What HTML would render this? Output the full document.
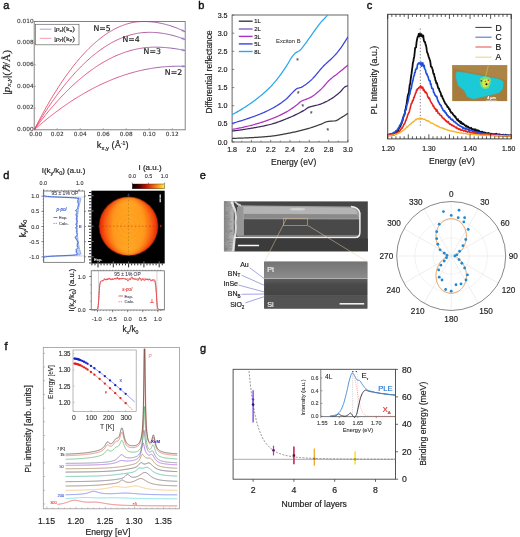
<!DOCTYPE html>
<html><head><meta charset="utf-8"><title>figure</title>
<style>html,body{margin:0;padding:0;background:#fff}svg{display:block}</style></head>
<body><svg width="520" height="537" viewBox="0 0 520 537">
<rect width="520" height="537" fill="#fff"/>
<g filter="url(#soft)">
<g id="panel-a">
<text x="3.2" y="8.8" font-size="11" text-anchor="start" fill="#111" font-family="Liberation Sans, sans-serif" stroke="#111" stroke-width="0.4">a</text>
<rect x="34.2" y="21.5" width="151" height="108.3" fill="#fff" stroke="#777" stroke-width="0.9"/>
<clipPath id="clipA"><rect x="34.2" y="20.5" width="151" height="110.3"/></clipPath>
<g clip-path="url(#clipA)">
<path d="M181.62 30.09 L182.7 30.59 L183.77 31.09 L184.85 31.61" fill="none" stroke="#cdbfe9" stroke-width="2.6" opacity="0.8"/>
<path d="M34.2 129.8 L35.28 127.68 L36.35 125.58 L37.43 123.49 L38.5 121.43 L39.58 119.4 L40.66 117.38 L41.73 115.38 L42.81 113.41 L43.88 111.45 L44.96 109.52 L46.04 107.6 L47.11 105.71 L48.19 103.84 L49.27 101.99 L50.34 100.16 L51.42 98.35 L52.49 96.57 L53.57 94.8 L54.65 93.06 L55.72 91.33 L56.8 89.63 L57.87 87.95 L58.95 86.29 L60.03 84.65 L61.1 83.03 L62.18 81.43 L63.25 79.86 L64.33 78.3 L65.41 76.77 L66.48 75.25 L67.56 73.76 L68.63 72.29 L69.71 70.84 L70.79 69.41 L71.86 68 L72.94 66.61 L74.01 65.25 L75.09 63.9 L76.17 62.58 L77.24 61.27 L78.32 59.99 L79.4 58.73 L80.47 57.49 L81.55 56.27 L82.62 55.07 L83.7 53.89 L84.78 52.74 L85.85 51.6 L86.93 50.49 L88 49.4 L89.08 48.32 L90.16 47.27 L91.23 46.24 L92.31 45.23 L93.38 44.24 L94.46 43.28 L95.54 42.33 L96.61 41.41 L97.69 40.5 L98.76 39.62 L99.84 38.76 L100.92 37.92 L101.99 37.1 L103.07 36.3 L104.14 35.52 L105.22 34.76 L106.3 34.03 L107.37 33.31 L108.45 32.62 L109.53 31.94 L110.6 31.29 L111.68 30.66 L112.75 30.05 L113.83 29.46 L114.91 28.89 L115.98 28.35 L117.06 27.82 L118.13 27.32 L119.21 26.83 L120.29 26.37 L121.36 25.93 L122.44 25.51 L123.51 25.11 L124.59 24.73 L125.67 24.37 L126.74 24.03 L127.82 23.72 L128.89 23.42 L129.97 23.15 L131.05 22.9 L132.12 22.66 L133.2 22.45 L134.27 22.26 L135.35 22.1 L136.43 21.95 L137.5 21.82 L138.58 21.72 L139.66 21.63 L140.73 21.57 L141.81 21.52 L142.88 21.5 L143.96 21.5 L145.04 21.51 L146.11 21.54 L147.19 21.58 L148.26 21.64 L149.34 21.7 L150.42 21.79 L151.49 21.88 L152.57 21.99 L153.64 22.11 L154.72 22.25 L155.8 22.4 L156.87 22.56 L157.95 22.74 L159.02 22.93 L160.1 23.14 L161.18 23.35 L162.25 23.59 L163.33 23.83 L164.4 24.09 L165.48 24.36 L166.56 24.65 L167.63 24.95 L168.71 25.26 L169.79 25.59 L170.86 25.93 L171.94 26.29 L173.01 26.65 L174.09 27.04 L175.17 27.43 L176.24 27.84 L177.32 28.26 L178.39 28.7 L179.47 29.15 L180.55 29.62 L181.62 30.09 L182.7 30.59 L183.77 31.09 L184.85 31.61" fill="none" stroke="url(#gradA)" stroke-width="0.8"/>
<path d="M181.62 38.22 L182.7 38.62 L183.77 39.03 L184.85 39.45" fill="none" stroke="#cdbfe9" stroke-width="2.6" opacity="0.8"/>
<path d="M34.2 129.8 L35.28 127.98 L36.35 126.19 L37.43 124.4 L38.5 122.64 L39.58 120.89 L40.66 119.16 L41.73 117.45 L42.81 115.75 L43.88 114.07 L44.96 112.41 L46.04 110.77 L47.11 109.14 L48.19 107.53 L49.27 105.94 L50.34 104.36 L51.42 102.8 L52.49 101.26 L53.57 99.73 L54.65 98.22 L55.72 96.73 L56.8 95.26 L57.87 93.8 L58.95 92.36 L60.03 90.94 L61.1 89.53 L62.18 88.14 L63.25 86.77 L64.33 85.42 L65.41 84.08 L66.48 82.76 L67.56 81.45 L68.63 80.17 L69.71 78.9 L70.79 77.65 L71.86 76.41 L72.94 75.19 L74.01 73.99 L75.09 72.81 L76.17 71.64 L77.24 70.49 L78.32 69.36 L79.4 68.24 L80.47 67.14 L81.55 66.06 L82.62 65 L83.7 63.95 L84.78 62.92 L85.85 61.91 L86.93 60.91 L88 59.93 L89.08 58.97 L90.16 58.02 L91.23 57.1 L92.31 56.19 L93.38 55.29 L94.46 54.41 L95.54 53.55 L96.61 52.71 L97.69 51.89 L98.76 51.08 L99.84 50.29 L100.92 49.51 L101.99 48.75 L103.07 48.01 L104.14 47.29 L105.22 46.59 L106.3 45.9 L107.37 45.22 L108.45 44.57 L109.53 43.93 L110.6 43.31 L111.68 42.71 L112.75 42.12 L113.83 41.55 L114.91 41 L115.98 40.46 L117.06 39.94 L118.13 39.44 L119.21 38.96 L120.29 38.49 L121.36 38.04 L122.44 37.61 L123.51 37.19 L124.59 36.79 L125.67 36.41 L126.74 36.05 L127.82 35.7 L128.89 35.37 L129.97 35.06 L131.05 34.76 L132.12 34.48 L133.2 34.22 L134.27 33.97 L135.35 33.74 L136.43 33.53 L137.5 33.34 L138.58 33.16 L139.66 33 L140.73 32.86 L141.81 32.73 L142.88 32.62 L143.96 32.53 L145.04 32.46 L146.11 32.4 L147.19 32.36 L148.26 32.34 L149.34 32.33 L150.42 32.34 L151.49 32.36 L152.57 32.39 L153.64 32.44 L154.72 32.5 L155.8 32.57 L156.87 32.66 L157.95 32.76 L159.02 32.87 L160.1 33 L161.18 33.13 L162.25 33.28 L163.33 33.45 L164.4 33.62 L165.48 33.81 L166.56 34.02 L167.63 34.23 L168.71 34.46 L169.79 34.7 L170.86 34.96 L171.94 35.23 L173.01 35.51 L174.09 35.8 L175.17 36.11 L176.24 36.43 L177.32 36.76 L178.39 37.1 L179.47 37.46 L180.55 37.83 L181.62 38.22 L182.7 38.62 L183.77 39.03 L184.85 39.45" fill="none" stroke="url(#gradA)" stroke-width="0.8"/>
<path d="M181.62 49.83 L182.7 50.05 L183.77 50.27 L184.85 50.51" fill="none" stroke="#cdbfe9" stroke-width="2.6" opacity="0.8"/>
<path d="M34.2 129.8 L35.28 128.33 L36.35 126.88 L37.43 125.44 L38.5 124.01 L39.58 122.6 L40.66 121.2 L41.73 119.81 L42.81 118.44 L43.88 117.08 L44.96 115.73 L46.04 114.39 L47.11 113.07 L48.19 111.76 L49.27 110.47 L50.34 109.18 L51.42 107.92 L52.49 106.66 L53.57 105.42 L54.65 104.19 L55.72 102.97 L56.8 101.77 L57.87 100.58 L58.95 99.4 L60.03 98.23 L61.1 97.08 L62.18 95.94 L63.25 94.82 L64.33 93.71 L65.41 92.61 L66.48 91.52 L67.56 90.45 L68.63 89.39 L69.71 88.34 L70.79 87.31 L71.86 86.29 L72.94 85.28 L74.01 84.29 L75.09 83.31 L76.17 82.34 L77.24 81.39 L78.32 80.45 L79.4 79.52 L80.47 78.6 L81.55 77.7 L82.62 76.81 L83.7 75.94 L84.78 75.08 L85.85 74.23 L86.93 73.39 L88 72.57 L89.08 71.76 L90.16 70.96 L91.23 70.18 L92.31 69.41 L93.38 68.65 L94.46 67.9 L95.54 67.17 L96.61 66.45 L97.69 65.75 L98.76 65.06 L99.84 64.38 L100.92 63.71 L101.99 63.06 L103.07 62.42 L104.14 61.8 L105.22 61.18 L106.3 60.58 L107.37 60 L108.45 59.42 L109.53 58.86 L110.6 58.31 L111.68 57.78 L112.75 57.26 L113.83 56.75 L114.91 56.26 L115.98 55.77 L117.06 55.3 L118.13 54.85 L119.21 54.41 L120.29 53.98 L121.36 53.56 L122.44 53.16 L123.51 52.77 L124.59 52.39 L125.67 52.03 L126.74 51.68 L127.82 51.34 L128.89 51.01 L129.97 50.7 L131.05 50.41 L132.12 50.12 L133.2 49.85 L134.27 49.59 L135.35 49.34 L136.43 49.11 L137.5 48.89 L138.58 48.69 L139.66 48.49 L140.73 48.31 L141.81 48.15 L142.88 47.99 L143.96 47.85 L145.04 47.72 L146.11 47.61 L147.19 47.51 L148.26 47.42 L149.34 47.35 L150.42 47.28 L151.49 47.23 L152.57 47.2 L153.64 47.18 L154.72 47.17 L155.8 47.17 L156.87 47.18 L157.95 47.2 L159.02 47.23 L160.1 47.27 L161.18 47.31 L162.25 47.37 L163.33 47.43 L164.4 47.5 L165.48 47.58 L166.56 47.67 L167.63 47.77 L168.71 47.88 L169.79 47.99 L170.86 48.11 L171.94 48.25 L173.01 48.39 L174.09 48.54 L175.17 48.7 L176.24 48.86 L177.32 49.04 L178.39 49.22 L179.47 49.42 L180.55 49.62 L181.62 49.83 L182.7 50.05 L183.77 50.27 L184.85 50.51" fill="none" stroke="url(#gradA)" stroke-width="0.8"/>
<path d="M181.62 66.25 L182.7 66.27 L183.77 66.29 L184.85 66.32" fill="none" stroke="#cdbfe9" stroke-width="2.6" opacity="0.8"/>
<path d="M34.2 129.8 L35.28 128.85 L36.35 127.91 L37.43 126.98 L38.5 126.05 L39.58 125.13 L40.66 124.22 L41.73 123.31 L42.81 122.41 L43.88 121.52 L44.96 120.64 L46.04 119.76 L47.11 118.89 L48.19 118.03 L49.27 117.17 L50.34 116.33 L51.42 115.48 L52.49 114.65 L53.57 113.82 L54.65 113 L55.72 112.19 L56.8 111.38 L57.87 110.59 L58.95 109.79 L60.03 109.01 L61.1 108.23 L62.18 107.46 L63.25 106.7 L64.33 105.94 L65.41 105.19 L66.48 104.45 L67.56 103.72 L68.63 102.99 L69.71 102.27 L70.79 101.56 L71.86 100.85 L72.94 100.15 L74.01 99.46 L75.09 98.78 L76.17 98.1 L77.24 97.43 L78.32 96.77 L79.4 96.11 L80.47 95.46 L81.55 94.82 L82.62 94.18 L83.7 93.56 L84.78 92.94 L85.85 92.32 L86.93 91.72 L88 91.12 L89.08 90.53 L90.16 89.94 L91.23 89.36 L92.31 88.79 L93.38 88.23 L94.46 87.67 L95.54 87.12 L96.61 86.58 L97.69 86.05 L98.76 85.52 L99.84 85 L100.92 84.48 L101.99 83.98 L103.07 83.48 L104.14 82.99 L105.22 82.5 L106.3 82.02 L107.37 81.55 L108.45 81.09 L109.53 80.63 L110.6 80.18 L111.68 79.74 L112.75 79.3 L113.83 78.88 L114.91 78.46 L115.98 78.04 L117.06 77.64 L118.13 77.24 L119.21 76.84 L120.29 76.46 L121.36 76.08 L122.44 75.71 L123.51 75.34 L124.59 74.99 L125.67 74.64 L126.74 74.3 L127.82 73.96 L128.89 73.63 L129.97 73.31 L131.05 73 L132.12 72.69 L133.2 72.39 L134.27 72.1 L135.35 71.81 L136.43 71.53 L137.5 71.26 L138.58 71 L139.66 70.74 L140.73 70.49 L141.81 70.25 L142.88 70.01 L143.96 69.78 L145.04 69.56 L146.11 69.35 L147.19 69.14 L148.26 68.94 L149.34 68.75 L150.42 68.56 L151.49 68.38 L152.57 68.21 L153.64 68.05 L154.72 67.89 L155.8 67.74 L156.87 67.59 L157.95 67.46 L159.02 67.33 L160.1 67.21 L161.18 67.09 L162.25 66.99 L163.33 66.89 L164.4 66.79 L165.48 66.71 L166.56 66.63 L167.63 66.56 L168.71 66.49 L169.79 66.43 L170.86 66.38 L171.94 66.34 L173.01 66.3 L174.09 66.27 L175.17 66.25 L176.24 66.24 L177.32 66.23 L178.39 66.23 L179.47 66.23 L180.55 66.24 L181.62 66.25 L182.7 66.27 L183.77 66.29 L184.85 66.32" fill="none" stroke="url(#gradA)" stroke-width="0.8"/>
</g>
<line x1="34.2" y1="129.8" x2="34.2" y2="128.2" stroke="#777" stroke-width="0.6" />
<text x="35.7" y="136.1" font-size="5.8" text-anchor="middle" fill="#333" font-family="DejaVu Sans, sans-serif"  stroke="#333" stroke-width="0.1">0.00</text>
<line x1="57.2" y1="129.8" x2="57.2" y2="128.2" stroke="#777" stroke-width="0.6" />
<text x="57.2" y="136.1" font-size="5.8" text-anchor="middle" fill="#333" font-family="DejaVu Sans, sans-serif"  stroke="#333" stroke-width="0.1">0.02</text>
<line x1="80.2" y1="129.8" x2="80.2" y2="128.2" stroke="#777" stroke-width="0.6" />
<text x="80.2" y="136.1" font-size="5.8" text-anchor="middle" fill="#333" font-family="DejaVu Sans, sans-serif"  stroke="#333" stroke-width="0.1">0.04</text>
<line x1="103.2" y1="129.8" x2="103.2" y2="128.2" stroke="#777" stroke-width="0.6" />
<text x="103.2" y="136.1" font-size="5.8" text-anchor="middle" fill="#333" font-family="DejaVu Sans, sans-serif"  stroke="#333" stroke-width="0.1">0.06</text>
<line x1="126.2" y1="129.8" x2="126.2" y2="128.2" stroke="#777" stroke-width="0.6" />
<text x="126.2" y="136.1" font-size="5.8" text-anchor="middle" fill="#333" font-family="DejaVu Sans, sans-serif"  stroke="#333" stroke-width="0.1">0.08</text>
<line x1="149.2" y1="129.8" x2="149.2" y2="128.2" stroke="#777" stroke-width="0.6" />
<text x="149.2" y="136.1" font-size="5.8" text-anchor="middle" fill="#333" font-family="DejaVu Sans, sans-serif"  stroke="#333" stroke-width="0.1">0.10</text>
<line x1="172.2" y1="129.8" x2="172.2" y2="128.2" stroke="#777" stroke-width="0.6" />
<text x="172.2" y="136.1" font-size="5.8" text-anchor="middle" fill="#333" font-family="DejaVu Sans, sans-serif"  stroke="#333" stroke-width="0.1">0.12</text>
<line x1="34.2" y1="129.8" x2="35.8" y2="129.8" stroke="#777" stroke-width="0.6" />
<text x="33.6" y="131" font-size="5.8" text-anchor="end" fill="#333" font-family="DejaVu Sans, sans-serif"  stroke="#333" stroke-width="0.1">0.000</text>
<line x1="34.2" y1="108.14" x2="35.8" y2="108.14" stroke="#777" stroke-width="0.6" />
<text x="33.6" y="109.34" font-size="5.8" text-anchor="end" fill="#333" font-family="DejaVu Sans, sans-serif"  stroke="#333" stroke-width="0.1">0.002</text>
<line x1="34.2" y1="86.48" x2="35.8" y2="86.48" stroke="#777" stroke-width="0.6" />
<text x="33.6" y="87.68" font-size="5.8" text-anchor="end" fill="#333" font-family="DejaVu Sans, sans-serif"  stroke="#333" stroke-width="0.1">0.004</text>
<line x1="34.2" y1="64.82" x2="35.8" y2="64.82" stroke="#777" stroke-width="0.6" />
<text x="33.6" y="66.02" font-size="5.8" text-anchor="end" fill="#333" font-family="DejaVu Sans, sans-serif"  stroke="#333" stroke-width="0.1">0.006</text>
<line x1="34.2" y1="43.16" x2="35.8" y2="43.16" stroke="#777" stroke-width="0.6" />
<text x="33.6" y="44.36" font-size="5.8" text-anchor="end" fill="#333" font-family="DejaVu Sans, sans-serif"  stroke="#333" stroke-width="0.1">0.008</text>
<line x1="34.2" y1="21.5" x2="35.8" y2="21.5" stroke="#777" stroke-width="0.6" />
<text x="33.6" y="22.7" font-size="5.8" text-anchor="end" fill="#333" font-family="DejaVu Sans, sans-serif"  stroke="#333" stroke-width="0.1">0.010</text>
<rect x="35.6" y="24.3" width="43.4" height="20.5" fill="#fff" stroke="#666" stroke-width="0.7"/>
<line x1="39.8" y1="29.2" x2="51.4" y2="29.2" stroke="#7a78d8" stroke-width="0.7" />
<line x1="39.8" y1="38.3" x2="51.4" y2="38.3" stroke="#f07088" stroke-width="0.7" />
<text x="54.2" y="31.3" font-size="6.2" text-anchor="start" fill="#333" font-family="Liberation Serif, serif" textLength="20.6" lengthAdjust="spacingAndGlyphs" stroke="#333" stroke-width="0.2">|<tspan font-style="italic">p<tspan font-size="4" dy="0.9">x</tspan></tspan><tspan dy="-0.9">|(k</tspan><tspan font-size="4" dy="0.9">x</tspan><tspan dy="-0.9">)</tspan></text>
<text x="54.2" y="40.5" font-size="6.2" text-anchor="start" fill="#333" font-family="Liberation Serif, serif" textLength="20.6" lengthAdjust="spacingAndGlyphs" stroke="#333" stroke-width="0.2">|<tspan font-style="italic">p<tspan font-size="4" dy="0.9">y</tspan></tspan><tspan dy="-0.9">|(k</tspan><tspan font-size="4" dy="0.9">y</tspan><tspan dy="-0.9">)</tspan></text>
<text x="93.5" y="31.3" font-size="7.8" text-anchor="start" fill="#222" font-family="DejaVu Sans, sans-serif"  stroke="#222" stroke-width="0.18">N=5</text>
<text x="122.4" y="42.4" font-size="7.8" text-anchor="start" fill="#222" font-family="DejaVu Sans, sans-serif"  stroke="#222" stroke-width="0.18">N=4</text>
<text x="143.6" y="53.6" font-size="7.8" text-anchor="start" fill="#222" font-family="DejaVu Sans, sans-serif"  stroke="#222" stroke-width="0.18">N=3</text>
<text x="164.8" y="75.4" font-size="7.8" text-anchor="start" fill="#222" font-family="DejaVu Sans, sans-serif"  stroke="#222" stroke-width="0.18">N=2</text>
<text x="96.8" y="147.9" font-size="9.4" text-anchor="start" fill="#222" font-family="Liberation Sans, sans-serif" textLength="31.7" lengthAdjust="spacingAndGlyphs" stroke="#222" stroke-width="0.18">k<tspan font-size="6" dy="1.8">x,y</tspan><tspan dy="-1.8"> (Å</tspan><tspan font-size="5.2" dy="-3">-1</tspan><tspan dy="3">)</tspan></text>
<text x="0" y="0" font-size="10.2" text-anchor="middle" fill="#222" font-family="Liberation Serif, serif" transform="translate(9.6 72.3) rotate(-90)" textLength="45" lengthAdjust="spacingAndGlyphs" stroke="#222" stroke-width="0.15">|<tspan font-style="italic">p<tspan font-size="6.8" dy="1.6">x,y</tspan></tspan><tspan dy="-1.6">|(</tspan><tspan font-style="italic">ℏ</tspan>/Å)</text>
</g>
<g id="panel-b">
<text x="198.2" y="8.9" font-size="11" text-anchor="start" fill="#111" font-family="Liberation Sans, sans-serif" stroke="#111" stroke-width="0.4">b</text>
<rect x="232.1" y="15" width="115.8" height="127" fill="#fff" stroke="#555" stroke-width="0.9"/>
<clipPath id="clipB"><rect x="232.1" y="15" width="115.8" height="127"/></clipPath>
<g clip-path="url(#clipB)">
<path d="M232.1 138.37 L233.07 138.35 L234.05 138.33 L235.02 138.31 L235.99 138.28 L236.97 138.25 L237.94 138.22 L238.91 138.19 L239.88 138.15 L240.86 138.12 L241.83 138.08 L242.8 138.04 L243.78 138 L244.75 137.96 L245.72 137.92 L246.7 137.87 L247.67 137.83 L248.64 137.78 L249.62 137.73 L250.59 137.69 L251.56 137.64 L252.54 137.59 L253.51 137.54 L254.48 137.48 L255.45 137.43 L256.43 137.37 L257.4 137.31 L258.37 137.24 L259.35 137.18 L260.32 137.11 L261.29 137.04 L262.27 136.97 L263.24 136.89 L264.21 136.81 L265.19 136.73 L266.16 136.64 L267.13 136.56 L268.11 136.46 L269.08 136.37 L270.05 136.27 L271.02 136.17 L272 136.05 L272.97 135.93 L273.94 135.8 L274.92 135.66 L275.89 135.52 L276.86 135.37 L277.84 135.21 L278.81 135.05 L279.78 134.88 L280.76 134.71 L281.73 134.53 L282.7 134.35 L283.67 134.17 L284.65 133.98 L285.62 133.79 L286.59 133.6 L287.57 133.41 L288.54 133.22 L289.51 133.03 L290.49 132.83 L291.46 132.64 L292.43 132.43 L293.41 132.23 L294.38 132.02 L295.35 131.8 L296.33 131.58 L297.3 131.35 L298.27 131.13 L299.24 130.89 L300.22 130.65 L301.19 130.41 L302.16 130.16 L303.14 129.91 L304.11 129.66 L305.08 129.39 L306.06 129.13 L307.03 128.86 L308 128.59 L308.98 128.31 L309.95 128.02 L310.92 127.73 L311.89 127.42 L312.87 127.1 L313.84 126.77 L314.81 126.44 L315.79 126.09 L316.76 125.74 L317.73 125.39 L318.71 125.03 L319.68 124.67 L320.65 124.31 L321.63 123.92 L322.6 123.47 L323.57 123 L324.55 122.53 L325.52 122.11 L326.49 121.76 L327.46 121.53 L328.44 121.4 L329.41 121.31 L330.38 121.23 L331.36 121.15 L332.33 121.07 L333.3 121 L334.28 120.91 L335.25 120.79 L336.22 120.56 L337.2 120.14 L338.17 119.59 L339.14 118.97 L340.12 118.33 L341.09 117.73 L342.06 117.15 L343.03 116.56 L344.01 115.95 L344.98 115.32 L345.95 114.68 L346.93 114.02 L347.9 113.34" fill="none" stroke="#3a3a3a" stroke-width="1.25"/>
<path d="M232.1 131.12 L233.07 130.99 L234.05 130.87 L235.02 130.74 L235.99 130.6 L236.97 130.47 L237.94 130.33 L238.91 130.19 L239.88 130.05 L240.86 129.91 L241.83 129.76 L242.8 129.61 L243.78 129.46 L244.75 129.31 L245.72 129.15 L246.7 129 L247.67 128.84 L248.64 128.68 L249.62 128.52 L250.59 128.35 L251.56 128.19 L252.54 128.02 L253.51 127.85 L254.48 127.69 L255.45 127.52 L256.43 127.35 L257.4 127.17 L258.37 127 L259.35 126.82 L260.32 126.64 L261.29 126.45 L262.27 126.26 L263.24 126.06 L264.21 125.86 L265.19 125.65 L266.16 125.44 L267.13 125.22 L268.11 124.99 L269.08 124.75 L270.05 124.5 L271.02 124.25 L272 123.98 L272.97 123.69 L273.94 123.4 L274.92 123.09 L275.89 122.78 L276.86 122.45 L277.84 122.11 L278.81 121.77 L279.78 121.41 L280.76 121.05 L281.73 120.68 L282.7 120.31 L283.67 119.93 L284.65 119.54 L285.62 119.15 L286.59 118.75 L287.57 118.35 L288.54 117.94 L289.51 117.53 L290.49 117.12 L291.46 116.7 L292.43 116.27 L293.41 115.83 L294.38 115.37 L295.35 114.91 L296.33 114.43 L297.3 113.95 L298.27 113.45 L299.24 112.95 L300.22 112.43 L301.19 111.91 L302.16 111.37 L303.14 110.83 L304.11 110.28 L305.08 109.7 L306.06 109 L307.03 108.29 L308 107.63 L308.98 107.11 L309.95 106.79 L310.92 106.56 L311.89 106.36 L312.87 106.15 L313.84 105.92 L314.81 105.7 L315.79 105.47 L316.76 105.24 L317.73 104.98 L318.71 104.71 L319.68 104.39 L320.65 104.05 L321.63 103.67 L322.6 103.27 L323.57 102.84 L324.55 102.39 L325.52 101.93 L326.49 101.45 L327.46 100.96 L328.44 100.45 L329.41 99.9 L330.38 99.33 L331.36 98.73 L332.33 98.11 L333.3 97.46 L334.28 96.78 L335.25 96.07 L336.22 95.32 L337.2 94.53 L338.17 93.72 L339.14 92.87 L340.12 91.99 L341.09 90.99 L342.06 89.81 L343.03 88.63 L344.01 87.6 L344.98 86.87 L345.95 86.38 L346.93 85.99 L347.9 85.77" fill="none" stroke="#3d2a5c" stroke-width="1.25"/>
<path d="M232.1 129.41 L233.07 129.25 L234.05 129.09 L235.02 128.92 L235.99 128.74 L236.97 128.56 L237.94 128.37 L238.91 128.18 L239.88 127.98 L240.86 127.78 L241.83 127.57 L242.8 127.36 L243.78 127.15 L244.75 126.92 L245.72 126.7 L246.7 126.47 L247.67 126.24 L248.64 126 L249.62 125.76 L250.59 125.52 L251.56 125.27 L252.54 125.02 L253.51 124.76 L254.48 124.49 L255.45 124.22 L256.43 123.94 L257.4 123.65 L258.37 123.36 L259.35 123.06 L260.32 122.76 L261.29 122.45 L262.27 122.13 L263.24 121.81 L264.21 121.48 L265.19 121.14 L266.16 120.8 L267.13 120.46 L268.11 120.11 L269.08 119.75 L270.05 119.39 L271.02 119.02 L272 118.64 L272.97 118.26 L273.94 117.87 L274.92 117.47 L275.89 117.06 L276.86 116.64 L277.84 116.21 L278.81 115.77 L279.78 115.32 L280.76 114.86 L281.73 114.38 L282.7 113.9 L283.67 113.4 L284.65 112.89 L285.62 112.37 L286.59 111.83 L287.57 111.26 L288.54 110.66 L289.51 110.05 L290.49 109.42 L291.46 108.77 L292.43 108.11 L293.41 107.43 L294.38 106.73 L295.35 106.03 L296.33 105.31 L297.3 104.56 L298.27 103.7 L299.24 102.79 L300.22 101.93 L301.19 101.22 L302.16 100.73 L303.14 100.35 L304.11 100.03 L305.08 99.69 L306.06 99.31 L307.03 98.92 L308 98.53 L308.98 98.12 L309.95 97.67 L310.92 97.18 L311.89 96.63 L312.87 96.02 L313.84 95.35 L314.81 94.63 L315.79 93.86 L316.76 93.06 L317.73 92.23 L318.71 91.37 L319.68 90.49 L320.65 89.6 L321.63 88.68 L322.6 87.67 L323.57 86.59 L324.55 85.47 L325.52 84.33 L326.49 83.2 L327.46 82.1 L328.44 81.06 L329.41 80.1 L330.38 79.23 L331.36 78.4 L332.33 77.62 L333.3 76.86 L334.28 76.12 L335.25 75.39 L336.22 74.65 L337.2 73.9 L338.17 73.13 L339.14 72.34 L340.12 71.55 L341.09 70.76 L342.06 69.96 L343.03 69.15 L344.01 68.35 L344.98 67.54 L345.95 66.72 L346.93 65.91 L347.9 65.09" fill="none" stroke="#b02fc0" stroke-width="1.25"/>
<path d="M232.1 123.32 L233.07 123.06 L234.05 122.81 L235.02 122.54 L235.99 122.27 L236.97 122 L237.94 121.71 L238.91 121.43 L239.88 121.14 L240.86 120.84 L241.83 120.54 L242.8 120.23 L243.78 119.92 L244.75 119.6 L245.72 119.28 L246.7 118.96 L247.67 118.63 L248.64 118.3 L249.62 117.96 L250.59 117.62 L251.56 117.27 L252.54 116.92 L253.51 116.57 L254.48 116.22 L255.45 115.85 L256.43 115.49 L257.4 115.12 L258.37 114.74 L259.35 114.36 L260.32 113.96 L261.29 113.56 L262.27 113.16 L263.24 112.74 L264.21 112.32 L265.19 111.88 L266.16 111.44 L267.13 110.98 L268.11 110.52 L269.08 110.04 L270.05 109.55 L271.02 109.05 L272 108.53 L272.97 108 L273.94 107.46 L274.92 106.9 L275.89 106.33 L276.86 105.74 L277.84 105.13 L278.81 104.5 L279.78 103.86 L280.76 103.19 L281.73 102.51 L282.7 101.81 L283.67 101.08 L284.65 100.33 L285.62 99.55 L286.59 98.68 L287.57 97.74 L288.54 96.74 L289.51 95.71 L290.49 94.66 L291.46 93.62 L292.43 92.6 L293.41 91.64 L294.38 90.7 L295.35 89.72 L296.33 88.91 L297.3 88.46 L298.27 88.19 L299.24 87.97 L300.22 87.72 L301.19 87.34 L302.16 86.84 L303.14 86.25 L304.11 85.6 L305.08 84.92 L306.06 84.24 L307.03 83.52 L308 82.76 L308.98 81.96 L309.95 81.12 L310.92 80.25 L311.89 79.33 L312.87 78.34 L313.84 77.3 L314.81 76.21 L315.79 75.08 L316.76 73.92 L317.73 72.75 L318.71 71.58 L319.68 70.41 L320.65 69.26 L321.63 68.14 L322.6 67.06 L323.57 66.02 L324.55 65.04 L325.52 64.1 L326.49 63.2 L327.46 62.31 L328.44 61.44 L329.41 60.57 L330.38 59.68 L331.36 58.78 L332.33 57.84 L333.3 56.87 L334.28 55.85 L335.25 54.81 L336.22 53.73 L337.2 52.6 L338.17 51.4 L339.14 50.15 L340.12 48.85 L341.09 47.51 L342.06 46.12 L343.03 44.69 L344.01 43.21 L344.98 41.68 L345.95 40.1 L346.93 38.47 L347.9 36.79" fill="none" stroke="#3a44d8" stroke-width="1.25"/>
<path d="M232.1 114.61 L232.95 114.18 L233.8 113.74 L234.65 113.29 L235.51 112.84 L236.36 112.37 L237.21 111.89 L238.06 111.41 L238.91 110.92 L239.76 110.41 L240.61 109.9 L241.47 109.39 L242.32 108.86 L243.17 108.33 L244.02 107.79 L244.87 107.24 L245.72 106.68 L246.57 106.12 L247.43 105.55 L248.28 104.98 L249.13 104.4 L249.98 103.81 L250.83 103.22 L251.68 102.62 L252.54 102.01 L253.39 101.39 L254.24 100.77 L255.09 100.14 L255.94 99.49 L256.79 98.84 L257.64 98.18 L258.5 97.51 L259.35 96.82 L260.2 96.13 L261.05 95.43 L261.9 94.71 L262.75 93.99 L263.6 93.25 L264.46 92.5 L265.31 91.74 L266.16 90.97 L267.01 90.18 L267.86 89.38 L268.71 88.57 L269.56 87.75 L270.42 86.9 L271.27 86.02 L272.12 85.1 L272.97 84.15 L273.82 83.17 L274.67 82.17 L275.52 81.15 L276.38 80.1 L277.23 79.04 L278.08 77.94 L278.93 76.82 L279.78 75.68 L280.63 74.51 L281.49 73.33 L282.34 72.12 L283.19 70.89 L284.04 69.65 L284.89 68.4 L285.74 67.13 L286.59 65.84 L287.45 64.44 L288.3 62.98 L289.15 61.49 L290 60.01 L290.85 58.58 L291.7 57.26 L292.55 56.08 L293.41 55.05 L294.26 54.12 L295.11 53.3 L295.96 52.63 L296.81 52.12 L297.66 51.7 L298.51 51.28 L299.37 50.78 L300.22 50.09 L301.07 49.2 L301.92 48.17 L302.77 47.05 L303.62 45.89 L304.47 44.77 L305.33 43.66 L306.18 42.52 L307.03 41.36 L307.88 40.17 L308.73 38.97 L309.58 37.76 L310.44 36.54 L311.29 35.32 L312.14 34.11 L312.99 32.92 L313.84 31.73 L314.69 30.57 L315.54 29.39 L316.4 28.2 L317.25 27.02 L318.1 25.85 L318.95 24.71 L319.8 23.61 L320.65 22.55 L321.5 21.55 L322.36 20.6 L323.21 19.7 L324.06 18.82 L324.91 17.95 L325.76 17.07 L326.61 16.16 L327.46 15.22 L328.32 14.22 L329.17 13.2 L330.02 12.16 L330.87 11.09 L331.72 10 L332.57 8.89 L333.43 7.76" fill="none" stroke="#2aa8e8" stroke-width="1.25"/>
</g>
<line x1="232.1" y1="142" x2="234.3" y2="142" stroke="#555" stroke-width="0.7" />
<text x="227.5" y="144.6" font-size="7.1" text-anchor="end" fill="#222" font-family="Liberation Sans, sans-serif"  stroke="#222" stroke-width="0.18">0.0</text>
<line x1="232.1" y1="123.86" x2="234.3" y2="123.86" stroke="#555" stroke-width="0.7" />
<text x="227.5" y="126.46" font-size="7.1" text-anchor="end" fill="#222" font-family="Liberation Sans, sans-serif"  stroke="#222" stroke-width="0.18">0.5</text>
<line x1="232.1" y1="105.72" x2="234.3" y2="105.72" stroke="#555" stroke-width="0.7" />
<text x="227.5" y="108.32" font-size="7.1" text-anchor="end" fill="#222" font-family="Liberation Sans, sans-serif"  stroke="#222" stroke-width="0.18">1.0</text>
<line x1="232.1" y1="87.58" x2="234.3" y2="87.58" stroke="#555" stroke-width="0.7" />
<text x="227.5" y="90.18" font-size="7.1" text-anchor="end" fill="#222" font-family="Liberation Sans, sans-serif"  stroke="#222" stroke-width="0.18">1.5</text>
<line x1="232.1" y1="69.44" x2="234.3" y2="69.44" stroke="#555" stroke-width="0.7" />
<text x="227.5" y="72.04" font-size="7.1" text-anchor="end" fill="#222" font-family="Liberation Sans, sans-serif"  stroke="#222" stroke-width="0.18">2.0</text>
<line x1="232.1" y1="51.3" x2="234.3" y2="51.3" stroke="#555" stroke-width="0.7" />
<text x="227.5" y="53.9" font-size="7.1" text-anchor="end" fill="#222" font-family="Liberation Sans, sans-serif"  stroke="#222" stroke-width="0.18">2.5</text>
<line x1="232.1" y1="33.16" x2="234.3" y2="33.16" stroke="#555" stroke-width="0.7" />
<text x="227.5" y="35.76" font-size="7.1" text-anchor="end" fill="#222" font-family="Liberation Sans, sans-serif"  stroke="#222" stroke-width="0.18">3.0</text>
<line x1="232.1" y1="15.02" x2="234.3" y2="15.02" stroke="#555" stroke-width="0.7" />
<text x="227.5" y="17.62" font-size="7.1" text-anchor="end" fill="#222" font-family="Liberation Sans, sans-serif"  stroke="#222" stroke-width="0.18">3.5</text>
<line x1="232.1" y1="142" x2="232.1" y2="139.8" stroke="#555" stroke-width="0.7" />
<text x="232.1" y="152" font-size="7.1" text-anchor="middle" fill="#222" font-family="Liberation Sans, sans-serif"  stroke="#222" stroke-width="0.18">1.8</text>
<line x1="241.75" y1="142" x2="241.75" y2="140.7" stroke="#555" stroke-width="0.7" />
<line x1="251.4" y1="142" x2="251.4" y2="139.8" stroke="#555" stroke-width="0.7" />
<text x="251.4" y="152" font-size="7.1" text-anchor="middle" fill="#222" font-family="Liberation Sans, sans-serif"  stroke="#222" stroke-width="0.18">2.0</text>
<line x1="261.05" y1="142" x2="261.05" y2="140.7" stroke="#555" stroke-width="0.7" />
<line x1="270.7" y1="142" x2="270.7" y2="139.8" stroke="#555" stroke-width="0.7" />
<text x="270.7" y="152" font-size="7.1" text-anchor="middle" fill="#222" font-family="Liberation Sans, sans-serif"  stroke="#222" stroke-width="0.18">2.2</text>
<line x1="280.35" y1="142" x2="280.35" y2="140.7" stroke="#555" stroke-width="0.7" />
<line x1="290" y1="142" x2="290" y2="139.8" stroke="#555" stroke-width="0.7" />
<text x="290" y="152" font-size="7.1" text-anchor="middle" fill="#222" font-family="Liberation Sans, sans-serif"  stroke="#222" stroke-width="0.18">2.4</text>
<line x1="299.65" y1="142" x2="299.65" y2="140.7" stroke="#555" stroke-width="0.7" />
<line x1="309.3" y1="142" x2="309.3" y2="139.8" stroke="#555" stroke-width="0.7" />
<text x="309.3" y="152" font-size="7.1" text-anchor="middle" fill="#222" font-family="Liberation Sans, sans-serif"  stroke="#222" stroke-width="0.18">2.6</text>
<line x1="318.95" y1="142" x2="318.95" y2="140.7" stroke="#555" stroke-width="0.7" />
<line x1="328.6" y1="142" x2="328.6" y2="139.8" stroke="#555" stroke-width="0.7" />
<text x="328.6" y="152" font-size="7.1" text-anchor="middle" fill="#222" font-family="Liberation Sans, sans-serif"  stroke="#222" stroke-width="0.18">2.8</text>
<line x1="338.25" y1="142" x2="338.25" y2="140.7" stroke="#555" stroke-width="0.7" />
<line x1="347.9" y1="142" x2="347.9" y2="139.8" stroke="#555" stroke-width="0.7" />
<text x="347.9" y="152" font-size="7.1" text-anchor="middle" fill="#222" font-family="Liberation Sans, sans-serif"  stroke="#222" stroke-width="0.18">3.0</text>
<line x1="238.8" y1="21.2" x2="252.6" y2="21.2" stroke="#3a3a3a" stroke-width="1.4" />
<text x="254.2" y="23.3" font-size="5.8" text-anchor="start" fill="#222" font-family="Liberation Sans, sans-serif" stroke="#222" stroke-width="0.15">1L</text>
<line x1="238.8" y1="29" x2="252.6" y2="29" stroke="#8a5fc0" stroke-width="1.4" />
<text x="254.2" y="31.1" font-size="5.8" text-anchor="start" fill="#222" font-family="Liberation Sans, sans-serif" stroke="#222" stroke-width="0.15">2L</text>
<line x1="238.8" y1="36.4" x2="252.6" y2="36.4" stroke="#b02fc0" stroke-width="1.4" />
<text x="254.2" y="38.5" font-size="5.8" text-anchor="start" fill="#222" font-family="Liberation Sans, sans-serif" stroke="#222" stroke-width="0.15">3L</text>
<line x1="238.8" y1="43.9" x2="252.6" y2="43.9" stroke="#3a44d8" stroke-width="1.4" />
<text x="254.2" y="46" font-size="5.8" text-anchor="start" fill="#222" font-family="Liberation Sans, sans-serif" stroke="#222" stroke-width="0.15">5L</text>
<line x1="238.8" y1="51.5" x2="252.6" y2="51.5" stroke="#2aa8e8" stroke-width="1.4" />
<text x="254.2" y="53.6" font-size="5.8" text-anchor="start" fill="#222" font-family="Liberation Sans, sans-serif" stroke="#222" stroke-width="0.15">8L</text>
<text x="288.3" y="43.3" font-size="5.8" text-anchor="middle" fill="#444" font-family="Liberation Sans, sans-serif"  stroke="#444" stroke-width="0.1">Exciton B</text>
<text x="297.5" y="63.2" font-size="6.5" text-anchor="middle" fill="#444" font-family="Liberation Sans, sans-serif"  stroke="#444" stroke-width="0.1">*</text>
<text x="298.3" y="96" font-size="6.5" text-anchor="middle" fill="#444" font-family="Liberation Sans, sans-serif"  stroke="#444" stroke-width="0.1">*</text>
<text x="302.7" y="109.4" font-size="6.5" text-anchor="middle" fill="#444" font-family="Liberation Sans, sans-serif"  stroke="#444" stroke-width="0.1">*</text>
<text x="311.3" y="116.3" font-size="6.5" text-anchor="middle" fill="#444" font-family="Liberation Sans, sans-serif"  stroke="#444" stroke-width="0.1">*</text>
<text x="327.7" y="132.5" font-size="6.5" text-anchor="middle" fill="#444" font-family="Liberation Sans, sans-serif"  stroke="#444" stroke-width="0.1">*</text>
<text x="0" y="0" font-size="8.4" text-anchor="middle" fill="#222" font-family="Liberation Sans, sans-serif" transform="translate(211.6 72) rotate(-90)"  stroke="#222" stroke-width="0.18">Differential reflectance</text>
<text x="293.7" y="164.6" font-size="8.5" text-anchor="middle" fill="#222" font-family="Liberation Sans, sans-serif"  stroke="#222" stroke-width="0.18">Energy (eV)</text>
</g>
<g id="panel-c">
<text x="366.8" y="8.6" font-size="11" text-anchor="start" fill="#111" font-family="Liberation Sans, sans-serif" stroke="#111" stroke-width="0.4">c</text>
<rect x="387.7" y="14.3" width="123.5" height="124.6" fill="#fff" stroke="#444" stroke-width="1"/>
<clipPath id="clipC"><rect x="387.7" y="14.3" width="123.5" height="124.6"/></clipPath>
<g clip-path="url(#clipC)">
<line x1="420.3" y1="28.5" x2="420.3" y2="126" stroke="#667" stroke-width="0.9" stroke-dasharray="1.2 2"/>
<path d="M387.7 135.71 L388.15 134.92 L388.6 135.04 L389.05 135.1 L389.5 134.62 L389.95 134.81 L390.4 134.72 L390.85 134.02 L391.3 134.87 L391.75 134.6 L392.2 134.03 L392.65 134.04 L393.1 134.1 L393.55 133.64 L394 133.43 L394.45 132.75 L394.9 133.2 L395.35 132.74 L395.8 132.46 L396.25 131.41 L396.7 132.18 L397.15 131.16 L397.6 130.44 L398.05 130.81 L398.5 129.38 L398.95 128.13 L399.4 127.8 L399.85 126.18 L400.3 126.69 L400.75 125.08 L401.2 123.87 L401.65 123.55 L402.1 121.04 L402.55 120.74 L403 118.02 L403.45 117.17 L403.9 115.23 L404.35 114.92 L404.8 113.26 L405.25 110.11 L405.7 108.73 L406.15 105.94 L406.6 104.13 L407.05 100.87 L407.5 97.71 L407.95 95.01 L408.4 93.92 L408.85 92.61 L409.3 88.27 L409.75 84.73 L410.2 83.85 L410.65 79.44 L411.1 76.3 L411.55 73.4 L412 69.99 L412.45 66.78 L412.9 62.61 L413.35 61.65 L413.8 58.11 L414.25 56.71 L414.7 52.24 L415.15 47.82 L415.6 47.44 L416.05 47.29 L416.5 42.6 L416.95 39.99 L417.4 37.82 L417.85 36.45 L418.3 36.09 L418.75 33.88 L419.2 36.59 L419.65 33.72 L420.1 33.97 L420.55 35.73 L421 36.02 L421.45 34.16 L421.9 35.46 L422.35 36.73 L422.8 36.44 L423.25 35.46 L423.7 39.75 L424.15 41.33 L424.6 42.1 L425.05 41.9 L425.5 44.32 L425.95 45.41 L426.4 47.38 L426.85 50.88 L427.3 52.79 L427.75 53.46 L428.2 54.99 L428.65 56.8 L429.1 57.71 L429.55 59.3 L430 60.33 L430.45 62.62 L430.9 66.61 L431.35 66.78 L431.8 67.14 L432.25 68.57 L432.7 69.74 L433.15 72.43 L433.6 73.93 L434.05 73.69 L434.5 76.89 L434.95 77.35 L435.4 80.49 L435.85 80.72 L436.3 83.37 L436.75 82.82 L437.2 84.23 L437.65 85.96 L438.1 87.78 L438.55 88.57 L439 88.32 L439.45 90.56 L439.9 91.55 L440.35 92.3 L440.8 93.21 L441.25 96.01 L441.7 95.46 L442.15 96.13 L442.6 98.15 L443.05 98.74 L443.5 99.53 L443.95 101.01 L444.4 101.69 L444.85 102.46 L445.3 103.69 L445.75 104.07 L446.2 104.3 L446.65 105.24 L447.1 105.91 L447.55 107.11 L448 107.05 L448.45 107.32 L448.9 109.16 L449.35 109 L449.8 109.31 L450.25 111.3 L450.7 111.31 L451.15 112.61 L451.6 112.63 L452.05 112.89 L452.5 113.4 L452.95 114.36 L453.4 115.03 L453.85 115.27 L454.3 116.07 L454.75 115.92 L455.2 117.22 L455.65 116.77 L456.1 118.06 L456.55 118.96 L457 119.59 L457.45 120.33 L457.9 119.15 L458.35 120.68 L458.8 121.3 L459.25 121.58 L459.7 121.05 L460.15 122.05 L460.6 123.09 L461.05 121.88 L461.5 123.14 L461.95 123.77 L462.4 123.27 L462.85 124.17 L463.3 123.74 L463.75 124.16 L464.2 124.46 L464.65 125.19 L465.1 125.35 L465.55 126.08 L466 125.53 L466.45 126.14 L466.9 126.85 L467.35 126.93 L467.8 126.38 L468.25 127.45 L468.7 127.2 L469.15 127.79 L469.6 127.97 L470.05 128.56 L470.5 128.31 L470.95 127.72 L471.4 128.11 L471.85 129.15 L472.3 128.94 L472.75 129.68 L473.2 129.52 L473.65 129.29 L474.1 130.18 L474.55 129.6 L475 129.28 L475.45 131.04 L475.9 129.65 L476.35 130.78 L476.8 131.04 L477.25 130.88 L477.7 130.32 L478.15 131.48 L478.6 130.68 L479.05 130.85 L479.5 131.34 L479.95 131.9 L480.4 131.83 L480.85 132.14 L481.3 131.78 L481.75 132 L482.2 131.75 L482.65 132.15 L483.1 132.59 L483.55 132.36 L484 132.74 L484.45 132.45 L484.9 132.54 L485.35 132.86 L485.8 132.86 L486.25 133.23 L486.7 133.16 L487.15 133.81 L487.6 133.18 L488.05 133.26 L488.5 133.04 L488.95 133.49 L489.4 133.8 L489.85 133.36 L490.3 133.68 L490.75 134.01 L491.2 133.78 L491.65 133.7 L492.1 134.29 L492.55 134.04 L493 134.2 L493.45 134.53 L493.9 134.58 L494.35 134.11 L494.8 134.1 L495.25 134.43 L495.7 134.34 L496.15 133.77 L496.6 134.92 L497.05 134.53 L497.5 134.83 L497.95 134.21 L498.4 135.1 L498.85 134.5 L499.3 134.7 L499.75 134.3 L500.2 134.76 L500.65 134.78 L501.1 134.83 L501.55 135.08 L502 134.98 L502.45 135.33 L502.9 134.87 L503.35 134.72 L503.8 135.09 L504.25 135.34 L504.7 135.58 L505.15 135.46 L505.6 134.61 L506.05 135.37 L506.5 135.76 L506.95 135.31 L507.4 135.14 L507.85 135.45 L508.3 135.19 L508.75 135.61 L509.2 135.41 L509.65 135.91 L510.1 135.63 L510.55 135.23 L511 135.7" fill="none" stroke="#0a0a0a" stroke-width="1.8" stroke-linejoin="round"/>
<path d="M387.7 135.23 L388.15 134.74 L388.6 134.69 L389.05 134.08 L389.5 134.84 L389.95 134.31 L390.4 133.75 L390.85 133.7 L391.3 133.96 L391.75 134.05 L392.2 133.61 L392.65 133.55 L393.1 132.86 L393.55 132.52 L394 132.88 L394.45 132.45 L394.9 131.95 L395.35 131.97 L395.8 130.88 L396.25 130.59 L396.7 130.57 L397.15 130.31 L397.6 129.15 L398.05 129.11 L398.5 127.68 L398.95 127.3 L399.4 126.36 L399.85 125.04 L400.3 124.86 L400.75 124.2 L401.2 122.81 L401.65 121.81 L402.1 121.33 L402.55 119.06 L403 117.73 L403.45 116.82 L403.9 115.22 L404.35 115.05 L404.8 113.1 L405.25 110.99 L405.7 109.55 L406.15 109.83 L406.6 106.25 L407.05 104.44 L407.5 103.31 L407.95 101.73 L408.4 99.64 L408.85 97.04 L409.3 94.97 L409.75 94.27 L410.2 91.9 L410.65 88.8 L411.1 88.98 L411.55 86.79 L412 84.1 L412.45 82.21 L412.9 80.79 L413.35 78.21 L413.8 75.89 L414.25 75.67 L414.7 72.47 L415.15 72.61 L415.6 69.46 L416.05 69.37 L416.5 68.1 L416.95 68.85 L417.4 65.05 L417.85 63.82 L418.3 63.85 L418.75 62.77 L419.2 62.86 L419.65 63.59 L420.1 63.8 L420.55 64.71 L421 62.42 L421.45 66.13 L421.9 65.88 L422.35 64.21 L422.8 62.78 L423.25 65.74 L423.7 66.73 L424.15 65.34 L424.6 68.64 L425.05 69.41 L425.5 69.95 L425.95 72.39 L426.4 73.88 L426.85 73.69 L427.3 75.52 L427.75 75.94 L428.2 77.03 L428.65 78.98 L429.1 80.55 L429.55 80.83 L430 80.67 L430.45 84.12 L430.9 83.54 L431.35 86.05 L431.8 88.45 L432.25 88.19 L432.7 88.41 L433.15 89.3 L433.6 92.28 L434.05 92.47 L434.5 93.88 L434.95 95.14 L435.4 95.46 L435.85 96.25 L436.3 96.78 L436.75 96.32 L437.2 98.26 L437.65 100.08 L438.1 100.89 L438.55 102.09 L439 102.6 L439.45 103.59 L439.9 104.75 L440.35 104.55 L440.8 105.66 L441.25 105.66 L441.7 107.84 L442.15 108.03 L442.6 108.97 L443.05 110.2 L443.5 110.61 L443.95 110.65 L444.4 111.72 L444.85 111.2 L445.3 112.75 L445.75 113.19 L446.2 112.9 L446.65 114.9 L447.1 114.46 L447.55 115.66 L448 115.66 L448.45 116.82 L448.9 117.46 L449.35 116.96 L449.8 117.13 L450.25 118.21 L450.7 119.09 L451.15 119 L451.6 119.32 L452.05 120.21 L452.5 119.25 L452.95 120.53 L453.4 120.62 L453.85 121.69 L454.3 121.64 L454.75 121.85 L455.2 122.51 L455.65 122.41 L456.1 123.32 L456.55 123.38 L457 123.82 L457.45 124 L457.9 124.92 L458.35 124.83 L458.8 125.35 L459.25 125.61 L459.7 125.41 L460.15 126.18 L460.6 126.36 L461.05 126.6 L461.5 126.59 L461.95 126.82 L462.4 127.48 L462.85 128.19 L463.3 127.37 L463.75 128.06 L464.2 127.96 L464.65 128.56 L465.1 128.64 L465.55 129.05 L466 127.96 L466.45 128.87 L466.9 128.93 L467.35 129.4 L467.8 129.37 L468.25 129.57 L468.7 130.16 L469.15 130.71 L469.6 129.36 L470.05 130.31 L470.5 130.65 L470.95 130.7 L471.4 130.73 L471.85 130.56 L472.3 130.82 L472.75 131.47 L473.2 131.7 L473.65 131.52 L474.1 131.36 L474.55 131.76 L475 131.78 L475.45 132.13 L475.9 132.11 L476.35 131.99 L476.8 132.34 L477.25 132.03 L477.7 132.72 L478.15 132.93 L478.6 132.33 L479.05 132.89 L479.5 132.57 L479.95 133.25 L480.4 133.29 L480.85 133.04 L481.3 133.48 L481.75 133.14 L482.2 133.16 L482.65 133.26 L483.1 133.45 L483.55 133.47 L484 133.68 L484.45 133.53 L484.9 133.98 L485.35 134.12 L485.8 133.75 L486.25 133.55 L486.7 134.21 L487.15 134.39 L487.6 134.08 L488.05 133.82 L488.5 134.31 L488.95 134.71 L489.4 133.82 L489.85 134.52 L490.3 134.35 L490.75 134.25 L491.2 134.67 L491.65 134.22 L492.1 134.7 L492.55 135.02 L493 134.75 L493.45 134.5 L493.9 134.3 L494.35 134.47 L494.8 134.36 L495.25 135.33 L495.7 134.86 L496.15 134.68 L496.6 134.65 L497.05 134.74 L497.5 134.97 L497.95 134.75 L498.4 135.57 L498.85 134.96 L499.3 134.97 L499.75 135.29 L500.2 135.63 L500.65 135.62 L501.1 135.16 L501.55 135.39 L502 135.38 L502.45 135.51 L502.9 135.46 L503.35 135.16 L503.8 135.1 L504.25 135.5 L504.7 135.17 L505.15 135.86 L505.6 135.53 L506.05 135.27 L506.5 135.47 L506.95 135.44 L507.4 135.56 L507.85 135.86 L508.3 135.25 L508.75 135.16 L509.2 135.75 L509.65 135.63 L510.1 135.74 L510.55 135.83 L511 135.68" fill="none" stroke="#1f50e0" stroke-width="1.65" stroke-linejoin="round"/>
<path d="M387.7 135.79 L388.15 135.35 L388.6 135.54 L389.05 135.28 L389.5 135.16 L389.95 135.51 L390.4 135.44 L390.85 134.77 L391.3 134.88 L391.75 135.14 L392.2 135.23 L392.65 134.7 L393.1 134.7 L393.55 134.26 L394 135.09 L394.45 134.42 L394.9 134.35 L395.35 134.09 L395.8 133.95 L396.25 133.62 L396.7 133.11 L397.15 133.11 L397.6 132.62 L398.05 132.62 L398.5 131.67 L398.95 131.32 L399.4 131.24 L399.85 130.96 L400.3 130.1 L400.75 129.28 L401.2 128.88 L401.65 128.12 L402.1 128.27 L402.55 127.22 L403 126.6 L403.45 125.45 L403.9 124.27 L404.35 124.05 L404.8 123.32 L405.25 121.9 L405.7 120.61 L406.15 120.03 L406.6 118.25 L407.05 117.64 L407.5 115.71 L407.95 114.33 L408.4 113.88 L408.85 112.47 L409.3 112.05 L409.75 109.46 L410.2 108.28 L410.65 106.18 L411.1 104.32 L411.55 102.97 L412 103.11 L412.45 100.61 L412.9 100.91 L413.35 99.84 L413.8 97.3 L414.25 97.56 L414.7 95.27 L415.15 94.86 L415.6 92.69 L416.05 92.67 L416.5 90.15 L416.95 90.64 L417.4 88.95 L417.85 88.58 L418.3 88.69 L418.75 87.84 L419.2 87.28 L419.65 87.78 L420.1 87.73 L420.55 85.77 L421 87.62 L421.45 87.91 L421.9 86.92 L422.35 88.29 L422.8 87.22 L423.25 90.15 L423.7 89.26 L424.15 90.01 L424.6 91.76 L425.05 91.32 L425.5 92.67 L425.95 92.07 L426.4 93.24 L426.85 93.38 L427.3 95.12 L427.75 96.89 L428.2 97.07 L428.65 98.37 L429.1 97.74 L429.55 98.66 L430 99.77 L430.45 101.3 L430.9 101.92 L431.35 102.43 L431.8 103.62 L432.25 103.85 L432.7 104.67 L433.15 106.26 L433.6 105.75 L434.05 106.94 L434.5 108.51 L434.95 108.25 L435.4 109.28 L435.85 109.14 L436.3 111.28 L436.75 109.47 L437.2 110.73 L437.65 111.38 L438.1 113.45 L438.55 113.32 L439 113.55 L439.45 113.56 L439.9 114.96 L440.35 115.35 L440.8 115.45 L441.25 115.56 L441.7 116.25 L442.15 117.37 L442.6 117.89 L443.05 118.23 L443.5 118.57 L443.95 118.26 L444.4 119.52 L444.85 119.45 L445.3 120.33 L445.75 120.91 L446.2 120.8 L446.65 121.03 L447.1 122.26 L447.55 122.34 L448 122.28 L448.45 121.66 L448.9 123.2 L449.35 123.8 L449.8 124.31 L450.25 123.91 L450.7 124.23 L451.15 124.6 L451.6 125.38 L452.05 124.9 L452.5 125.57 L452.95 125.54 L453.4 126.24 L453.85 125.83 L454.3 126.78 L454.75 126.71 L455.2 127.04 L455.65 127.53 L456.1 127.97 L456.55 127.21 L457 128.34 L457.45 128.4 L457.9 128.32 L458.35 129.08 L458.8 128.87 L459.25 129.41 L459.7 128.99 L460.15 129.08 L460.6 129.92 L461.05 130.38 L461.5 130.06 L461.95 130.3 L462.4 130.04 L462.85 129.93 L463.3 130.42 L463.75 131.09 L464.2 130.22 L464.65 130.77 L465.1 130.48 L465.55 131.22 L466 131.57 L466.45 131.08 L466.9 131.44 L467.35 132.06 L467.8 131.77 L468.25 131.56 L468.7 131.65 L469.15 131.56 L469.6 132.45 L470.05 132.13 L470.5 132.73 L470.95 132.77 L471.4 132.45 L471.85 132.58 L472.3 133.02 L472.75 132.94 L473.2 133.06 L473.65 132.62 L474.1 133.39 L474.55 133 L475 132.7 L475.45 133.22 L475.9 133.57 L476.35 134.08 L476.8 133.5 L477.25 133.32 L477.7 134.28 L478.15 133.84 L478.6 133.79 L479.05 133.65 L479.5 133.72 L479.95 134.42 L480.4 134.03 L480.85 134.02 L481.3 134.08 L481.75 134.66 L482.2 134.16 L482.65 134.52 L483.1 134.48 L483.55 134.52 L484 134.29 L484.45 134.71 L484.9 134.99 L485.35 134.63 L485.8 134.45 L486.25 134.4 L486.7 134.81 L487.15 134.73 L487.6 134.81 L488.05 134.88 L488.5 134.55 L488.95 135.14 L489.4 135.04 L489.85 135 L490.3 135.1 L490.75 135.3 L491.2 135.12 L491.65 134.93 L492.1 135.45 L492.55 135.09 L493 135.05 L493.45 134.88 L493.9 135.28 L494.35 135.05 L494.8 135.21 L495.25 135.46 L495.7 135.39 L496.15 135.64 L496.6 135.5 L497.05 135.35 L497.5 135.39 L497.95 135.37 L498.4 135.66 L498.85 135.53 L499.3 135.45 L499.75 135.77 L500.2 135.61 L500.65 135.5 L501.1 135.27 L501.55 135.74 L502 135.71 L502.45 135.68 L502.9 135.59 L503.35 135.51 L503.8 135.67 L504.25 135.79 L504.7 135.72 L505.15 135.73 L505.6 135.67 L506.05 135.87 L506.5 135.86 L506.95 135.64 L507.4 136 L507.85 136.02 L508.3 136.04 L508.75 135.83 L509.2 135.83 L509.65 135.62 L510.1 136.07 L510.55 135.41 L511 135.82" fill="none" stroke="#e8201c" stroke-width="1.6" stroke-linejoin="round"/>
<path d="M387.7 135.71 L388.15 135.78 L388.6 135.66 L389.05 135.51 L389.5 135.41 L389.95 135.43 L390.4 135.45 L390.85 135.38 L391.3 135.29 L391.75 135.16 L392.2 135.13 L392.65 135.17 L393.1 134.84 L393.55 134.87 L394 134.94 L394.45 134.7 L394.9 134.46 L395.35 134.45 L395.8 134.14 L396.25 134.08 L396.7 134.11 L397.15 133.99 L397.6 133.34 L398.05 133.46 L398.5 133.43 L398.95 132.87 L399.4 132.76 L399.85 132.71 L400.3 132.16 L400.75 132.05 L401.2 131.7 L401.65 131.11 L402.1 131.19 L402.55 130.79 L403 130.67 L403.45 130.56 L403.9 129.97 L404.35 129.42 L404.8 129.22 L405.25 128.8 L405.7 128.6 L406.15 127.69 L406.6 127.35 L407.05 126.75 L407.5 126.96 L407.95 126.4 L408.4 125.84 L408.85 125.4 L409.3 125.02 L409.75 124.51 L410.2 124.26 L410.65 123.8 L411.1 123.92 L411.55 123.22 L412 122.49 L412.45 122.17 L412.9 122.34 L413.35 121.75 L413.8 121.35 L414.25 121.15 L414.7 121.12 L415.15 119.89 L415.6 119.76 L416.05 119.16 L416.5 119.68 L416.95 119.16 L417.4 118.86 L417.85 118.66 L418.3 119.03 L418.75 118.62 L419.2 118.4 L419.65 118.98 L420.1 118.13 L420.55 118.05 L421 119.46 L421.45 118.44 L421.9 118.45 L422.35 118.47 L422.8 118.79 L423.25 119.24 L423.7 119.37 L424.15 119.45 L424.6 119.34 L425.05 119.11 L425.5 119.92 L425.95 120.54 L426.4 120.6 L426.85 120.41 L427.3 120.96 L427.75 120.8 L428.2 121.15 L428.65 121.02 L429.1 121.55 L429.55 121.94 L430 122.09 L430.45 122.62 L430.9 123.19 L431.35 123.26 L431.8 123.03 L432.25 123.15 L432.7 123.42 L433.15 123.57 L433.6 124.09 L434.05 124.43 L434.5 124.59 L434.95 124.83 L435.4 125.04 L435.85 125.19 L436.3 125.25 L436.75 126.09 L437.2 126.13 L437.65 125.86 L438.1 126.07 L438.55 126.36 L439 126.7 L439.45 127.19 L439.9 127.32 L440.35 127.52 L440.8 127.71 L441.25 127.89 L441.7 127.99 L442.15 128.1 L442.6 128.15 L443.05 127.98 L443.5 128.49 L443.95 129.05 L444.4 128.73 L444.85 128.87 L445.3 129.35 L445.75 129.32 L446.2 129.36 L446.65 129.9 L447.1 129.86 L447.55 130.02 L448 129.91 L448.45 130.24 L448.9 130.35 L449.35 130.55 L449.8 130.74 L450.25 130.86 L450.7 130.81 L451.15 131.02 L451.6 130.83 L452.05 131.24 L452.5 131.36 L452.95 131.29 L453.4 131.34 L453.85 131.56 L454.3 131.47 L454.75 131.82 L455.2 131.91 L455.65 131.82 L456.1 132.07 L456.55 132.31 L457 132.4 L457.45 132.48 L457.9 132.39 L458.35 132.45 L458.8 132.53 L459.25 132.75 L459.7 133.08 L460.15 133.02 L460.6 133.12 L461.05 133.16 L461.5 132.82 L461.95 133.09 L462.4 133.12 L462.85 133.42 L463.3 133.55 L463.75 133.29 L464.2 133.45 L464.65 133.58 L465.1 133.51 L465.55 133.55 L466 133.6 L466.45 133.86 L466.9 133.69 L467.35 134 L467.8 133.92 L468.25 134.06 L468.7 134.21 L469.15 133.98 L469.6 134.01 L470.05 134.21 L470.5 134.08 L470.95 134.17 L471.4 134.29 L471.85 134.36 L472.3 134.24 L472.75 134.38 L473.2 134.54 L473.65 134.67 L474.1 134.32 L474.55 134.74 L475 134.73 L475.45 134.54 L475.9 134.53 L476.35 134.78 L476.8 134.72 L477.25 134.82 L477.7 134.93 L478.15 134.83 L478.6 134.92 L479.05 134.98 L479.5 135.06 L479.95 135.18 L480.4 135.2 L480.85 135.07 L481.3 135.05 L481.75 135.36 L482.2 135.2 L482.65 135.2 L483.1 135.06 L483.55 135.29 L484 135.15 L484.45 135.2 L484.9 135.13 L485.35 135.24 L485.8 135.33 L486.25 135.19 L486.7 135.27 L487.15 135.38 L487.6 135.27 L488.05 135.29 L488.5 135.36 L488.95 135.32 L489.4 135.54 L489.85 135.4 L490.3 135.59 L490.75 135.63 L491.2 135.43 L491.65 135.57 L492.1 135.54 L492.55 135.49 L493 135.58 L493.45 135.61 L493.9 135.72 L494.35 135.76 L494.8 135.56 L495.25 135.65 L495.7 135.75 L496.15 135.83 L496.6 135.49 L497.05 135.87 L497.5 135.74 L497.95 135.91 L498.4 135.73 L498.85 135.71 L499.3 135.8 L499.75 135.92 L500.2 135.82 L500.65 135.6 L501.1 135.91 L501.55 135.7 L502 135.77 L502.45 135.76 L502.9 135.7 L503.35 135.77 L503.8 135.8 L504.25 135.85 L504.7 135.91 L505.15 135.89 L505.6 135.79 L506.05 135.92 L506.5 136.04 L506.95 136.05 L507.4 135.98 L507.85 136.03 L508.3 136.06 L508.75 136.12 L509.2 136.15 L509.65 135.97 L510.1 135.98 L510.55 136.15 L511 136.17" fill="none" stroke="#f5b22a" stroke-width="1.35" stroke-linejoin="round"/>
</g>
<line x1="387.7" y1="138.9" x2="387.7" y2="134.3" stroke="#222" stroke-width="0.75" />
<line x1="387.7" y1="14.3" x2="387.7" y2="18.9" stroke="#222" stroke-width="0.75" />
<line x1="391.82" y1="138.9" x2="391.82" y2="136.3" stroke="#222" stroke-width="0.75" />
<line x1="391.82" y1="14.3" x2="391.82" y2="16.9" stroke="#222" stroke-width="0.75" />
<line x1="395.93" y1="138.9" x2="395.93" y2="136.3" stroke="#222" stroke-width="0.75" />
<line x1="395.93" y1="14.3" x2="395.93" y2="16.9" stroke="#222" stroke-width="0.75" />
<line x1="400.05" y1="138.9" x2="400.05" y2="136.3" stroke="#222" stroke-width="0.75" />
<line x1="400.05" y1="14.3" x2="400.05" y2="16.9" stroke="#222" stroke-width="0.75" />
<line x1="404.17" y1="138.9" x2="404.17" y2="136.3" stroke="#222" stroke-width="0.75" />
<line x1="404.17" y1="14.3" x2="404.17" y2="16.9" stroke="#222" stroke-width="0.75" />
<line x1="408.29" y1="138.9" x2="408.29" y2="134.3" stroke="#222" stroke-width="0.75" />
<line x1="408.29" y1="14.3" x2="408.29" y2="18.9" stroke="#222" stroke-width="0.75" />
<line x1="412.4" y1="138.9" x2="412.4" y2="136.3" stroke="#222" stroke-width="0.75" />
<line x1="412.4" y1="14.3" x2="412.4" y2="16.9" stroke="#222" stroke-width="0.75" />
<line x1="416.52" y1="138.9" x2="416.52" y2="136.3" stroke="#222" stroke-width="0.75" />
<line x1="416.52" y1="14.3" x2="416.52" y2="16.9" stroke="#222" stroke-width="0.75" />
<line x1="420.64" y1="138.9" x2="420.64" y2="136.3" stroke="#222" stroke-width="0.75" />
<line x1="420.64" y1="14.3" x2="420.64" y2="16.9" stroke="#222" stroke-width="0.75" />
<line x1="424.75" y1="138.9" x2="424.75" y2="136.3" stroke="#222" stroke-width="0.75" />
<line x1="424.75" y1="14.3" x2="424.75" y2="16.9" stroke="#222" stroke-width="0.75" />
<line x1="428.87" y1="138.9" x2="428.87" y2="134.3" stroke="#222" stroke-width="0.75" />
<line x1="428.87" y1="14.3" x2="428.87" y2="18.9" stroke="#222" stroke-width="0.75" />
<line x1="432.99" y1="138.9" x2="432.99" y2="136.3" stroke="#222" stroke-width="0.75" />
<line x1="432.99" y1="14.3" x2="432.99" y2="16.9" stroke="#222" stroke-width="0.75" />
<line x1="437.1" y1="138.9" x2="437.1" y2="136.3" stroke="#222" stroke-width="0.75" />
<line x1="437.1" y1="14.3" x2="437.1" y2="16.9" stroke="#222" stroke-width="0.75" />
<line x1="441.22" y1="138.9" x2="441.22" y2="136.3" stroke="#222" stroke-width="0.75" />
<line x1="441.22" y1="14.3" x2="441.22" y2="16.9" stroke="#222" stroke-width="0.75" />
<line x1="445.34" y1="138.9" x2="445.34" y2="136.3" stroke="#222" stroke-width="0.75" />
<line x1="445.34" y1="14.3" x2="445.34" y2="16.9" stroke="#222" stroke-width="0.75" />
<line x1="449.45" y1="138.9" x2="449.45" y2="134.3" stroke="#222" stroke-width="0.75" />
<line x1="449.45" y1="14.3" x2="449.45" y2="18.9" stroke="#222" stroke-width="0.75" />
<line x1="453.57" y1="138.9" x2="453.57" y2="136.3" stroke="#222" stroke-width="0.75" />
<line x1="453.57" y1="14.3" x2="453.57" y2="16.9" stroke="#222" stroke-width="0.75" />
<line x1="457.69" y1="138.9" x2="457.69" y2="136.3" stroke="#222" stroke-width="0.75" />
<line x1="457.69" y1="14.3" x2="457.69" y2="16.9" stroke="#222" stroke-width="0.75" />
<line x1="461.81" y1="138.9" x2="461.81" y2="136.3" stroke="#222" stroke-width="0.75" />
<line x1="461.81" y1="14.3" x2="461.81" y2="16.9" stroke="#222" stroke-width="0.75" />
<line x1="465.92" y1="138.9" x2="465.92" y2="136.3" stroke="#222" stroke-width="0.75" />
<line x1="465.92" y1="14.3" x2="465.92" y2="16.9" stroke="#222" stroke-width="0.75" />
<line x1="470.04" y1="138.9" x2="470.04" y2="134.3" stroke="#222" stroke-width="0.75" />
<line x1="470.04" y1="14.3" x2="470.04" y2="18.9" stroke="#222" stroke-width="0.75" />
<line x1="474.16" y1="138.9" x2="474.16" y2="136.3" stroke="#222" stroke-width="0.75" />
<line x1="474.16" y1="14.3" x2="474.16" y2="16.9" stroke="#222" stroke-width="0.75" />
<line x1="478.27" y1="138.9" x2="478.27" y2="136.3" stroke="#222" stroke-width="0.75" />
<line x1="478.27" y1="14.3" x2="478.27" y2="16.9" stroke="#222" stroke-width="0.75" />
<line x1="482.39" y1="138.9" x2="482.39" y2="136.3" stroke="#222" stroke-width="0.75" />
<line x1="482.39" y1="14.3" x2="482.39" y2="16.9" stroke="#222" stroke-width="0.75" />
<line x1="486.51" y1="138.9" x2="486.51" y2="136.3" stroke="#222" stroke-width="0.75" />
<line x1="486.51" y1="14.3" x2="486.51" y2="16.9" stroke="#222" stroke-width="0.75" />
<line x1="490.62" y1="138.9" x2="490.62" y2="134.3" stroke="#222" stroke-width="0.75" />
<line x1="490.62" y1="14.3" x2="490.62" y2="18.9" stroke="#222" stroke-width="0.75" />
<line x1="494.74" y1="138.9" x2="494.74" y2="136.3" stroke="#222" stroke-width="0.75" />
<line x1="494.74" y1="14.3" x2="494.74" y2="16.9" stroke="#222" stroke-width="0.75" />
<line x1="498.86" y1="138.9" x2="498.86" y2="136.3" stroke="#222" stroke-width="0.75" />
<line x1="498.86" y1="14.3" x2="498.86" y2="16.9" stroke="#222" stroke-width="0.75" />
<line x1="502.98" y1="138.9" x2="502.98" y2="136.3" stroke="#222" stroke-width="0.75" />
<line x1="502.98" y1="14.3" x2="502.98" y2="16.9" stroke="#222" stroke-width="0.75" />
<line x1="507.09" y1="138.9" x2="507.09" y2="136.3" stroke="#222" stroke-width="0.75" />
<line x1="507.09" y1="14.3" x2="507.09" y2="16.9" stroke="#222" stroke-width="0.75" />
<line x1="511.21" y1="138.9" x2="511.21" y2="134.3" stroke="#222" stroke-width="0.75" />
<line x1="511.21" y1="14.3" x2="511.21" y2="18.9" stroke="#222" stroke-width="0.75" />
<text x="388.2" y="150.5" font-size="7.8" text-anchor="middle" fill="#222" font-family="Liberation Sans, sans-serif" textLength="13.4" lengthAdjust="spacingAndGlyphs" stroke="#222" stroke-width="0.18">1.20</text>
<text x="428.87" y="150.5" font-size="7.8" text-anchor="middle" fill="#222" font-family="Liberation Sans, sans-serif" textLength="13.4" lengthAdjust="spacingAndGlyphs" stroke="#222" stroke-width="0.18">1.30</text>
<text x="470.04" y="150.5" font-size="7.8" text-anchor="middle" fill="#222" font-family="Liberation Sans, sans-serif" textLength="13.4" lengthAdjust="spacingAndGlyphs" stroke="#222" stroke-width="0.18">1.40</text>
<text x="508.71" y="150.5" font-size="7.8" text-anchor="middle" fill="#222" font-family="Liberation Sans, sans-serif" textLength="13.4" lengthAdjust="spacingAndGlyphs" stroke="#222" stroke-width="0.18">1.50</text>
<line x1="475.4" y1="27.4" x2="491.6" y2="27.4" stroke="#222" stroke-width="0.9" />
<text x="495.6" y="30.5" font-size="8.6" text-anchor="start" fill="#111" font-family="Liberation Sans, sans-serif"  stroke="#111" stroke-width="0.18">D</text>
<line x1="475.4" y1="37.2" x2="491.6" y2="37.2" stroke="#2a58d8" stroke-width="0.9" />
<text x="495.6" y="40.3" font-size="8.6" text-anchor="start" fill="#111" font-family="Liberation Sans, sans-serif"  stroke="#111" stroke-width="0.18">C</text>
<line x1="475.4" y1="47" x2="491.6" y2="47" stroke="#e03a30" stroke-width="0.9" />
<text x="495.6" y="50.1" font-size="8.6" text-anchor="start" fill="#111" font-family="Liberation Sans, sans-serif"  stroke="#111" stroke-width="0.18">B</text>
<line x1="475.4" y1="57.2" x2="491.6" y2="57.2" stroke="#f0c66a" stroke-width="0.9" />
<text x="495.6" y="60.3" font-size="8.6" text-anchor="start" fill="#111" font-family="Liberation Sans, sans-serif"  stroke="#111" stroke-width="0.18">A</text>
<text x="0" y="0" font-size="8.8" text-anchor="middle" fill="#222" font-family="Liberation Sans, sans-serif" transform="translate(377.2 80.1) rotate(-90)"  stroke="#222" stroke-width="0.18">PL Intensity (a.u.)</text>
<text x="452" y="163.8" font-size="8.6" text-anchor="middle" fill="#222" font-family="Liberation Sans, sans-serif"  stroke="#222" stroke-width="0.18">Energy (eV)</text>
<g>
<rect x="452.2" y="65.2" width="55" height="35.9" fill="#a67c3e"/>
<polygon points="456.44,71.44 455.5,76.15 457.79,85.57 463.84,90.28 467.21,97.01 473.26,99.3 498.84,93.24 502.87,88.94 503.68,81.53 498.84,78.84 485.38,76.15 465.19,72.38" fill="#1fc9d6" stroke="#5a9a7a" stroke-width="0.5"/>
<polygon points="452.13,65.11 507.18,65.11 507.18,80.19 485.38,75.07 465.19,71.04 452.13,68.08" fill="#b08a4a" opacity="0.6"/>
<line x1="488.34" y1="65.65" x2="485.38" y2="77.5" stroke="#d8c040" stroke-width="0.7" />
<polygon points="480.26,78.17 484.03,76.42 489.41,77.23 491.03,80.19 490.22,84.9 488.34,88.53 484.03,89.07 481.07,86.65 479.72,82.21" fill="#8fe060" opacity="0.85"/>
<polygon points="482.69,80.19 486.72,78.84 489.15,81.53 487.8,86.24 484.3,87.59 482.15,84.23" fill="#e6ea48" opacity="0.85"/>
<circle cx="481.34" cy="80.86" r="0.9" fill="#2838c0"/>
<circle cx="486.45" cy="84.23" r="1.0" fill="#101010"/>
<circle cx="488.34" cy="80.19" r="0.8" fill="#e04020"/>
<circle cx="483.76" cy="85.84" r="0.9" fill="#f4e828"/>
<circle cx="485.38" cy="81.53" r="0.7" fill="#30a060"/>
<text x="491.43" y="99.3" font-size="3.6" text-anchor="middle" fill="#fff" font-family="Liberation Sans, sans-serif" font-weight="bold" stroke="#fff" stroke-width="0.1">4 μm</text>
<line x1="486.05" y1="100.38" x2="496.82" y2="100.38" stroke="#ddd" stroke-width="0.6" />
</g>
</g>
<g id="panel-d">
<text x="3.2" y="178.8" font-size="11" text-anchor="start" fill="#111" font-family="Liberation Sans, sans-serif" stroke="#111" stroke-width="0.4">d</text>
<rect x="43.6" y="191" width="40.8" height="71.3" fill="#fff" stroke="#555" stroke-width="0.7"/>
<line x1="43.6" y1="197.06" x2="84.4" y2="197.06" stroke="#aaa" stroke-width="0.5" />
<line x1="43.6" y1="255.94" x2="84.4" y2="255.94" stroke="#aaa" stroke-width="0.5" />
<path d="M43.6 262.01 L43.6 261.74 L43.6 261.46 L43.6 261.19 L43.6 260.91 L43.6 260.64 L43.6 260.36 L43.6 260.09 L43.6 259.82 L43.6 259.54 L43.6 259.27 L43.6 258.99 L43.6 258.72 L43.6 258.44 L43.6 258.17 L43.6 257.9 L43.6 257.62 L43.6 257.35 L43.6 257.07 L45.63 256.8 L47.64 256.53 L51.18 256.25 L56.29 255.98 L62.41 255.7 L68.35 255.43 L72.77 255.15 L75.48 254.88 L76.91 254.61 L77.2 254.33 L77.59 254.06 L77.7 253.78 L77.02 253.51 L76.85 253.23 L76.78 252.96 L77.08 252.69 L76.85 252.41 L75.97 252.14 L76.39 251.86 L76.43 251.59 L76.18 251.32 L76.59 251.04 L76.64 250.77 L76.65 250.49 L76.37 250.22 L75.84 249.94 L76.14 249.67 L76.2 249.4 L76.46 249.12 L77.11 248.85 L77.49 248.57 L77.96 248.3 L77.88 248.03 L78.05 247.75 L78.12 247.48 L78.02 247.2 L77.3 246.93 L77.33 246.65 L77.36 246.38 L77.03 246.11 L77.08 245.83 L77.16 245.56 L76.98 245.28 L77.43 245.01 L77.3 244.73 L77.84 244.46 L78.03 244.19 L77.46 243.91 L77.7 243.64 L77.22 243.36 L77.78 243.09 L77.85 242.82 L77.95 242.54 L78.34 242.27 L78.28 241.99 L77.47 241.72 L78.03 241.44 L77.48 241.17 L77.55 240.9 L77.27 240.62 L76.94 240.35 L76.8 240.07 L76.91 239.8 L76.83 239.52 L76.94 239.25 L75.91 238.98 L75.99 238.7 L75.78 238.43 L75.5 238.15 L75.46 237.88 L75.5 237.61 L75.08 237.33 L75.05 237.06 L75.41 236.78 L75.88 236.51 L76.03 236.23 L76.67 235.96 L76.99 235.69 L76.9 235.41 L76.78 235.14 L77.04 234.86 L77.35 234.59 L77.22 234.31 L77.29 234.04 L77.18 233.77 L76.81 233.49 L76.67 233.22 L76.85 232.94 L76.82 232.67 L76.58 232.4 L76.45 232.12 L76.25 231.85 L76.48 231.57 L76.85 231.3 L76.81 231.02 L76.53 230.75 L76.97 230.48 L76.85 230.2 L77.04 229.93 L76.69 229.65 L76.44 229.38 L76.38 229.1 L76.24 228.83 L76.1 228.56 L76.36 228.28 L75.89 228.01 L75.88 227.73 L75.74 227.46 L76.36 227.19 L76.97 226.91 L76.79 226.64 L76.85 226.36 L76.76 226.09 L76.59 225.81 L76.94 225.54 L77 225.27 L76.64 224.99 L75.98 224.72 L75.81 224.44 L75.96 224.17 L76.13 223.9 L76.07 223.62 L76.36 223.35 L76.26 223.07 L76.35 222.8 L76.95 222.52 L77.28 222.25 L77.06 221.98 L77.29 221.7 L76.72 221.43 L76.9 221.15 L76.74 220.88 L76.74 220.6 L76.61 220.33 L76.41 220.06 L76.27 219.78 L76.72 219.51 L76.29 219.23 L76.6 218.96 L76.53 218.69 L76.23 218.41 L76.77 218.14 L76.94 217.86 L76.6 217.59 L76.98 217.31 L76.5 217.04 L76.78 216.77 L76.98 216.49 L76.9 216.22 L77.12 215.94 L76.37 215.67 L76.37 215.39 L76.35 215.12 L75.73 214.85 L75.97 214.57 L76.14 214.3 L76.09 214.02 L76.67 213.75 L76.95 213.48 L76.97 213.2 L76.98 212.93 L76.9 212.65 L76.98 212.38 L76.79 212.1 L76.62 211.83 L76.64 211.56 L76.12 211.28 L75.83 211.01 L75.6 210.73 L75.62 210.46 L76.17 210.18 L76.52 209.91 L76.6 209.64 L77.02 209.36 L77.17 209.09 L77.3 208.81 L77.33 208.54 L77.64 208.27 L77.72 207.99 L77.68 207.72 L77.71 207.44 L78.1 207.17 L77.97 206.89 L77.98 206.62 L78 206.35 L78.23 206.07 L78.24 205.8 L78.09 205.52 L78.57 205.25 L78.37 204.97 L78.68 204.7 L78.29 204.43 L78.11 204.15 L78.41 203.88 L78.35 203.6 L78.56 203.33 L78.67 203.06 L78.13 202.78 L78.22 202.51 L77.62 202.23 L78.12 201.96 L78.04 201.68 L78.22 201.41 L77.61 201.14 L77.54 200.86 L77.76 200.59 L77.83 200.31 L78.14 200.04 L78.46 199.77 L78 199.49 L78.1 199.22 L78.23 198.94 L78.63 198.67 L78.05 198.39 L76.5 198.12 L74.11 197.85 L69.36 197.57 L63.29 197.3 L57.55 197.02 L51.18 196.75 L47.64 196.47 L45.63 196.2 L43.6 195.93 L43.6 195.65 L43.6 195.38 L43.6 195.1 L43.6 194.83 L43.6 194.56 L43.6 194.28 L43.6 194.01 L43.6 193.73 L43.6 193.46 L43.6 193.18 L43.6 192.91 L43.6 192.64 L43.6 192.36 L43.6 192.09 L43.6 191.81 L43.6 191.54 L43.6 191.26 L43.6 190.99 L43.6 190.99 L43.6 191.26 L43.6 191.54 L43.6 191.81 L43.6 192.09 L43.6 192.36 L43.6 192.64 L43.6 192.91 L43.6 193.18 L43.6 193.46 L43.6 193.73 L43.6 194.01 L43.6 194.28 L43.6 194.56 L43.6 194.83 L43.6 195.1 L43.6 195.38 L43.6 195.65 L43.6 195.93 L45.67 196.2 L47.72 196.47 L51.33 196.75 L56.76 197.02 L66.11 197.3 L72.01 197.57 L76.21 197.85 L78.68 198.12 L79.94 198.39 L80.52 198.67 L80.75 198.94 L80.81 199.22 L80.79 199.49 L80.73 199.77 L80.65 200.04 L80.56 200.31 L80.48 200.59 L80.39 200.86 L80.3 201.14 L80.21 201.41 L80.13 201.68 L80.05 201.96 L79.96 202.23 L79.88 202.51 L79.8 202.78 L79.73 203.06 L79.65 203.33 L79.58 203.6 L79.5 203.88 L79.43 204.15 L79.36 204.43 L79.29 204.7 L79.23 204.97 L79.16 205.25 L79.09 205.52 L79.03 205.8 L78.97 206.07 L78.91 206.35 L78.85 206.62 L78.79 206.89 L78.74 207.17 L78.68 207.44 L78.63 207.72 L78.57 207.99 L78.52 208.27 L78.47 208.54 L78.42 208.81 L78.38 209.09 L78.33 209.36 L78.28 209.64 L78.24 209.91 L78.2 210.18 L78.16 210.46 L78.11 210.73 L78.07 211.01 L78.04 211.28 L78 211.56 L77.96 211.83 L77.93 212.1 L77.89 212.38 L77.86 212.65 L77.83 212.93 L77.8 213.2 L77.76 213.48 L77.74 213.75 L77.71 214.02 L77.68 214.3 L77.65 214.57 L77.63 214.85 L77.6 215.12 L77.58 215.39 L77.56 215.67 L77.53 215.94 L77.51 216.22 L77.49 216.49 L77.47 216.77 L77.45 217.04 L77.43 217.31 L77.42 217.59 L77.4 217.86 L77.38 218.14 L77.37 218.41 L77.35 218.69 L77.34 218.96 L77.33 219.23 L77.32 219.51 L77.3 219.78 L77.29 220.06 L77.28 220.33 L77.27 220.6 L77.26 220.88 L77.25 221.15 L77.25 221.43 L77.24 221.7 L77.23 221.98 L77.22 222.25 L77.22 222.52 L77.21 222.8 L77.21 223.07 L77.2 223.35 L77.2 223.62 L77.2 223.9 L77.19 224.17 L77.19 224.44 L77.19 224.72 L77.19 224.99 L77.18 225.27 L77.18 225.54 L77.18 225.81 L77.18 226.09 L77.18 226.36 L77.18 226.64 L77.18 226.91 L77.18 227.19 L77.18 227.46 L77.18 227.73 L77.19 228.01 L77.19 228.28 L77.19 228.56 L77.19 228.83 L77.2 229.1 L77.2 229.38 L77.2 229.65 L77.21 229.93 L77.21 230.2 L77.22 230.48 L77.22 230.75 L77.23 231.02 L77.24 231.3 L77.25 231.57 L77.25 231.85 L77.26 232.12 L77.27 232.4 L77.28 232.67 L77.29 232.94 L77.3 233.22 L77.32 233.49 L77.33 233.77 L77.34 234.04 L77.35 234.31 L77.37 234.59 L77.38 234.86 L77.4 235.14 L77.42 235.41 L77.43 235.69 L77.45 235.96 L77.47 236.23 L77.49 236.51 L77.51 236.78 L77.53 237.06 L77.56 237.33 L77.58 237.61 L77.6 237.88 L77.63 238.15 L77.65 238.43 L77.68 238.7 L77.71 238.98 L77.74 239.25 L77.76 239.52 L77.8 239.8 L77.83 240.07 L77.86 240.35 L77.89 240.62 L77.93 240.9 L77.96 241.17 L78 241.44 L78.04 241.72 L78.07 241.99 L78.11 242.27 L78.16 242.54 L78.2 242.82 L78.24 243.09 L78.28 243.36 L78.33 243.64 L78.38 243.91 L78.42 244.19 L78.47 244.46 L78.52 244.73 L78.57 245.01 L78.63 245.28 L78.68 245.56 L78.74 245.83 L78.79 246.11 L78.85 246.38 L78.91 246.65 L78.97 246.93 L79.03 247.2 L79.09 247.48 L79.16 247.75 L79.23 248.03 L79.29 248.3 L79.36 248.57 L79.43 248.85 L79.5 249.12 L79.58 249.4 L79.65 249.67 L79.73 249.94 L79.8 250.22 L79.88 250.49 L79.96 250.77 L80.05 251.04 L80.13 251.32 L80.21 251.59 L80.3 251.86 L80.39 252.14 L80.48 252.41 L80.56 252.69 L80.65 252.96 L80.73 253.23 L80.79 253.51 L80.81 253.78 L80.75 254.06 L80.52 254.33 L79.94 254.61 L78.68 254.88 L76.21 255.15 L72.01 255.43 L66.11 255.7 L56.76 255.98 L51.33 256.25 L47.72 256.53 L45.67 256.8 L43.6 257.07 L43.6 257.35 L43.6 257.62 L43.6 257.9 L43.6 258.17 L43.6 258.44 L43.6 258.72 L43.6 258.99 L43.6 259.27 L43.6 259.54 L43.6 259.82 L43.6 260.09 L43.6 260.36 L43.6 260.64 L43.6 260.91 L43.6 261.19 L43.6 261.46 L43.6 261.74 L43.6 262.01Z" fill="#9fc0f0" opacity="0.7" stroke="#9fc0f0" stroke-width="1.2"/>
<path d="M43.6 262.01 L43.6 261.74 L43.6 261.46 L43.6 261.19 L43.6 260.91 L43.6 260.64 L43.6 260.36 L43.6 260.09 L43.6 259.82 L43.6 259.54 L43.6 259.27 L43.6 258.99 L43.6 258.72 L43.6 258.44 L43.6 258.17 L43.6 257.9 L43.6 257.62 L43.6 257.35 L43.6 257.07 L45.67 256.8 L47.72 256.53 L51.33 256.25 L56.76 255.98 L66.11 255.7 L72.01 255.43 L76.21 255.15 L78.68 254.88 L79.94 254.61 L80.52 254.33 L80.75 254.06 L80.81 253.78 L80.79 253.51 L80.73 253.23 L80.65 252.96 L80.56 252.69 L80.48 252.41 L80.39 252.14 L80.3 251.86 L80.21 251.59 L80.13 251.32 L80.05 251.04 L79.96 250.77 L79.88 250.49 L79.8 250.22 L79.73 249.94 L79.65 249.67 L79.58 249.4 L79.5 249.12 L79.43 248.85 L79.36 248.57 L79.29 248.3 L79.23 248.03 L79.16 247.75 L79.09 247.48 L79.03 247.2 L78.97 246.93 L78.91 246.65 L78.85 246.38 L78.79 246.11 L78.74 245.83 L78.68 245.56 L78.63 245.28 L78.57 245.01 L78.52 244.73 L78.47 244.46 L78.42 244.19 L78.38 243.91 L78.33 243.64 L78.28 243.36 L78.24 243.09 L78.2 242.82 L78.16 242.54 L78.11 242.27 L78.07 241.99 L78.04 241.72 L78 241.44 L77.96 241.17 L77.93 240.9 L77.89 240.62 L77.86 240.35 L77.83 240.07 L77.8 239.8 L77.76 239.52 L77.74 239.25 L77.71 238.98 L77.68 238.7 L77.65 238.43 L77.63 238.15 L77.6 237.88 L77.58 237.61 L77.56 237.33 L77.53 237.06 L77.51 236.78 L77.49 236.51 L77.47 236.23 L77.45 235.96 L77.43 235.69 L77.42 235.41 L77.4 235.14 L77.38 234.86 L77.37 234.59 L77.35 234.31 L77.34 234.04 L77.33 233.77 L77.32 233.49 L77.3 233.22 L77.29 232.94 L77.28 232.67 L77.27 232.4 L77.26 232.12 L77.25 231.85 L77.25 231.57 L77.24 231.3 L77.23 231.02 L77.22 230.75 L77.22 230.48 L77.21 230.2 L77.21 229.93 L77.2 229.65 L77.2 229.38 L77.2 229.1 L77.19 228.83 L77.19 228.56 L77.19 228.28 L77.19 228.01 L77.18 227.73 L77.18 227.46 L77.18 227.19 L77.18 226.91 L77.18 226.64 L77.18 226.36 L77.18 226.09 L77.18 225.81 L77.18 225.54 L77.18 225.27 L77.19 224.99 L77.19 224.72 L77.19 224.44 L77.19 224.17 L77.2 223.9 L77.2 223.62 L77.2 223.35 L77.21 223.07 L77.21 222.8 L77.22 222.52 L77.22 222.25 L77.23 221.98 L77.24 221.7 L77.25 221.43 L77.25 221.15 L77.26 220.88 L77.27 220.6 L77.28 220.33 L77.29 220.06 L77.3 219.78 L77.32 219.51 L77.33 219.23 L77.34 218.96 L77.35 218.69 L77.37 218.41 L77.38 218.14 L77.4 217.86 L77.42 217.59 L77.43 217.31 L77.45 217.04 L77.47 216.77 L77.49 216.49 L77.51 216.22 L77.53 215.94 L77.56 215.67 L77.58 215.39 L77.6 215.12 L77.63 214.85 L77.65 214.57 L77.68 214.3 L77.71 214.02 L77.74 213.75 L77.76 213.48 L77.8 213.2 L77.83 212.93 L77.86 212.65 L77.89 212.38 L77.93 212.1 L77.96 211.83 L78 211.56 L78.04 211.28 L78.07 211.01 L78.11 210.73 L78.16 210.46 L78.2 210.18 L78.24 209.91 L78.28 209.64 L78.33 209.36 L78.38 209.09 L78.42 208.81 L78.47 208.54 L78.52 208.27 L78.57 207.99 L78.63 207.72 L78.68 207.44 L78.74 207.17 L78.79 206.89 L78.85 206.62 L78.91 206.35 L78.97 206.07 L79.03 205.8 L79.09 205.52 L79.16 205.25 L79.23 204.97 L79.29 204.7 L79.36 204.43 L79.43 204.15 L79.5 203.88 L79.58 203.6 L79.65 203.33 L79.73 203.06 L79.8 202.78 L79.88 202.51 L79.96 202.23 L80.05 201.96 L80.13 201.68 L80.21 201.41 L80.3 201.14 L80.39 200.86 L80.48 200.59 L80.56 200.31 L80.65 200.04 L80.73 199.77 L80.79 199.49 L80.81 199.22 L80.75 198.94 L80.52 198.67 L79.94 198.39 L78.68 198.12 L76.21 197.85 L72.01 197.57 L66.11 197.3 L56.76 197.02 L51.33 196.75 L47.72 196.47 L45.67 196.2 L43.6 195.93 L43.6 195.65 L43.6 195.38 L43.6 195.1 L43.6 194.83 L43.6 194.56 L43.6 194.28 L43.6 194.01 L43.6 193.73 L43.6 193.46 L43.6 193.18 L43.6 192.91 L43.6 192.64 L43.6 192.36 L43.6 192.09 L43.6 191.81 L43.6 191.54 L43.6 191.26 L43.6 190.99" fill="none" stroke="#5a80d8" stroke-width="0.6" stroke-dasharray="1.5 1"/>
<path d="M43.6 262.01 L43.6 261.74 L43.6 261.46 L43.6 261.19 L43.6 260.91 L43.6 260.64 L43.6 260.36 L43.6 260.09 L43.6 259.82 L43.6 259.54 L43.6 259.27 L43.6 258.99 L43.6 258.72 L43.6 258.44 L43.6 258.17 L43.6 257.9 L43.6 257.62 L43.6 257.35 L43.6 257.07 L45.63 256.8 L47.64 256.53 L51.18 256.25 L56.29 255.98 L62.41 255.7 L68.35 255.43 L72.77 255.15 L75.48 254.88 L76.91 254.61 L77.2 254.33 L77.59 254.06 L77.7 253.78 L77.02 253.51 L76.85 253.23 L76.78 252.96 L77.08 252.69 L76.85 252.41 L75.97 252.14 L76.39 251.86 L76.43 251.59 L76.18 251.32 L76.59 251.04 L76.64 250.77 L76.65 250.49 L76.37 250.22 L75.84 249.94 L76.14 249.67 L76.2 249.4 L76.46 249.12 L77.11 248.85 L77.49 248.57 L77.96 248.3 L77.88 248.03 L78.05 247.75 L78.12 247.48 L78.02 247.2 L77.3 246.93 L77.33 246.65 L77.36 246.38 L77.03 246.11 L77.08 245.83 L77.16 245.56 L76.98 245.28 L77.43 245.01 L77.3 244.73 L77.84 244.46 L78.03 244.19 L77.46 243.91 L77.7 243.64 L77.22 243.36 L77.78 243.09 L77.85 242.82 L77.95 242.54 L78.34 242.27 L78.28 241.99 L77.47 241.72 L78.03 241.44 L77.48 241.17 L77.55 240.9 L77.27 240.62 L76.94 240.35 L76.8 240.07 L76.91 239.8 L76.83 239.52 L76.94 239.25 L75.91 238.98 L75.99 238.7 L75.78 238.43 L75.5 238.15 L75.46 237.88 L75.5 237.61 L75.08 237.33 L75.05 237.06 L75.41 236.78 L75.88 236.51 L76.03 236.23 L76.67 235.96 L76.99 235.69 L76.9 235.41 L76.78 235.14 L77.04 234.86 L77.35 234.59 L77.22 234.31 L77.29 234.04 L77.18 233.77 L76.81 233.49 L76.67 233.22 L76.85 232.94 L76.82 232.67 L76.58 232.4 L76.45 232.12 L76.25 231.85 L76.48 231.57 L76.85 231.3 L76.81 231.02 L76.53 230.75 L76.97 230.48 L76.85 230.2 L77.04 229.93 L76.69 229.65 L76.44 229.38 L76.38 229.1 L76.24 228.83 L76.1 228.56 L76.36 228.28 L75.89 228.01 L75.88 227.73 L75.74 227.46 L76.36 227.19 L76.97 226.91 L76.79 226.64 L76.85 226.36 L76.76 226.09 L76.59 225.81 L76.94 225.54 L77 225.27 L76.64 224.99 L75.98 224.72 L75.81 224.44 L75.96 224.17 L76.13 223.9 L76.07 223.62 L76.36 223.35 L76.26 223.07 L76.35 222.8 L76.95 222.52 L77.28 222.25 L77.06 221.98 L77.29 221.7 L76.72 221.43 L76.9 221.15 L76.74 220.88 L76.74 220.6 L76.61 220.33 L76.41 220.06 L76.27 219.78 L76.72 219.51 L76.29 219.23 L76.6 218.96 L76.53 218.69 L76.23 218.41 L76.77 218.14 L76.94 217.86 L76.6 217.59 L76.98 217.31 L76.5 217.04 L76.78 216.77 L76.98 216.49 L76.9 216.22 L77.12 215.94 L76.37 215.67 L76.37 215.39 L76.35 215.12 L75.73 214.85 L75.97 214.57 L76.14 214.3 L76.09 214.02 L76.67 213.75 L76.95 213.48 L76.97 213.2 L76.98 212.93 L76.9 212.65 L76.98 212.38 L76.79 212.1 L76.62 211.83 L76.64 211.56 L76.12 211.28 L75.83 211.01 L75.6 210.73 L75.62 210.46 L76.17 210.18 L76.52 209.91 L76.6 209.64 L77.02 209.36 L77.17 209.09 L77.3 208.81 L77.33 208.54 L77.64 208.27 L77.72 207.99 L77.68 207.72 L77.71 207.44 L78.1 207.17 L77.97 206.89 L77.98 206.62 L78 206.35 L78.23 206.07 L78.24 205.8 L78.09 205.52 L78.57 205.25 L78.37 204.97 L78.68 204.7 L78.29 204.43 L78.11 204.15 L78.41 203.88 L78.35 203.6 L78.56 203.33 L78.67 203.06 L78.13 202.78 L78.22 202.51 L77.62 202.23 L78.12 201.96 L78.04 201.68 L78.22 201.41 L77.61 201.14 L77.54 200.86 L77.76 200.59 L77.83 200.31 L78.14 200.04 L78.46 199.77 L78 199.49 L78.1 199.22 L78.23 198.94 L78.63 198.67 L78.05 198.39 L76.5 198.12 L74.11 197.85 L69.36 197.57 L63.29 197.3 L57.55 197.02 L51.18 196.75 L47.64 196.47 L45.63 196.2 L43.6 195.93 L43.6 195.65 L43.6 195.38 L43.6 195.1 L43.6 194.83 L43.6 194.56 L43.6 194.28 L43.6 194.01 L43.6 193.73 L43.6 193.46 L43.6 193.18 L43.6 192.91 L43.6 192.64 L43.6 192.36 L43.6 192.09 L43.6 191.81 L43.6 191.54 L43.6 191.26 L43.6 190.99" fill="none" stroke="#2a4ccc" stroke-width="0.65"/>
<line x1="43.6" y1="256.85" x2="41.4" y2="256.85" stroke="#444" stroke-width="0.6" />
<line x1="84.4" y1="256.85" x2="86" y2="256.85" stroke="#444" stroke-width="0.6" />
<text x="39" y="258.85" font-size="5.6" text-anchor="end" fill="#333" font-family="Liberation Sans, sans-serif"  stroke="#333" stroke-width="0.1">-1.0</text>
<line x1="43.6" y1="241.68" x2="41.4" y2="241.68" stroke="#444" stroke-width="0.6" />
<line x1="84.4" y1="241.68" x2="86" y2="241.68" stroke="#444" stroke-width="0.6" />
<text x="39" y="243.68" font-size="5.6" text-anchor="end" fill="#333" font-family="Liberation Sans, sans-serif"  stroke="#333" stroke-width="0.1">-0.5</text>
<line x1="43.6" y1="226.5" x2="41.4" y2="226.5" stroke="#444" stroke-width="0.6" />
<line x1="84.4" y1="226.5" x2="86" y2="226.5" stroke="#444" stroke-width="0.6" />
<text x="39" y="228.5" font-size="5.6" text-anchor="end" fill="#333" font-family="Liberation Sans, sans-serif"  stroke="#333" stroke-width="0.1">0.0</text>
<line x1="43.6" y1="211.32" x2="41.4" y2="211.32" stroke="#444" stroke-width="0.6" />
<line x1="84.4" y1="211.32" x2="86" y2="211.32" stroke="#444" stroke-width="0.6" />
<text x="39" y="213.32" font-size="5.6" text-anchor="end" fill="#333" font-family="Liberation Sans, sans-serif"  stroke="#333" stroke-width="0.1">0.5</text>
<line x1="43.6" y1="196.15" x2="41.4" y2="196.15" stroke="#444" stroke-width="0.6" />
<line x1="84.4" y1="196.15" x2="86" y2="196.15" stroke="#444" stroke-width="0.6" />
<text x="39" y="198.15" font-size="5.6" text-anchor="end" fill="#333" font-family="Liberation Sans, sans-serif"  stroke="#333" stroke-width="0.1">1.0</text>
<line x1="43.6" y1="259.88" x2="42.5" y2="259.88" stroke="#444" stroke-width="0.4" />
<line x1="43.6" y1="256.85" x2="42.5" y2="256.85" stroke="#444" stroke-width="0.4" />
<line x1="43.6" y1="253.81" x2="42.5" y2="253.81" stroke="#444" stroke-width="0.4" />
<line x1="43.6" y1="250.78" x2="42.5" y2="250.78" stroke="#444" stroke-width="0.4" />
<line x1="43.6" y1="247.75" x2="42.5" y2="247.75" stroke="#444" stroke-width="0.4" />
<line x1="43.6" y1="244.71" x2="42.5" y2="244.71" stroke="#444" stroke-width="0.4" />
<line x1="43.6" y1="241.67" x2="42.5" y2="241.67" stroke="#444" stroke-width="0.4" />
<line x1="43.6" y1="238.64" x2="42.5" y2="238.64" stroke="#444" stroke-width="0.4" />
<line x1="43.6" y1="235.6" x2="42.5" y2="235.6" stroke="#444" stroke-width="0.4" />
<line x1="43.6" y1="232.57" x2="42.5" y2="232.57" stroke="#444" stroke-width="0.4" />
<line x1="43.6" y1="229.53" x2="42.5" y2="229.53" stroke="#444" stroke-width="0.4" />
<line x1="43.6" y1="226.5" x2="42.5" y2="226.5" stroke="#444" stroke-width="0.4" />
<line x1="43.6" y1="223.46" x2="42.5" y2="223.46" stroke="#444" stroke-width="0.4" />
<line x1="43.6" y1="220.43" x2="42.5" y2="220.43" stroke="#444" stroke-width="0.4" />
<line x1="43.6" y1="217.39" x2="42.5" y2="217.39" stroke="#444" stroke-width="0.4" />
<line x1="43.6" y1="214.36" x2="42.5" y2="214.36" stroke="#444" stroke-width="0.4" />
<line x1="43.6" y1="211.32" x2="42.5" y2="211.32" stroke="#444" stroke-width="0.4" />
<line x1="43.6" y1="208.29" x2="42.5" y2="208.29" stroke="#444" stroke-width="0.4" />
<line x1="43.6" y1="205.25" x2="42.5" y2="205.25" stroke="#444" stroke-width="0.4" />
<line x1="43.6" y1="202.22" x2="42.5" y2="202.22" stroke="#444" stroke-width="0.4" />
<line x1="43.6" y1="199.18" x2="42.5" y2="199.18" stroke="#444" stroke-width="0.4" />
<line x1="43.6" y1="196.15" x2="42.5" y2="196.15" stroke="#444" stroke-width="0.4" />
<line x1="43.6" y1="193.11" x2="42.5" y2="193.11" stroke="#444" stroke-width="0.4" />
<line x1="43.6" y1="191" x2="43.6" y2="189" stroke="#444" stroke-width="0.6" />
<text x="43.2" y="184.6" font-size="5.4" text-anchor="middle" fill="#333" font-family="Liberation Sans, sans-serif"  stroke="#333" stroke-width="0.1">0.0</text>
<line x1="79" y1="191" x2="79" y2="189" stroke="#444" stroke-width="0.6" />
<text x="79.8" y="184.6" font-size="5.4" text-anchor="middle" fill="#333" font-family="Liberation Sans, sans-serif"  stroke="#333" stroke-width="0.1">1.0</text>
<line x1="43.6" y1="191" x2="43.6" y2="189.9" stroke="#444" stroke-width="0.4" />
<line x1="47.14" y1="191" x2="47.14" y2="189.9" stroke="#444" stroke-width="0.4" />
<line x1="50.68" y1="191" x2="50.68" y2="189.9" stroke="#444" stroke-width="0.4" />
<line x1="54.22" y1="191" x2="54.22" y2="189.9" stroke="#444" stroke-width="0.4" />
<line x1="57.76" y1="191" x2="57.76" y2="189.9" stroke="#444" stroke-width="0.4" />
<line x1="61.3" y1="191" x2="61.3" y2="189.9" stroke="#444" stroke-width="0.4" />
<line x1="64.84" y1="191" x2="64.84" y2="189.9" stroke="#444" stroke-width="0.4" />
<line x1="68.38" y1="191" x2="68.38" y2="189.9" stroke="#444" stroke-width="0.4" />
<line x1="71.92" y1="191" x2="71.92" y2="189.9" stroke="#444" stroke-width="0.4" />
<line x1="75.46" y1="191" x2="75.46" y2="189.9" stroke="#444" stroke-width="0.4" />
<line x1="79" y1="191" x2="79" y2="189.9" stroke="#444" stroke-width="0.4" />
<line x1="82.54" y1="191" x2="82.54" y2="189.9" stroke="#444" stroke-width="0.4" />
<text x="65" y="195.1" font-size="5.0" text-anchor="middle" fill="#445" font-family="Liberation Sans, sans-serif"  stroke="#445" stroke-width="0.1">95 ± 1% OP</text>
<text x="61.5" y="210.6" font-size="4.6" text-anchor="middle" fill="#3050c8" font-family="Liberation Sans, sans-serif" font-style="italic" stroke="#3050c8" stroke-width="0.1">p-pol</text>
<line x1="53.5" y1="217.5" x2="57.5" y2="217.5" stroke="#2346c8" stroke-width="0.7" />
<text x="59" y="219" font-size="4.2" text-anchor="start" fill="#445" font-family="Liberation Sans, sans-serif"  stroke="#445" stroke-width="0.1">Exp.</text>
<line x1="53.5" y1="223.4" x2="57.5" y2="223.4" stroke="#2346c8" stroke-width="0.6" stroke-dasharray="1.2 1"/>
<text x="59" y="224.9" font-size="4.2" text-anchor="start" fill="#445" font-family="Liberation Sans, sans-serif"  stroke="#445" stroke-width="0.1">Calc.</text>
<text x="80.2" y="227.8" font-size="4.4" text-anchor="middle" fill="#3050c8" font-family="Liberation Sans, sans-serif" font-weight="bold" stroke="#3050c8" stroke-width="0.1">II</text>
<text x="63.5" y="173" font-size="7.8" text-anchor="middle" fill="#222" font-family="Liberation Sans, sans-serif"  stroke="#222" stroke-width="0.18">I(k<tspan font-size="5.5" dy="1.5">y</tspan><tspan dy="-1.5">/k</tspan><tspan font-size="5.5" dy="1.5">0</tspan><tspan dy="-1.5">) (a.u.)</tspan></text>
<text x="0" y="0" font-size="9.3" text-anchor="middle" fill="#222" font-family="Liberation Sans, sans-serif" transform="translate(25.8 228.5) rotate(-90)"  stroke="#222" stroke-width="0.18">k<tspan font-size="5.5" dy="1.5">y</tspan><tspan dy="-1.5">/k</tspan><tspan font-size="5.5" dy="1.5">0</tspan></text>
<rect x="91.4" y="190.7" width="73.3" height="72.8" fill="#050505"/>
<circle cx="128.6" cy="226.2" r="29.8" fill="#7a1804"/>
<circle cx="128.6" cy="226.2" r="29" fill="url(#bfp)"/>
<g clip-path="url(#clipCirc)"><rect x="99.6" y="197.2" width="58" height="58" fill="url(#bfph)"/><ellipse cx="128.6" cy="226.2" rx="17.98" ry="32" fill="url(#bfpv)" filter="url(#blur5)"/></g>
<circle cx="128.6" cy="226.2" r="5" fill="none" stroke="#ffc050" stroke-width="0.9" opacity="0.35"/>
<circle cx="128.6" cy="226.2" r="9.5" fill="none" stroke="#ffc050" stroke-width="0.9" opacity="0.3"/>
<circle cx="128.6" cy="226.2" r="14" fill="none" stroke="#ffc050" stroke-width="0.9" opacity="0.15"/>
<line x1="128.6" y1="196.2" x2="128.6" y2="256.2" stroke="#8a6a10" stroke-width="0.7" stroke-dasharray="1.6 2" opacity="0.6"/>
<line x1="98.6" y1="226.2" x2="158.6" y2="226.2" stroke="#b82808" stroke-width="0.7" stroke-dasharray="1.6 2" opacity="0.65"/>
<text x="94" y="260.6" font-size="4.2" text-anchor="start" fill="#f4f4f4" font-family="Liberation Sans, sans-serif"  stroke="#f4f4f4" stroke-width="0.1">Exp.</text>
<line x1="160.2" y1="194.4" x2="160.2" y2="202.2" stroke="#f0f0f0" stroke-width="1.2" />
<line x1="159.2" y1="198.3" x2="161.2" y2="198.3" stroke="#050505" stroke-width="0.5" />
<path d="M127.2 195.8 L128.6 193.2 L130 195.8Z" fill="#2848b0" opacity="0.8"/>
<path d="M160 224.6 L162.4 226 L160 227.4Z" fill="#b02020" opacity="0.8"/>
<line x1="91.4" y1="256.8" x2="93.6" y2="256.8" stroke="#ddd" stroke-width="0.5" />
<line x1="98" y1="263.5" x2="98" y2="261.5" stroke="#ddd" stroke-width="0.5" />
<line x1="91.4" y1="241.5" x2="93.6" y2="241.5" stroke="#ddd" stroke-width="0.5" />
<line x1="113.3" y1="263.5" x2="113.3" y2="261.5" stroke="#ddd" stroke-width="0.5" />
<line x1="91.4" y1="226.2" x2="93.6" y2="226.2" stroke="#ddd" stroke-width="0.5" />
<line x1="128.6" y1="263.5" x2="128.6" y2="261.5" stroke="#ddd" stroke-width="0.5" />
<line x1="91.4" y1="210.9" x2="93.6" y2="210.9" stroke="#ddd" stroke-width="0.5" />
<line x1="143.9" y1="263.5" x2="143.9" y2="261.5" stroke="#ddd" stroke-width="0.5" />
<line x1="91.4" y1="195.6" x2="93.6" y2="195.6" stroke="#ddd" stroke-width="0.5" />
<line x1="159.2" y1="263.5" x2="159.2" y2="261.5" stroke="#ddd" stroke-width="0.5" />
<line x1="91.88" y1="263.5" x2="91.88" y2="265.3" stroke="#111" stroke-width="0.9" />
<line x1="91.4" y1="262.92" x2="89" y2="262.92" stroke="#111" stroke-width="0.9" />
<line x1="94.94" y1="263.5" x2="94.94" y2="265.3" stroke="#111" stroke-width="0.9" />
<line x1="91.4" y1="259.86" x2="89" y2="259.86" stroke="#111" stroke-width="0.9" />
<line x1="98" y1="263.5" x2="98" y2="267.3" stroke="#111" stroke-width="0.9" />
<line x1="91.4" y1="256.8" x2="88" y2="256.8" stroke="#111" stroke-width="0.9" />
<line x1="101.06" y1="263.5" x2="101.06" y2="265.3" stroke="#111" stroke-width="0.9" />
<line x1="91.4" y1="253.74" x2="89" y2="253.74" stroke="#111" stroke-width="0.9" />
<line x1="104.12" y1="263.5" x2="104.12" y2="265.3" stroke="#111" stroke-width="0.9" />
<line x1="91.4" y1="250.68" x2="89" y2="250.68" stroke="#111" stroke-width="0.9" />
<line x1="107.18" y1="263.5" x2="107.18" y2="265.3" stroke="#111" stroke-width="0.9" />
<line x1="91.4" y1="247.62" x2="89" y2="247.62" stroke="#111" stroke-width="0.9" />
<line x1="110.24" y1="263.5" x2="110.24" y2="265.3" stroke="#111" stroke-width="0.9" />
<line x1="91.4" y1="244.56" x2="89" y2="244.56" stroke="#111" stroke-width="0.9" />
<line x1="113.3" y1="263.5" x2="113.3" y2="267.3" stroke="#111" stroke-width="0.9" />
<line x1="91.4" y1="241.5" x2="88" y2="241.5" stroke="#111" stroke-width="0.9" />
<line x1="116.36" y1="263.5" x2="116.36" y2="265.3" stroke="#111" stroke-width="0.9" />
<line x1="91.4" y1="238.44" x2="89" y2="238.44" stroke="#111" stroke-width="0.9" />
<line x1="119.42" y1="263.5" x2="119.42" y2="265.3" stroke="#111" stroke-width="0.9" />
<line x1="91.4" y1="235.38" x2="89" y2="235.38" stroke="#111" stroke-width="0.9" />
<line x1="122.48" y1="263.5" x2="122.48" y2="265.3" stroke="#111" stroke-width="0.9" />
<line x1="91.4" y1="232.32" x2="89" y2="232.32" stroke="#111" stroke-width="0.9" />
<line x1="125.54" y1="263.5" x2="125.54" y2="265.3" stroke="#111" stroke-width="0.9" />
<line x1="91.4" y1="229.26" x2="89" y2="229.26" stroke="#111" stroke-width="0.9" />
<line x1="128.6" y1="263.5" x2="128.6" y2="267.3" stroke="#111" stroke-width="0.9" />
<line x1="91.4" y1="226.2" x2="88" y2="226.2" stroke="#111" stroke-width="0.9" />
<line x1="131.66" y1="263.5" x2="131.66" y2="265.3" stroke="#111" stroke-width="0.9" />
<line x1="91.4" y1="223.14" x2="89" y2="223.14" stroke="#111" stroke-width="0.9" />
<line x1="134.72" y1="263.5" x2="134.72" y2="265.3" stroke="#111" stroke-width="0.9" />
<line x1="91.4" y1="220.08" x2="89" y2="220.08" stroke="#111" stroke-width="0.9" />
<line x1="137.78" y1="263.5" x2="137.78" y2="265.3" stroke="#111" stroke-width="0.9" />
<line x1="91.4" y1="217.02" x2="89" y2="217.02" stroke="#111" stroke-width="0.9" />
<line x1="140.84" y1="263.5" x2="140.84" y2="265.3" stroke="#111" stroke-width="0.9" />
<line x1="91.4" y1="213.96" x2="89" y2="213.96" stroke="#111" stroke-width="0.9" />
<line x1="143.9" y1="263.5" x2="143.9" y2="267.3" stroke="#111" stroke-width="0.9" />
<line x1="91.4" y1="210.9" x2="88" y2="210.9" stroke="#111" stroke-width="0.9" />
<line x1="146.96" y1="263.5" x2="146.96" y2="265.3" stroke="#111" stroke-width="0.9" />
<line x1="91.4" y1="207.84" x2="89" y2="207.84" stroke="#111" stroke-width="0.9" />
<line x1="150.02" y1="263.5" x2="150.02" y2="265.3" stroke="#111" stroke-width="0.9" />
<line x1="91.4" y1="204.78" x2="89" y2="204.78" stroke="#111" stroke-width="0.9" />
<line x1="153.08" y1="263.5" x2="153.08" y2="265.3" stroke="#111" stroke-width="0.9" />
<line x1="91.4" y1="201.72" x2="89" y2="201.72" stroke="#111" stroke-width="0.9" />
<line x1="156.14" y1="263.5" x2="156.14" y2="265.3" stroke="#111" stroke-width="0.9" />
<line x1="91.4" y1="198.66" x2="89" y2="198.66" stroke="#111" stroke-width="0.9" />
<line x1="159.2" y1="263.5" x2="159.2" y2="267.3" stroke="#111" stroke-width="0.9" />
<line x1="91.4" y1="195.6" x2="88" y2="195.6" stroke="#111" stroke-width="0.9" />
<line x1="162.26" y1="263.5" x2="162.26" y2="265.3" stroke="#111" stroke-width="0.9" />
<line x1="91.4" y1="192.54" x2="89" y2="192.54" stroke="#111" stroke-width="0.9" />
<rect x="132.3" y="184" width="32.3" height="4.8" fill="url(#cbar)" stroke="#222" stroke-width="0.4"/>
<line x1="132.3" y1="184" x2="132.3" y2="182.6" stroke="#333" stroke-width="0.5" />
<text x="132.3" y="178.3" font-size="5.4" text-anchor="middle" fill="#333" font-family="Liberation Sans, sans-serif"  stroke="#333" stroke-width="0.1">0.0</text>
<line x1="148.4" y1="184" x2="148.4" y2="182.6" stroke="#333" stroke-width="0.5" />
<text x="148.4" y="178.3" font-size="5.4" text-anchor="middle" fill="#333" font-family="Liberation Sans, sans-serif"  stroke="#333" stroke-width="0.1">0.5</text>
<line x1="164.6" y1="184" x2="164.6" y2="182.6" stroke="#333" stroke-width="0.5" />
<text x="164.6" y="178.3" font-size="5.4" text-anchor="middle" fill="#333" font-family="Liberation Sans, sans-serif"  stroke="#333" stroke-width="0.1">1.0</text>
<text x="150" y="170" font-size="8.0" text-anchor="middle" fill="#222" font-family="Liberation Sans, sans-serif"  stroke="#222" stroke-width="0.18">I (a.u.)</text>
<rect x="91.2" y="270.8" width="73.1" height="39.2" fill="#fff" stroke="#555" stroke-width="0.7"/>
<line x1="98.5" y1="270.8" x2="98.5" y2="310" stroke="#aaa" stroke-width="0.5" />
<line x1="156.9" y1="270.8" x2="156.9" y2="310" stroke="#aaa" stroke-width="0.5" />
<path d="M91.58 309.5 L91.82 309.5 L92.06 309.5 L92.3 309.5 L92.55 309.5 L92.79 309.5 L93.03 309.5 L93.27 309.5 L93.51 309.5 L93.75 309.5 L94 309.5 L94.24 309.5 L94.48 309.5 L94.72 309.5 L94.96 309.5 L95.2 309.5 L95.45 309.49 L95.69 309.49 L95.93 309.48 L96.17 309.46 L96.41 309.44 L96.65 309.39 L96.9 309.3 L97.14 309.14 L97.38 308.87 L97.62 308.39 L97.86 307.59 L98.1 306.27 L98.34 304.22 L98.59 301.31 L98.83 298.38 L99.07 294.15 L99.31 290.32 L99.55 287.04 L99.79 284.41 L100.04 283.26 L100.28 281.92 L100.52 281.3 L100.76 281.3 L101 281.13 L101.24 281.02 L101.49 280.99 L101.73 280.75 L101.97 280.97 L102.21 280.79 L102.45 280.85 L102.69 281.08 L102.94 280.87 L103.18 280.92 L103.42 280.25 L103.66 280.11 L103.9 279.97 L104.14 279.41 L104.39 278.68 L104.63 279.04 L104.87 279.23 L105.11 279.39 L105.35 279.94 L105.59 279.64 L105.83 279.86 L106.08 280.18 L106.32 279.29 L106.56 279.45 L106.8 279.67 L107.04 278.75 L107.28 279.39 L107.53 279.26 L107.77 279.06 L108.01 279.51 L108.25 279.08 L108.49 278.8 L108.73 278.83 L108.98 278.21 L109.22 277.9 L109.46 278.21 L109.7 278.52 L109.94 279.2 L110.18 279.09 L110.43 279.97 L110.67 279.99 L110.91 279.61 L111.15 279.7 L111.39 279.68 L111.63 279.26 L111.87 279.2 L112.12 278.91 L112.36 279.19 L112.6 279.84 L112.84 279.6 L113.08 279.03 L113.32 279.15 L113.57 279.36 L113.81 279.03 L114.05 278.74 L114.29 278.94 L114.53 278.54 L114.77 278.77 L115.02 278.25 L115.26 278.24 L115.5 278.77 L115.74 279.19 L115.98 278.6 L116.22 278.89 L116.47 279.03 L116.71 278.76 L116.95 278.15 L117.19 277.7 L117.43 276.96 L117.67 277.75 L117.91 278.34 L118.16 278.08 L118.4 278.65 L118.64 279.11 L118.88 278.95 L119.12 279.52 L119.36 278.76 L119.61 278.14 L119.85 278.81 L120.09 278.67 L120.33 278.78 L120.57 278.41 L120.81 278.7 L121.06 278.89 L121.3 279.05 L121.54 278.66 L121.78 278.25 L122.02 278.19 L122.26 278.84 L122.51 278.48 L122.75 278.26 L122.99 278.43 L123.23 278.46 L123.47 278.5 L123.71 278.36 L123.96 278.24 L124.2 278.42 L124.44 278.68 L124.68 278.84 L124.92 278.5 L125.16 278.84 L125.4 279.04 L125.65 279.4 L125.89 279.49 L126.13 279.37 L126.37 278.99 L126.61 279.63 L126.85 279.94 L127.1 280.16 L127.34 280.4 L127.58 280.61 L127.82 281 L128.06 281.14 L128.3 280.36 L128.55 279.91 L128.79 279.72 L129.03 279.63 L129.27 279.64 L129.51 279.35 L129.75 279.12 L130 279.3 L130.24 279.64 L130.48 279.55 L130.72 278.71 L130.96 277.98 L131.2 277.5 L131.44 277.37 L131.69 277.14 L131.93 277.05 L132.17 276.98 L132.41 277.59 L132.65 278.17 L132.89 278.81 L133.14 278.63 L133.38 278.81 L133.62 278.65 L133.86 279.24 L134.1 279.09 L134.34 279.36 L134.59 278.76 L134.83 279 L135.07 279.02 L135.31 279.11 L135.55 279.24 L135.79 279.67 L136.04 279.27 L136.28 279.27 L136.52 279.55 L136.76 279.8 L137 279.79 L137.24 279.82 L137.49 279.92 L137.73 280.03 L137.97 280.47 L138.21 280.27 L138.45 279.64 L138.69 279.68 L138.93 279.1 L139.18 278.18 L139.42 277.59 L139.66 278.03 L139.9 278.03 L140.14 278.14 L140.38 278.5 L140.63 278.87 L140.87 279.69 L141.11 280.57 L141.35 280.45 L141.59 280.31 L141.83 280.29 L142.08 279.47 L142.32 279.22 L142.56 279.42 L142.8 279.07 L143.04 278.86 L143.28 278.82 L143.53 279.23 L143.77 280.19 L144.01 280.09 L144.25 280.14 L144.49 280.33 L144.73 280.17 L144.97 280.19 L145.22 279.73 L145.46 279.91 L145.7 279.95 L145.94 279.2 L146.18 279.12 L146.42 279.05 L146.67 279.49 L146.91 279.77 L147.15 278.98 L147.39 279.38 L147.63 279.8 L147.87 279.79 L148.12 280.19 L148.36 279.61 L148.6 279.79 L148.84 279.6 L149.08 279.03 L149.32 278.86 L149.57 278.9 L149.81 279.03 L150.05 279.59 L150.29 279.91 L150.53 280.23 L150.77 280.86 L151.01 280.9 L151.26 280.84 L151.5 280.77 L151.74 280.65 L151.98 280.07 L152.22 279.77 L152.46 279.8 L152.71 279.94 L152.95 280.16 L153.19 280.17 L153.43 279.76 L153.67 280.05 L153.91 280.25 L154.16 279.66 L154.4 279.89 L154.64 280.08 L154.88 280.36 L155.12 281.08 L155.36 282.23 L155.61 283.85 L155.85 286.2 L156.09 288.78 L156.33 292.36 L156.57 296.62 L156.81 301.31 L157.06 304.22 L157.3 306.27 L157.54 307.59 L157.78 308.39 L158.02 308.87 L158.26 309.14 L158.5 309.3 L158.75 309.39 L158.99 309.44 L159.23 309.46 L159.47 309.48 L159.71 309.49 L159.95 309.49 L160.2 309.5 L160.44 309.5 L160.68 309.5 L160.92 309.5 L161.16 309.5 L161.4 309.5 L161.65 309.5 L161.89 309.5 L162.13 309.5 L162.37 309.5 L162.61 309.5 L162.85 309.5 L163.1 309.5 L163.34 309.5 L163.58 309.5 L163.82 309.5 L163.82 309.5 L163.58 309.5 L163.34 309.5 L163.1 309.5 L162.85 309.5 L162.61 309.5 L162.37 309.5 L162.13 309.5 L161.89 309.5 L161.65 309.5 L161.4 309.5 L161.16 309.5 L160.92 309.5 L160.68 309.5 L160.44 309.5 L160.2 309.5 L159.95 309.49 L159.71 309.49 L159.47 309.48 L159.23 309.46 L158.99 309.44 L158.75 309.39 L158.5 309.3 L158.26 309.14 L158.02 308.87 L157.78 308.39 L157.54 307.59 L157.3 306.27 L157.06 304.22 L156.81 301.31 L156.57 297.63 L156.33 293.6 L156.09 291.17 L155.85 288.02 L155.61 285.73 L155.36 284.18 L155.12 283.16 L154.88 282.48 L154.64 282.03 L154.4 281.7 L154.16 281.46 L153.91 281.26 L153.67 281.09 L153.43 280.93 L153.19 280.8 L152.95 280.67 L152.71 280.55 L152.46 280.44 L152.22 280.33 L151.98 280.23 L151.74 280.13 L151.5 280.04 L151.26 279.95 L151.01 279.86 L150.77 279.78 L150.53 279.71 L150.29 279.64 L150.05 279.57 L149.81 279.5 L149.57 279.44 L149.32 279.38 L149.08 279.33 L148.84 279.27 L148.6 279.23 L148.36 279.18 L148.12 279.13 L147.87 279.09 L147.63 279.05 L147.39 279.02 L147.15 278.98 L146.91 278.95 L146.67 278.92 L146.42 278.9 L146.18 278.87 L145.94 278.85 L145.7 278.82 L145.46 278.8 L145.22 278.78 L144.97 278.77 L144.73 278.75 L144.49 278.74 L144.25 278.72 L144.01 278.71 L143.77 278.7 L143.53 278.69 L143.28 278.68 L143.04 278.67 L142.8 278.67 L142.56 278.66 L142.32 278.66 L142.08 278.65 L141.83 278.65 L141.59 278.65 L141.35 278.64 L141.11 278.64 L140.87 278.64 L140.63 278.64 L140.38 278.64 L140.14 278.64 L139.9 278.65 L139.66 278.65 L139.42 278.65 L139.18 278.65 L138.93 278.65 L138.69 278.66 L138.45 278.66 L138.21 278.67 L137.97 278.67 L137.73 278.67 L137.49 278.68 L137.24 278.68 L137 278.69 L136.76 278.69 L136.52 278.7 L136.28 278.7 L136.04 278.7 L135.79 278.71 L135.55 278.71 L135.31 278.72 L135.07 278.72 L134.83 278.73 L134.59 278.73 L134.34 278.74 L134.1 278.74 L133.86 278.75 L133.62 278.75 L133.38 278.76 L133.14 278.76 L132.89 278.76 L132.65 278.77 L132.41 278.77 L132.17 278.78 L131.93 278.78 L131.69 278.78 L131.44 278.79 L131.2 278.79 L130.96 278.79 L130.72 278.79 L130.48 278.8 L130.24 278.8 L130 278.8 L129.75 278.8 L129.51 278.8 L129.27 278.81 L129.03 278.81 L128.79 278.81 L128.55 278.81 L128.3 278.81 L128.06 278.81 L127.82 278.81 L127.58 278.81 L127.34 278.81 L127.1 278.81 L126.85 278.81 L126.61 278.81 L126.37 278.81 L126.13 278.81 L125.89 278.8 L125.65 278.8 L125.4 278.8 L125.16 278.8 L124.92 278.8 L124.68 278.79 L124.44 278.79 L124.2 278.79 L123.96 278.79 L123.71 278.78 L123.47 278.78 L123.23 278.78 L122.99 278.77 L122.75 278.77 L122.51 278.76 L122.26 278.76 L122.02 278.76 L121.78 278.75 L121.54 278.75 L121.3 278.74 L121.06 278.74 L120.81 278.73 L120.57 278.73 L120.33 278.72 L120.09 278.72 L119.85 278.71 L119.61 278.71 L119.36 278.7 L119.12 278.7 L118.88 278.7 L118.64 278.69 L118.4 278.69 L118.16 278.68 L117.91 278.68 L117.67 278.67 L117.43 278.67 L117.19 278.67 L116.95 278.66 L116.71 278.66 L116.47 278.65 L116.22 278.65 L115.98 278.65 L115.74 278.65 L115.5 278.65 L115.26 278.64 L115.02 278.64 L114.77 278.64 L114.53 278.64 L114.29 278.64 L114.05 278.64 L113.81 278.65 L113.57 278.65 L113.32 278.65 L113.08 278.66 L112.84 278.66 L112.6 278.67 L112.36 278.67 L112.12 278.68 L111.87 278.69 L111.63 278.7 L111.39 278.71 L111.15 278.72 L110.91 278.74 L110.67 278.75 L110.43 278.77 L110.18 278.78 L109.94 278.8 L109.7 278.82 L109.46 278.85 L109.22 278.87 L108.98 278.9 L108.73 278.92 L108.49 278.95 L108.25 278.98 L108.01 279.02 L107.77 279.05 L107.53 279.09 L107.28 279.13 L107.04 279.18 L106.8 279.23 L106.56 279.27 L106.32 279.33 L106.08 279.38 L105.83 279.44 L105.59 279.5 L105.35 279.57 L105.11 279.64 L104.87 279.71 L104.63 279.78 L104.39 279.86 L104.14 279.95 L103.9 280.04 L103.66 280.13 L103.42 280.23 L103.18 280.33 L102.94 280.44 L102.69 280.55 L102.45 280.67 L102.21 280.8 L101.97 280.93 L101.73 281.09 L101.49 281.26 L101.24 281.46 L101 281.7 L100.76 282.03 L100.52 282.48 L100.28 283.16 L100.04 284.18 L99.79 285.73 L99.55 288.02 L99.31 291.17 L99.07 293.6 L98.83 297.63 L98.59 301.31 L98.34 304.22 L98.1 306.27 L97.86 307.59 L97.62 308.39 L97.38 308.87 L97.14 309.14 L96.9 309.3 L96.65 309.39 L96.41 309.44 L96.17 309.46 L95.93 309.48 L95.69 309.49 L95.45 309.49 L95.2 309.5 L94.96 309.5 L94.72 309.5 L94.48 309.5 L94.24 309.5 L94 309.5 L93.75 309.5 L93.51 309.5 L93.27 309.5 L93.03 309.5 L92.79 309.5 L92.55 309.5 L92.3 309.5 L92.06 309.5 L91.82 309.5 L91.58 309.5Z" fill="#f6b0b0" opacity="0.6" stroke="#f6b0b0" stroke-width="1"/>
<path d="M91.58 309.5 L91.82 309.5 L92.06 309.5 L92.3 309.5 L92.55 309.5 L92.79 309.5 L93.03 309.5 L93.27 309.5 L93.51 309.5 L93.75 309.5 L94 309.5 L94.24 309.5 L94.48 309.5 L94.72 309.5 L94.96 309.5 L95.2 309.5 L95.45 309.49 L95.69 309.49 L95.93 309.48 L96.17 309.46 L96.41 309.44 L96.65 309.39 L96.9 309.3 L97.14 309.14 L97.38 308.87 L97.62 308.39 L97.86 307.59 L98.1 306.27 L98.34 304.22 L98.59 301.31 L98.83 297.63 L99.07 293.6 L99.31 291.17 L99.55 288.02 L99.79 285.73 L100.04 284.18 L100.28 283.16 L100.52 282.48 L100.76 282.03 L101 281.7 L101.24 281.46 L101.49 281.26 L101.73 281.09 L101.97 280.93 L102.21 280.8 L102.45 280.67 L102.69 280.55 L102.94 280.44 L103.18 280.33 L103.42 280.23 L103.66 280.13 L103.9 280.04 L104.14 279.95 L104.39 279.86 L104.63 279.78 L104.87 279.71 L105.11 279.64 L105.35 279.57 L105.59 279.5 L105.83 279.44 L106.08 279.38 L106.32 279.33 L106.56 279.27 L106.8 279.23 L107.04 279.18 L107.28 279.13 L107.53 279.09 L107.77 279.05 L108.01 279.02 L108.25 278.98 L108.49 278.95 L108.73 278.92 L108.98 278.9 L109.22 278.87 L109.46 278.85 L109.7 278.82 L109.94 278.8 L110.18 278.78 L110.43 278.77 L110.67 278.75 L110.91 278.74 L111.15 278.72 L111.39 278.71 L111.63 278.7 L111.87 278.69 L112.12 278.68 L112.36 278.67 L112.6 278.67 L112.84 278.66 L113.08 278.66 L113.32 278.65 L113.57 278.65 L113.81 278.65 L114.05 278.64 L114.29 278.64 L114.53 278.64 L114.77 278.64 L115.02 278.64 L115.26 278.64 L115.5 278.65 L115.74 278.65 L115.98 278.65 L116.22 278.65 L116.47 278.65 L116.71 278.66 L116.95 278.66 L117.19 278.67 L117.43 278.67 L117.67 278.67 L117.91 278.68 L118.16 278.68 L118.4 278.69 L118.64 278.69 L118.88 278.7 L119.12 278.7 L119.36 278.7 L119.61 278.71 L119.85 278.71 L120.09 278.72 L120.33 278.72 L120.57 278.73 L120.81 278.73 L121.06 278.74 L121.3 278.74 L121.54 278.75 L121.78 278.75 L122.02 278.76 L122.26 278.76 L122.51 278.76 L122.75 278.77 L122.99 278.77 L123.23 278.78 L123.47 278.78 L123.71 278.78 L123.96 278.79 L124.2 278.79 L124.44 278.79 L124.68 278.79 L124.92 278.8 L125.16 278.8 L125.4 278.8 L125.65 278.8 L125.89 278.8 L126.13 278.81 L126.37 278.81 L126.61 278.81 L126.85 278.81 L127.1 278.81 L127.34 278.81 L127.58 278.81 L127.82 278.81 L128.06 278.81 L128.3 278.81 L128.55 278.81 L128.79 278.81 L129.03 278.81 L129.27 278.81 L129.51 278.8 L129.75 278.8 L130 278.8 L130.24 278.8 L130.48 278.8 L130.72 278.79 L130.96 278.79 L131.2 278.79 L131.44 278.79 L131.69 278.78 L131.93 278.78 L132.17 278.78 L132.41 278.77 L132.65 278.77 L132.89 278.76 L133.14 278.76 L133.38 278.76 L133.62 278.75 L133.86 278.75 L134.1 278.74 L134.34 278.74 L134.59 278.73 L134.83 278.73 L135.07 278.72 L135.31 278.72 L135.55 278.71 L135.79 278.71 L136.04 278.7 L136.28 278.7 L136.52 278.7 L136.76 278.69 L137 278.69 L137.24 278.68 L137.49 278.68 L137.73 278.67 L137.97 278.67 L138.21 278.67 L138.45 278.66 L138.69 278.66 L138.93 278.65 L139.18 278.65 L139.42 278.65 L139.66 278.65 L139.9 278.65 L140.14 278.64 L140.38 278.64 L140.63 278.64 L140.87 278.64 L141.11 278.64 L141.35 278.64 L141.59 278.65 L141.83 278.65 L142.08 278.65 L142.32 278.66 L142.56 278.66 L142.8 278.67 L143.04 278.67 L143.28 278.68 L143.53 278.69 L143.77 278.7 L144.01 278.71 L144.25 278.72 L144.49 278.74 L144.73 278.75 L144.97 278.77 L145.22 278.78 L145.46 278.8 L145.7 278.82 L145.94 278.85 L146.18 278.87 L146.42 278.9 L146.67 278.92 L146.91 278.95 L147.15 278.98 L147.39 279.02 L147.63 279.05 L147.87 279.09 L148.12 279.13 L148.36 279.18 L148.6 279.23 L148.84 279.27 L149.08 279.33 L149.32 279.38 L149.57 279.44 L149.81 279.5 L150.05 279.57 L150.29 279.64 L150.53 279.71 L150.77 279.78 L151.01 279.86 L151.26 279.95 L151.5 280.04 L151.74 280.13 L151.98 280.23 L152.22 280.33 L152.46 280.44 L152.71 280.55 L152.95 280.67 L153.19 280.8 L153.43 280.93 L153.67 281.09 L153.91 281.26 L154.16 281.46 L154.4 281.7 L154.64 282.03 L154.88 282.48 L155.12 283.16 L155.36 284.18 L155.61 285.73 L155.85 288.02 L156.09 291.17 L156.33 293.6 L156.57 297.63 L156.81 301.31 L157.06 304.22 L157.3 306.27 L157.54 307.59 L157.78 308.39 L158.02 308.87 L158.26 309.14 L158.5 309.3 L158.75 309.39 L158.99 309.44 L159.23 309.46 L159.47 309.48 L159.71 309.49 L159.95 309.49 L160.2 309.5 L160.44 309.5 L160.68 309.5 L160.92 309.5 L161.16 309.5 L161.4 309.5 L161.65 309.5 L161.89 309.5 L162.13 309.5 L162.37 309.5 L162.61 309.5 L162.85 309.5 L163.1 309.5 L163.34 309.5 L163.58 309.5 L163.82 309.5" fill="none" stroke="#e05050" stroke-width="0.6" stroke-dasharray="1.5 1"/>
<path d="M91.58 309.5 L91.82 309.5 L92.06 309.5 L92.3 309.5 L92.55 309.5 L92.79 309.5 L93.03 309.5 L93.27 309.5 L93.51 309.5 L93.75 309.5 L94 309.5 L94.24 309.5 L94.48 309.5 L94.72 309.5 L94.96 309.5 L95.2 309.5 L95.45 309.49 L95.69 309.49 L95.93 309.48 L96.17 309.46 L96.41 309.44 L96.65 309.39 L96.9 309.3 L97.14 309.14 L97.38 308.87 L97.62 308.39 L97.86 307.59 L98.1 306.27 L98.34 304.22 L98.59 301.31 L98.83 298.38 L99.07 294.15 L99.31 290.32 L99.55 287.04 L99.79 284.41 L100.04 283.26 L100.28 281.92 L100.52 281.3 L100.76 281.3 L101 281.13 L101.24 281.02 L101.49 280.99 L101.73 280.75 L101.97 280.97 L102.21 280.79 L102.45 280.85 L102.69 281.08 L102.94 280.87 L103.18 280.92 L103.42 280.25 L103.66 280.11 L103.9 279.97 L104.14 279.41 L104.39 278.68 L104.63 279.04 L104.87 279.23 L105.11 279.39 L105.35 279.94 L105.59 279.64 L105.83 279.86 L106.08 280.18 L106.32 279.29 L106.56 279.45 L106.8 279.67 L107.04 278.75 L107.28 279.39 L107.53 279.26 L107.77 279.06 L108.01 279.51 L108.25 279.08 L108.49 278.8 L108.73 278.83 L108.98 278.21 L109.22 277.9 L109.46 278.21 L109.7 278.52 L109.94 279.2 L110.18 279.09 L110.43 279.97 L110.67 279.99 L110.91 279.61 L111.15 279.7 L111.39 279.68 L111.63 279.26 L111.87 279.2 L112.12 278.91 L112.36 279.19 L112.6 279.84 L112.84 279.6 L113.08 279.03 L113.32 279.15 L113.57 279.36 L113.81 279.03 L114.05 278.74 L114.29 278.94 L114.53 278.54 L114.77 278.77 L115.02 278.25 L115.26 278.24 L115.5 278.77 L115.74 279.19 L115.98 278.6 L116.22 278.89 L116.47 279.03 L116.71 278.76 L116.95 278.15 L117.19 277.7 L117.43 276.96 L117.67 277.75 L117.91 278.34 L118.16 278.08 L118.4 278.65 L118.64 279.11 L118.88 278.95 L119.12 279.52 L119.36 278.76 L119.61 278.14 L119.85 278.81 L120.09 278.67 L120.33 278.78 L120.57 278.41 L120.81 278.7 L121.06 278.89 L121.3 279.05 L121.54 278.66 L121.78 278.25 L122.02 278.19 L122.26 278.84 L122.51 278.48 L122.75 278.26 L122.99 278.43 L123.23 278.46 L123.47 278.5 L123.71 278.36 L123.96 278.24 L124.2 278.42 L124.44 278.68 L124.68 278.84 L124.92 278.5 L125.16 278.84 L125.4 279.04 L125.65 279.4 L125.89 279.49 L126.13 279.37 L126.37 278.99 L126.61 279.63 L126.85 279.94 L127.1 280.16 L127.34 280.4 L127.58 280.61 L127.82 281 L128.06 281.14 L128.3 280.36 L128.55 279.91 L128.79 279.72 L129.03 279.63 L129.27 279.64 L129.51 279.35 L129.75 279.12 L130 279.3 L130.24 279.64 L130.48 279.55 L130.72 278.71 L130.96 277.98 L131.2 277.5 L131.44 277.37 L131.69 277.14 L131.93 277.05 L132.17 276.98 L132.41 277.59 L132.65 278.17 L132.89 278.81 L133.14 278.63 L133.38 278.81 L133.62 278.65 L133.86 279.24 L134.1 279.09 L134.34 279.36 L134.59 278.76 L134.83 279 L135.07 279.02 L135.31 279.11 L135.55 279.24 L135.79 279.67 L136.04 279.27 L136.28 279.27 L136.52 279.55 L136.76 279.8 L137 279.79 L137.24 279.82 L137.49 279.92 L137.73 280.03 L137.97 280.47 L138.21 280.27 L138.45 279.64 L138.69 279.68 L138.93 279.1 L139.18 278.18 L139.42 277.59 L139.66 278.03 L139.9 278.03 L140.14 278.14 L140.38 278.5 L140.63 278.87 L140.87 279.69 L141.11 280.57 L141.35 280.45 L141.59 280.31 L141.83 280.29 L142.08 279.47 L142.32 279.22 L142.56 279.42 L142.8 279.07 L143.04 278.86 L143.28 278.82 L143.53 279.23 L143.77 280.19 L144.01 280.09 L144.25 280.14 L144.49 280.33 L144.73 280.17 L144.97 280.19 L145.22 279.73 L145.46 279.91 L145.7 279.95 L145.94 279.2 L146.18 279.12 L146.42 279.05 L146.67 279.49 L146.91 279.77 L147.15 278.98 L147.39 279.38 L147.63 279.8 L147.87 279.79 L148.12 280.19 L148.36 279.61 L148.6 279.79 L148.84 279.6 L149.08 279.03 L149.32 278.86 L149.57 278.9 L149.81 279.03 L150.05 279.59 L150.29 279.91 L150.53 280.23 L150.77 280.86 L151.01 280.9 L151.26 280.84 L151.5 280.77 L151.74 280.65 L151.98 280.07 L152.22 279.77 L152.46 279.8 L152.71 279.94 L152.95 280.16 L153.19 280.17 L153.43 279.76 L153.67 280.05 L153.91 280.25 L154.16 279.66 L154.4 279.89 L154.64 280.08 L154.88 280.36 L155.12 281.08 L155.36 282.23 L155.61 283.85 L155.85 286.2 L156.09 288.78 L156.33 292.36 L156.57 296.62 L156.81 301.31 L157.06 304.22 L157.3 306.27 L157.54 307.59 L157.78 308.39 L158.02 308.87 L158.26 309.14 L158.5 309.3 L158.75 309.39 L158.99 309.44 L159.23 309.46 L159.47 309.48 L159.71 309.49 L159.95 309.49 L160.2 309.5 L160.44 309.5 L160.68 309.5 L160.92 309.5 L161.16 309.5 L161.4 309.5 L161.65 309.5 L161.89 309.5 L162.13 309.5 L162.37 309.5 L162.61 309.5 L162.85 309.5 L163.1 309.5 L163.34 309.5 L163.58 309.5 L163.82 309.5" fill="none" stroke="#e02828" stroke-width="0.65"/>
<line x1="97.6" y1="310" x2="97.6" y2="312.2" stroke="#444" stroke-width="0.6" />
<text x="96.8" y="320.9" font-size="5.8" text-anchor="middle" fill="#333" font-family="Liberation Sans, sans-serif"  stroke="#333" stroke-width="0.1">-1.0</text>
<line x1="112.65" y1="310" x2="112.65" y2="312.2" stroke="#444" stroke-width="0.6" />
<text x="111.85" y="320.9" font-size="5.8" text-anchor="middle" fill="#333" font-family="Liberation Sans, sans-serif"  stroke="#333" stroke-width="0.1">-0.5</text>
<line x1="127.7" y1="310" x2="127.7" y2="312.2" stroke="#444" stroke-width="0.6" />
<text x="127.7" y="320.9" font-size="5.8" text-anchor="middle" fill="#333" font-family="Liberation Sans, sans-serif"  stroke="#333" stroke-width="0.1">0.0</text>
<line x1="142.75" y1="310" x2="142.75" y2="312.2" stroke="#444" stroke-width="0.6" />
<text x="142.75" y="320.9" font-size="5.8" text-anchor="middle" fill="#333" font-family="Liberation Sans, sans-serif"  stroke="#333" stroke-width="0.1">0.5</text>
<line x1="157.8" y1="310" x2="157.8" y2="312.2" stroke="#444" stroke-width="0.6" />
<text x="157.8" y="320.9" font-size="5.8" text-anchor="middle" fill="#333" font-family="Liberation Sans, sans-serif"  stroke="#333" stroke-width="0.1">1.0</text>
<line x1="94.59" y1="310" x2="94.59" y2="311.1" stroke="#444" stroke-width="0.4" />
<line x1="94.59" y1="270.8" x2="94.59" y2="269.7" stroke="#444" stroke-width="0.4" />
<line x1="97.6" y1="310" x2="97.6" y2="311.1" stroke="#444" stroke-width="0.4" />
<line x1="97.6" y1="270.8" x2="97.6" y2="269.7" stroke="#444" stroke-width="0.4" />
<line x1="100.61" y1="310" x2="100.61" y2="311.1" stroke="#444" stroke-width="0.4" />
<line x1="100.61" y1="270.8" x2="100.61" y2="269.7" stroke="#444" stroke-width="0.4" />
<line x1="103.62" y1="310" x2="103.62" y2="311.1" stroke="#444" stroke-width="0.4" />
<line x1="103.62" y1="270.8" x2="103.62" y2="269.7" stroke="#444" stroke-width="0.4" />
<line x1="106.63" y1="310" x2="106.63" y2="311.1" stroke="#444" stroke-width="0.4" />
<line x1="106.63" y1="270.8" x2="106.63" y2="269.7" stroke="#444" stroke-width="0.4" />
<line x1="109.64" y1="310" x2="109.64" y2="311.1" stroke="#444" stroke-width="0.4" />
<line x1="109.64" y1="270.8" x2="109.64" y2="269.7" stroke="#444" stroke-width="0.4" />
<line x1="112.65" y1="310" x2="112.65" y2="311.1" stroke="#444" stroke-width="0.4" />
<line x1="112.65" y1="270.8" x2="112.65" y2="269.7" stroke="#444" stroke-width="0.4" />
<line x1="115.66" y1="310" x2="115.66" y2="311.1" stroke="#444" stroke-width="0.4" />
<line x1="115.66" y1="270.8" x2="115.66" y2="269.7" stroke="#444" stroke-width="0.4" />
<line x1="118.67" y1="310" x2="118.67" y2="311.1" stroke="#444" stroke-width="0.4" />
<line x1="118.67" y1="270.8" x2="118.67" y2="269.7" stroke="#444" stroke-width="0.4" />
<line x1="121.68" y1="310" x2="121.68" y2="311.1" stroke="#444" stroke-width="0.4" />
<line x1="121.68" y1="270.8" x2="121.68" y2="269.7" stroke="#444" stroke-width="0.4" />
<line x1="124.69" y1="310" x2="124.69" y2="311.1" stroke="#444" stroke-width="0.4" />
<line x1="124.69" y1="270.8" x2="124.69" y2="269.7" stroke="#444" stroke-width="0.4" />
<line x1="127.7" y1="310" x2="127.7" y2="311.1" stroke="#444" stroke-width="0.4" />
<line x1="127.7" y1="270.8" x2="127.7" y2="269.7" stroke="#444" stroke-width="0.4" />
<line x1="130.71" y1="310" x2="130.71" y2="311.1" stroke="#444" stroke-width="0.4" />
<line x1="130.71" y1="270.8" x2="130.71" y2="269.7" stroke="#444" stroke-width="0.4" />
<line x1="133.72" y1="310" x2="133.72" y2="311.1" stroke="#444" stroke-width="0.4" />
<line x1="133.72" y1="270.8" x2="133.72" y2="269.7" stroke="#444" stroke-width="0.4" />
<line x1="136.73" y1="310" x2="136.73" y2="311.1" stroke="#444" stroke-width="0.4" />
<line x1="136.73" y1="270.8" x2="136.73" y2="269.7" stroke="#444" stroke-width="0.4" />
<line x1="139.74" y1="310" x2="139.74" y2="311.1" stroke="#444" stroke-width="0.4" />
<line x1="139.74" y1="270.8" x2="139.74" y2="269.7" stroke="#444" stroke-width="0.4" />
<line x1="142.75" y1="310" x2="142.75" y2="311.1" stroke="#444" stroke-width="0.4" />
<line x1="142.75" y1="270.8" x2="142.75" y2="269.7" stroke="#444" stroke-width="0.4" />
<line x1="145.76" y1="310" x2="145.76" y2="311.1" stroke="#444" stroke-width="0.4" />
<line x1="145.76" y1="270.8" x2="145.76" y2="269.7" stroke="#444" stroke-width="0.4" />
<line x1="148.77" y1="310" x2="148.77" y2="311.1" stroke="#444" stroke-width="0.4" />
<line x1="148.77" y1="270.8" x2="148.77" y2="269.7" stroke="#444" stroke-width="0.4" />
<line x1="151.78" y1="310" x2="151.78" y2="311.1" stroke="#444" stroke-width="0.4" />
<line x1="151.78" y1="270.8" x2="151.78" y2="269.7" stroke="#444" stroke-width="0.4" />
<line x1="154.79" y1="310" x2="154.79" y2="311.1" stroke="#444" stroke-width="0.4" />
<line x1="154.79" y1="270.8" x2="154.79" y2="269.7" stroke="#444" stroke-width="0.4" />
<line x1="157.8" y1="310" x2="157.8" y2="311.1" stroke="#444" stroke-width="0.4" />
<line x1="157.8" y1="270.8" x2="157.8" y2="269.7" stroke="#444" stroke-width="0.4" />
<line x1="160.81" y1="310" x2="160.81" y2="311.1" stroke="#444" stroke-width="0.4" />
<line x1="160.81" y1="270.8" x2="160.81" y2="269.7" stroke="#444" stroke-width="0.4" />
<line x1="91.2" y1="309.5" x2="89" y2="309.5" stroke="#444" stroke-width="0.6" />
<text x="85.6" y="311.5" font-size="5.6" text-anchor="end" fill="#333" font-family="Liberation Sans, sans-serif"  stroke="#333" stroke-width="0.1">0.0</text>
<line x1="91.2" y1="276.5" x2="89" y2="276.5" stroke="#444" stroke-width="0.6" />
<text x="85.6" y="278.5" font-size="5.6" text-anchor="end" fill="#333" font-family="Liberation Sans, sans-serif"  stroke="#333" stroke-width="0.1">1.0</text>
<line x1="91.2" y1="309.5" x2="90.1" y2="309.5" stroke="#444" stroke-width="0.4" />
<line x1="91.2" y1="301.25" x2="90.1" y2="301.25" stroke="#444" stroke-width="0.4" />
<line x1="91.2" y1="293" x2="90.1" y2="293" stroke="#444" stroke-width="0.4" />
<line x1="91.2" y1="284.75" x2="90.1" y2="284.75" stroke="#444" stroke-width="0.4" />
<line x1="91.2" y1="276.5" x2="90.1" y2="276.5" stroke="#444" stroke-width="0.4" />
<text x="127.5" y="276" font-size="4.9" text-anchor="middle" fill="#445" font-family="Liberation Sans, sans-serif"  stroke="#445" stroke-width="0.1">95 ± 1% OP</text>
<text x="127.2" y="290.6" font-size="4.6" text-anchor="middle" fill="#e03030" font-family="Liberation Sans, sans-serif" font-style="italic" stroke="#e03030" stroke-width="0.1">s-pol</text>
<line x1="118.5" y1="296" x2="123" y2="296" stroke="#e02828" stroke-width="0.7" />
<text x="124.5" y="297.5" font-size="4.2" text-anchor="start" fill="#445" font-family="Liberation Sans, sans-serif"  stroke="#445" stroke-width="0.1">Exp.</text>
<line x1="118.5" y1="301.8" x2="123" y2="301.8" stroke="#e02828" stroke-width="0.6" stroke-dasharray="1.2 1"/>
<text x="124.5" y="303.3" font-size="4.2" text-anchor="start" fill="#445" font-family="Liberation Sans, sans-serif"  stroke="#445" stroke-width="0.1">Calc.</text>
<text x="152" y="302.6" font-size="5.4" text-anchor="middle" fill="#e02828" font-family="DejaVu Sans, sans-serif" font-weight="bold" stroke="#e02828" stroke-width="0.1">⊥</text>
<text x="0" y="0" font-size="7.7" text-anchor="middle" fill="#222" font-family="Liberation Sans, sans-serif" transform="translate(74.2 290) rotate(-90)"  stroke="#222" stroke-width="0.18">I(k<tspan font-size="5.3" dy="1.4">x</tspan><tspan dy="-1.4">/k</tspan><tspan font-size="5.3" dy="1.4">0</tspan><tspan dy="-1.4">) (a.u.)</tspan></text>
<text x="130.5" y="332" font-size="8.2" text-anchor="middle" fill="#222" font-family="Liberation Sans, sans-serif"  stroke="#222" stroke-width="0.18">k<tspan font-size="5.2" dy="1.5">x</tspan><tspan dy="-1.5">/k</tspan><tspan font-size="5.2" dy="1.5">0</tspan></text>
</g>
<g id="panel-e">
<text x="199.8" y="178.8" font-size="11" text-anchor="start" fill="#111" font-family="Liberation Sans, sans-serif" stroke="#111" stroke-width="0.4">e</text>
<g clip-path="url(#clipSem)">
<rect x="223.8" y="201.2" width="144.1" height="50.3" fill="#444"/>
<path d="M238 205.2 L351 206.6 Q359 207.4 360 213 L360 219 L238 218.6Z" fill="#9c9c9c"/>
<path d="M241 206.4 L350 207.8 Q356 208.6 357.4 212.6 L357 214.2 L243 213.8Z" fill="#b4b4b4"/>
<path d="M243 214 L357 214.4 L359.6 218.8 L243 218.6Z" fill="#8a8a8a"/>
<ellipse cx="297.5" cy="209.2" rx="8" ry="1.4" fill="#dcdcdc" opacity="0.7"/>
<rect x="243" y="219" width="117" height="17.2" fill="#4a4a4a"/>
<line x1="243" y1="218.8" x2="360" y2="219" stroke="#a8a8a8" stroke-width="0.7" />
<rect x="237" y="207" width="6.4" height="29" fill="#969696"/>
<line x1="243.4" y1="214" x2="243.4" y2="235.6" stroke="#a4a4a4" stroke-width="0.8" />
<line x1="238" y1="235.8" x2="360" y2="235.8" stroke="#8c8c8c" stroke-width="1.2" />
<path d="M234 237.5 L355 237.6 Q360 237.4 359.9 232 L359.9 213 Q359 207.2 351 206.4" fill="none" stroke="#f0f0f0" stroke-width="1.5"/>
<rect x="234" y="238.6" width="134" height="13" fill="#3a3a3a"/>
<rect x="223.8" y="201.2" width="10" height="50.3" fill="url(#semleft)"/>
<line x1="230.1" y1="212.3" x2="231.72" y2="212.29" stroke="#c8c8c8" stroke-width="0.6" opacity="0.55"/>
<line x1="227.63" y1="239.5" x2="229.52" y2="239.92" stroke="#6a6a6a" stroke-width="0.6" opacity="0.55"/>
<line x1="229.17" y1="205.24" x2="231.49" y2="204.93" stroke="#6a6a6a" stroke-width="0.6" opacity="0.55"/>
<line x1="228.06" y1="232.64" x2="230.86" y2="231.84" stroke="#6a6a6a" stroke-width="0.6" opacity="0.55"/>
<line x1="225.78" y1="215.43" x2="227.76" y2="215.33" stroke="#c8c8c8" stroke-width="0.6" opacity="0.55"/>
<line x1="225.32" y1="249.21" x2="226.39" y2="249.1" stroke="#6a6a6a" stroke-width="0.6" opacity="0.55"/>
<line x1="229.46" y1="236.19" x2="230.53" y2="237.31" stroke="#c8c8c8" stroke-width="0.6" opacity="0.55"/>
<line x1="229.62" y1="214.15" x2="233.23" y2="214.28" stroke="#c8c8c8" stroke-width="0.6" opacity="0.55"/>
<line x1="227.29" y1="201.31" x2="231.23" y2="201.93" stroke="#c8c8c8" stroke-width="0.6" opacity="0.55"/>
<line x1="227.39" y1="239.74" x2="228.48" y2="239.54" stroke="#6a6a6a" stroke-width="0.6" opacity="0.55"/>
<line x1="225.76" y1="206.77" x2="229.65" y2="207.34" stroke="#c8c8c8" stroke-width="0.6" opacity="0.55"/>
<line x1="229.68" y1="232.97" x2="233.46" y2="233.2" stroke="#c8c8c8" stroke-width="0.6" opacity="0.55"/>
<line x1="224.66" y1="242.44" x2="226.74" y2="242.47" stroke="#c8c8c8" stroke-width="0.6" opacity="0.55"/>
<line x1="225.32" y1="203.76" x2="227.42" y2="203.5" stroke="#6a6a6a" stroke-width="0.6" opacity="0.55"/>
<line x1="226.46" y1="240.95" x2="229.38" y2="242.29" stroke="#c8c8c8" stroke-width="0.6" opacity="0.55"/>
<line x1="224.78" y1="248.38" x2="228.31" y2="248.27" stroke="#6a6a6a" stroke-width="0.6" opacity="0.55"/>
<line x1="226.68" y1="206.24" x2="229.21" y2="206.19" stroke="#6a6a6a" stroke-width="0.6" opacity="0.55"/>
<line x1="224.78" y1="244.19" x2="227.21" y2="244.39" stroke="#c8c8c8" stroke-width="0.6" opacity="0.55"/>
<line x1="227.13" y1="226.94" x2="230.53" y2="226.96" stroke="#6a6a6a" stroke-width="0.6" opacity="0.55"/>
<line x1="229.61" y1="250.46" x2="230.77" y2="250.28" stroke="#6a6a6a" stroke-width="0.6" opacity="0.55"/>
<line x1="228.92" y1="223.82" x2="230.92" y2="224.15" stroke="#c8c8c8" stroke-width="0.6" opacity="0.55"/>
<line x1="230.29" y1="221.58" x2="232.28" y2="221.48" stroke="#6a6a6a" stroke-width="0.6" opacity="0.55"/>
<line x1="228.63" y1="227.54" x2="232.3" y2="227.94" stroke="#c8c8c8" stroke-width="0.6" opacity="0.55"/>
<line x1="230.82" y1="239.57" x2="232.94" y2="240.06" stroke="#6a6a6a" stroke-width="0.6" opacity="0.55"/>
<line x1="225.55" y1="213.18" x2="227.64" y2="213.85" stroke="#6a6a6a" stroke-width="0.6" opacity="0.55"/>
<line x1="225.69" y1="204.37" x2="226.95" y2="204.26" stroke="#c8c8c8" stroke-width="0.6" opacity="0.55"/>
<line x1="225.37" y1="209.71" x2="228.81" y2="209.9" stroke="#c8c8c8" stroke-width="0.6" opacity="0.55"/>
<line x1="230.75" y1="204.19" x2="233.47" y2="204.83" stroke="#6a6a6a" stroke-width="0.6" opacity="0.55"/>
<line x1="228.62" y1="242.49" x2="232.58" y2="242.58" stroke="#6a6a6a" stroke-width="0.6" opacity="0.55"/>
<line x1="225.69" y1="233.81" x2="226.79" y2="233.35" stroke="#c8c8c8" stroke-width="0.6" opacity="0.55"/>
<line x1="230.25" y1="219.44" x2="232.62" y2="220.36" stroke="#c8c8c8" stroke-width="0.6" opacity="0.55"/>
<line x1="229.52" y1="249.26" x2="232.01" y2="248.7" stroke="#6a6a6a" stroke-width="0.6" opacity="0.55"/>
<line x1="229.24" y1="231.4" x2="232.51" y2="230.51" stroke="#6a6a6a" stroke-width="0.6" opacity="0.55"/>
<line x1="227.35" y1="219.47" x2="229.97" y2="218.6" stroke="#6a6a6a" stroke-width="0.6" opacity="0.55"/>
<line x1="226.11" y1="207.92" x2="227.52" y2="208.49" stroke="#c8c8c8" stroke-width="0.6" opacity="0.55"/>
<line x1="227.93" y1="251.06" x2="230.57" y2="250.48" stroke="#c8c8c8" stroke-width="0.6" opacity="0.55"/>
<line x1="228.31" y1="237.54" x2="231.08" y2="236.72" stroke="#c8c8c8" stroke-width="0.6" opacity="0.55"/>
<line x1="226.16" y1="231.43" x2="227.9" y2="232.02" stroke="#6a6a6a" stroke-width="0.6" opacity="0.55"/>
<line x1="224.09" y1="218.59" x2="225.59" y2="218.53" stroke="#6a6a6a" stroke-width="0.6" opacity="0.55"/>
<line x1="229.43" y1="230.76" x2="232.3" y2="230.65" stroke="#6a6a6a" stroke-width="0.6" opacity="0.55"/>
<line x1="229.11" y1="245.89" x2="231.61" y2="245.96" stroke="#6a6a6a" stroke-width="0.6" opacity="0.55"/>
<line x1="230.92" y1="233.27" x2="234.23" y2="234.39" stroke="#6a6a6a" stroke-width="0.6" opacity="0.55"/>
<line x1="230.51" y1="207.19" x2="234.24" y2="207.6" stroke="#6a6a6a" stroke-width="0.6" opacity="0.55"/>
<line x1="225.35" y1="241.8" x2="226.81" y2="242.19" stroke="#6a6a6a" stroke-width="0.6" opacity="0.55"/>
<line x1="229.92" y1="201.22" x2="231.4" y2="201.49" stroke="#c8c8c8" stroke-width="0.6" opacity="0.55"/>
<line x1="230.73" y1="231.2" x2="232.87" y2="231.98" stroke="#6a6a6a" stroke-width="0.6" opacity="0.55"/>
<path d="M231.5 201.2 Q233 206 234.6 209 Q236.6 214 235.6 222 Q236.4 232 234.6 238 L233.4 251.5" fill="none" stroke="#ececec" stroke-width="2.2" opacity="0.9"/>
<path d="M234.6 201.2 Q237 204.5 241 205.6" fill="none" stroke="#d0d0d0" stroke-width="1.6"/>
<line x1="237.9" y1="245.5" x2="259.1" y2="245.5" stroke="#fafafa" stroke-width="1.7" />
</g>
<rect x="283.7" y="218.2" width="24" height="7.4" fill="none" stroke="#dcb888" stroke-width="0.55"/>
<line x1="286.5" y1="218.4" x2="264.6" y2="261.6" stroke="#ecd0a8" stroke-width="0.5" />
<line x1="307.7" y1="225.4" x2="367.2" y2="261.6" stroke="#ecd0a8" stroke-width="0.5" />
<rect x="264.2" y="261.7" width="103.1" height="46.8" fill="#4e4e4e"/>
<rect x="264.2" y="261.7" width="103.1" height="16.5" fill="url(#ptg)"/>
<line x1="264.2" y1="278.6" x2="367.3" y2="278.6" stroke="#c4c4c4" stroke-width="0.9" />
<rect x="264.2" y="279.1" width="103.1" height="16.4" fill="url(#darkg)"/>
<line x1="264.2" y1="295.8" x2="367.3" y2="295.8" stroke="#626262" stroke-width="0.8" />
<rect x="264.2" y="296.3" width="103.1" height="12.2" fill="#525252"/>
<text x="267.2" y="271.6" font-size="7.2" text-anchor="start" fill="#f2f2f2" font-family="Liberation Sans, sans-serif"  stroke="#f2f2f2" stroke-width="0.18">Pt</text>
<text x="267.2" y="307" font-size="7.2" text-anchor="start" fill="#f2f2f2" font-family="Liberation Sans, sans-serif"  stroke="#f2f2f2" stroke-width="0.18">Si</text>
<line x1="339.6" y1="303.8" x2="364.2" y2="303.8" stroke="#fafafa" stroke-width="1.5" />
<line x1="249.7" y1="267.8" x2="264.2" y2="278.6" stroke="#7c7cd8" stroke-width="0.7" />
<text x="240.2" y="267.3" font-size="7.0" text-anchor="start" fill="#222" font-family="Liberation Sans, sans-serif"  stroke="#222" stroke-width="0.18">Au</text>
<line x1="241.6" y1="275.2" x2="264.2" y2="285.3" stroke="#7c7cd8" stroke-width="0.7" />
<text x="227.8" y="275.6" font-size="7.0" text-anchor="start" fill="#222" font-family="Liberation Sans, sans-serif"  stroke="#222" stroke-width="0.18">BN<tspan font-size="4.6" dy="1.4">T</tspan></text>
<line x1="238.4" y1="285" x2="264.2" y2="292" stroke="#7c7cd8" stroke-width="0.7" />
<text x="223.6" y="285.6" font-size="7.0" text-anchor="start" fill="#222" font-family="Liberation Sans, sans-serif"  stroke="#222" stroke-width="0.18">InSe</text>
<line x1="241.6" y1="294.3" x2="264.2" y2="294" stroke="#7c7cd8" stroke-width="0.7" />
<text x="227.8" y="296.2" font-size="7.0" text-anchor="start" fill="#222" font-family="Liberation Sans, sans-serif"  stroke="#222" stroke-width="0.18">BN<tspan font-size="4.6" dy="1.4">B</tspan></text>
<line x1="245.4" y1="302.8" x2="264.2" y2="296.7" stroke="#7c7cd8" stroke-width="0.7" />
<text x="230.2" y="307.3" font-size="7.0" text-anchor="start" fill="#222" font-family="Liberation Sans, sans-serif"  stroke="#222" stroke-width="0.18">SiO<tspan font-size="4.6" dy="1.4">2</tspan></text>
<line x1="451.2" y1="256" x2="451.2" y2="201.5" stroke="#dcdcdc" stroke-width="0.5" />
<line x1="451.2" y1="256" x2="478.45" y2="208.8" stroke="#dcdcdc" stroke-width="0.5" />
<line x1="451.2" y1="256" x2="498.4" y2="228.75" stroke="#dcdcdc" stroke-width="0.5" />
<line x1="451.2" y1="256" x2="505.7" y2="256" stroke="#dcdcdc" stroke-width="0.5" />
<line x1="451.2" y1="256" x2="498.4" y2="283.25" stroke="#dcdcdc" stroke-width="0.5" />
<line x1="451.2" y1="256" x2="478.45" y2="303.2" stroke="#dcdcdc" stroke-width="0.5" />
<line x1="451.2" y1="256" x2="451.2" y2="310.5" stroke="#dcdcdc" stroke-width="0.5" />
<line x1="451.2" y1="256" x2="423.95" y2="303.2" stroke="#dcdcdc" stroke-width="0.5" />
<line x1="451.2" y1="256" x2="404" y2="283.25" stroke="#dcdcdc" stroke-width="0.5" />
<line x1="451.2" y1="256" x2="396.7" y2="256" stroke="#dcdcdc" stroke-width="0.5" />
<line x1="451.2" y1="256" x2="404" y2="228.75" stroke="#dcdcdc" stroke-width="0.5" />
<line x1="451.2" y1="256" x2="423.95" y2="208.8" stroke="#dcdcdc" stroke-width="0.5" />
<circle cx="451.2" cy="256" r="18.17" fill="none" stroke="#e4e4e4" stroke-width="0.5"/>
<circle cx="451.2" cy="256" r="36.33" fill="none" stroke="#e4e4e4" stroke-width="0.5"/>
<circle cx="451.2" cy="256" r="54.5" fill="none" stroke="#555" stroke-width="0.7"/>
<path d="M451.2 218.7 L451.85 218.72 L452.5 218.76 L453.15 218.84 L453.79 218.95 L454.43 219.09 L455.06 219.27 L455.69 219.47 L456.3 219.7 L456.91 219.96 L457.5 220.26 L458.09 220.58 L458.66 220.92 L459.21 221.3 L459.75 221.7 L460.28 222.13 L460.78 222.58 L461.27 223.05 L461.74 223.55 L462.19 224.07 L462.63 224.61 L463.03 225.17 L463.42 225.75 L463.79 226.34 L464.13 226.96 L464.45 227.59 L464.75 228.23 L465.02 228.88 L465.27 229.55 L465.49 230.22 L465.69 230.91 L465.86 231.6 L466.01 232.3 L466.14 233 L466.24 233.71 L466.31 234.42 L466.36 235.13 L466.39 235.84 L466.39 236.55 L466.37 237.26 L466.33 237.97 L466.27 238.67 L466.18 239.36 L466.08 240.05 L465.95 240.73 L465.8 241.4 L465.64 242.06 L465.45 242.71 L465.25 243.35 L465.04 243.97 L464.8 244.58 L464.56 245.18 L464.3 245.77 L464.03 246.33 L463.74 246.89 L463.45 247.42 L463.15 247.94 L462.84 248.44 L462.52 248.92 L462.2 249.39 L461.87 249.84 L461.54 250.27 L461.21 250.68 L460.88 251.07 L460.55 251.44 L460.22 251.8 L459.89 252.13 L459.56 252.45 L459.24 252.75 L458.93 253.03 L458.62 253.3 L458.32 253.55 L458.03 253.78 L457.75 254 L457.48 254.2 L457.22 254.39 L456.97 254.56 L456.74 254.72 L456.52 254.87 L456.32 255.01 L456.13 255.13 L455.96 255.25 L455.8 255.35 L455.66 255.45 L455.54 255.54 L455.44 255.63 L455.35 255.71 L455.29 255.79 L455.24 255.86 L455.21 255.93 L455.2 256 L455.21 256.07 L455.24 256.14 L455.29 256.21 L455.35 256.29 L455.44 256.37 L455.54 256.46 L455.66 256.55 L455.8 256.65 L455.96 256.75 L456.13 256.87 L456.32 256.99 L456.52 257.13 L456.74 257.28 L456.97 257.44 L457.22 257.61 L457.48 257.8 L457.75 258 L458.03 258.22 L458.32 258.45 L458.62 258.7 L458.93 258.97 L459.24 259.25 L459.56 259.55 L459.89 259.87 L460.22 260.2 L460.55 260.56 L460.88 260.93 L461.21 261.32 L461.54 261.73 L461.87 262.16 L462.2 262.61 L462.52 263.08 L462.84 263.56 L463.15 264.06 L463.45 264.58 L463.74 265.11 L464.03 265.67 L464.3 266.23 L464.56 266.82 L464.8 267.42 L465.04 268.03 L465.25 268.65 L465.45 269.29 L465.64 269.94 L465.8 270.6 L465.95 271.27 L466.08 271.95 L466.18 272.64 L466.27 273.33 L466.33 274.03 L466.37 274.74 L466.39 275.45 L466.39 276.16 L466.36 276.87 L466.31 277.58 L466.24 278.29 L466.14 279 L466.01 279.7 L465.86 280.4 L465.69 281.09 L465.49 281.78 L465.27 282.45 L465.02 283.12 L464.75 283.77 L464.45 284.41 L464.13 285.04 L463.79 285.66 L463.42 286.25 L463.03 286.83 L462.63 287.39 L462.19 287.93 L461.74 288.45 L461.27 288.95 L460.78 289.42 L460.28 289.87 L459.75 290.3 L459.21 290.7 L458.66 291.08 L458.09 291.42 L457.5 291.74 L456.91 292.04 L456.3 292.3 L455.69 292.53 L455.06 292.73 L454.43 292.91 L453.79 293.05 L453.15 293.16 L452.5 293.24 L451.85 293.28 L451.2 293.3 L450.55 293.28 L449.9 293.24 L449.25 293.16 L448.61 293.05 L447.97 292.91 L447.34 292.73 L446.71 292.53 L446.1 292.3 L445.49 292.04 L444.9 291.74 L444.31 291.42 L443.74 291.08 L443.19 290.7 L442.65 290.3 L442.12 289.87 L441.62 289.42 L441.13 288.95 L440.66 288.45 L440.21 287.93 L439.77 287.39 L439.37 286.83 L438.98 286.25 L438.61 285.66 L438.27 285.04 L437.95 284.41 L437.65 283.77 L437.38 283.12 L437.13 282.45 L436.91 281.78 L436.71 281.09 L436.54 280.4 L436.39 279.7 L436.26 279 L436.16 278.29 L436.09 277.58 L436.04 276.87 L436.01 276.16 L436.01 275.45 L436.03 274.74 L436.07 274.03 L436.13 273.33 L436.22 272.64 L436.32 271.95 L436.45 271.27 L436.6 270.6 L436.76 269.94 L436.95 269.29 L437.15 268.65 L437.36 268.03 L437.6 267.42 L437.84 266.82 L438.1 266.23 L438.37 265.67 L438.66 265.11 L438.95 264.58 L439.25 264.06 L439.56 263.56 L439.88 263.08 L440.2 262.61 L440.53 262.16 L440.86 261.73 L441.19 261.32 L441.52 260.93 L441.85 260.56 L442.18 260.2 L442.51 259.87 L442.84 259.55 L443.16 259.25 L443.47 258.97 L443.78 258.7 L444.08 258.45 L444.37 258.22 L444.65 258 L444.92 257.8 L445.18 257.61 L445.43 257.44 L445.66 257.28 L445.88 257.13 L446.08 256.99 L446.27 256.87 L446.44 256.75 L446.6 256.65 L446.74 256.55 L446.86 256.46 L446.96 256.37 L447.05 256.29 L447.11 256.21 L447.16 256.14 L447.19 256.07 L447.2 256 L447.19 255.93 L447.16 255.86 L447.11 255.79 L447.05 255.71 L446.96 255.63 L446.86 255.54 L446.74 255.45 L446.6 255.35 L446.44 255.25 L446.27 255.13 L446.08 255.01 L445.88 254.87 L445.66 254.72 L445.43 254.56 L445.18 254.39 L444.92 254.2 L444.65 254 L444.37 253.78 L444.08 253.55 L443.78 253.3 L443.47 253.03 L443.16 252.75 L442.84 252.45 L442.51 252.13 L442.18 251.8 L441.85 251.44 L441.52 251.07 L441.19 250.68 L440.86 250.27 L440.53 249.84 L440.2 249.39 L439.88 248.92 L439.56 248.44 L439.25 247.94 L438.95 247.42 L438.66 246.89 L438.37 246.33 L438.1 245.77 L437.84 245.18 L437.6 244.58 L437.36 243.97 L437.15 243.35 L436.95 242.71 L436.76 242.06 L436.6 241.4 L436.45 240.73 L436.32 240.05 L436.22 239.36 L436.13 238.67 L436.07 237.97 L436.03 237.26 L436.01 236.55 L436.01 235.84 L436.04 235.13 L436.09 234.42 L436.16 233.71 L436.26 233 L436.39 232.3 L436.54 231.6 L436.71 230.91 L436.91 230.22 L437.13 229.55 L437.38 228.88 L437.65 228.23 L437.95 227.59 L438.27 226.96 L438.61 226.34 L438.98 225.75 L439.37 225.17 L439.77 224.61 L440.21 224.07 L440.66 223.55 L441.13 223.05 L441.62 222.58 L442.12 222.13 L442.65 221.7 L443.19 221.3 L443.74 220.92 L444.31 220.58 L444.9 220.26 L445.49 219.96 L446.1 219.7 L446.71 219.47 L447.34 219.27 L447.97 219.09 L448.61 218.95 L449.25 218.84 L449.9 218.76 L450.55 218.72 L451.2 218.7" fill="none" stroke="#e08438" stroke-width="0.8"/>
<circle cx="443.41" cy="211.56" r="1.4" fill="#1e8ad2"/>
<circle cx="459.05" cy="210.17" r="1.4" fill="#1e8ad2"/>
<circle cx="451.23" cy="215.47" r="1.4" fill="#1e8ad2"/>
<circle cx="458.21" cy="217.71" r="1.4" fill="#1e8ad2"/>
<circle cx="464.64" cy="217.71" r="1.4" fill="#1e8ad2"/>
<circle cx="463.8" cy="221.9" r="1.4" fill="#1e8ad2"/>
<circle cx="439.22" cy="224.13" r="1.4" fill="#1e8ad2"/>
<circle cx="468.27" cy="229.44" r="1.4" fill="#1e8ad2"/>
<circle cx="436.7" cy="231.68" r="1.4" fill="#1e8ad2"/>
<circle cx="436.7" cy="238.66" r="1.4" fill="#1e8ad2"/>
<circle cx="465.75" cy="239.5" r="1.4" fill="#1e8ad2"/>
<circle cx="437.82" cy="244.25" r="1.4" fill="#1e8ad2"/>
<circle cx="462.96" cy="245.64" r="1.4" fill="#1e8ad2"/>
<circle cx="440.06" cy="249.83" r="1.4" fill="#1e8ad2"/>
<circle cx="459.61" cy="251.23" r="1.4" fill="#1e8ad2"/>
<circle cx="444.25" cy="253.18" r="1.4" fill="#1e8ad2"/>
<circle cx="456.82" cy="254.86" r="1.4" fill="#1e8ad2"/>
<circle cx="447.04" cy="255.42" r="1.4" fill="#1e8ad2"/>
<circle cx="454.86" cy="255.98" r="1.4" fill="#1e8ad2"/>
<circle cx="446.48" cy="257.65" r="1.4" fill="#1e8ad2"/>
<circle cx="459.05" cy="259.61" r="1.4" fill="#1e8ad2"/>
<circle cx="444.25" cy="261.01" r="1.4" fill="#1e8ad2"/>
<circle cx="461.84" cy="263.24" r="1.4" fill="#1e8ad2"/>
<circle cx="440.89" cy="265.2" r="1.4" fill="#1e8ad2"/>
<circle cx="464.64" cy="267.99" r="1.4" fill="#1e8ad2"/>
<circle cx="438.66" cy="269.94" r="1.4" fill="#1e8ad2"/>
<circle cx="467.43" cy="274.97" r="1.4" fill="#1e8ad2"/>
<circle cx="439.22" cy="277.21" r="1.4" fill="#1e8ad2"/>
<circle cx="466.03" cy="280" r="1.4" fill="#1e8ad2"/>
<circle cx="442.01" cy="280" r="1.4" fill="#1e8ad2"/>
<circle cx="461.01" cy="283.91" r="1.4" fill="#1e8ad2"/>
<circle cx="455.98" cy="284.75" r="1.4" fill="#1e8ad2"/>
<circle cx="445.64" cy="289.5" r="1.4" fill="#1e8ad2"/>
<circle cx="451.23" cy="291.17" r="1.4" fill="#1e8ad2"/>
<text x="451.2" y="197.4" font-size="8.2" text-anchor="middle" fill="#262626" font-family="Liberation Sans, sans-serif"  stroke="#262626" stroke-width="0.18">0</text>
<text x="484.7" y="204.7" font-size="8.2" text-anchor="middle" fill="#262626" font-family="Liberation Sans, sans-serif"  stroke="#262626" stroke-width="0.18">30</text>
<text x="505" y="226.2" font-size="8.2" text-anchor="middle" fill="#262626" font-family="Liberation Sans, sans-serif"  stroke="#262626" stroke-width="0.18">60</text>
<text x="513.2" y="258.9" font-size="8.2" text-anchor="middle" fill="#262626" font-family="Liberation Sans, sans-serif"  stroke="#262626" stroke-width="0.18">90</text>
<text x="508.6" y="293.2" font-size="8.2" text-anchor="middle" fill="#262626" font-family="Liberation Sans, sans-serif"  stroke="#262626" stroke-width="0.18">120</text>
<text x="486" y="313.6" font-size="8.2" text-anchor="middle" fill="#262626" font-family="Liberation Sans, sans-serif"  stroke="#262626" stroke-width="0.18">150</text>
<text x="451.2" y="321.7" font-size="8.2" text-anchor="middle" fill="#262626" font-family="Liberation Sans, sans-serif"  stroke="#262626" stroke-width="0.18">180</text>
<text x="417.7" y="313.6" font-size="8.2" text-anchor="middle" fill="#262626" font-family="Liberation Sans, sans-serif"  stroke="#262626" stroke-width="0.18">210</text>
<text x="393.4" y="293.2" font-size="8.2" text-anchor="middle" fill="#262626" font-family="Liberation Sans, sans-serif"  stroke="#262626" stroke-width="0.18">240</text>
<text x="386.4" y="258.9" font-size="8.2" text-anchor="middle" fill="#262626" font-family="Liberation Sans, sans-serif"  stroke="#262626" stroke-width="0.18">270</text>
<text x="394" y="226.2" font-size="8.2" text-anchor="middle" fill="#262626" font-family="Liberation Sans, sans-serif"  stroke="#262626" stroke-width="0.18">300</text>
<text x="415.8" y="204.7" font-size="8.2" text-anchor="middle" fill="#262626" font-family="Liberation Sans, sans-serif"  stroke="#262626" stroke-width="0.18">330</text>
</g>
<g id="panel-f">
<text x="4.6" y="349.7" font-size="11" text-anchor="start" fill="#111" font-family="Liberation Sans, sans-serif" stroke="#111" stroke-width="0.4">f</text>
<rect x="43.3" y="347.5" width="136.1" height="161.3" fill="#fff" stroke="#9a9a9a" stroke-width="0.8"/>
<clipPath id="clipF"><rect x="43.3" y="348.7" width="136.1" height="161.3"/></clipPath>
<g clip-path="url(#clipF)">
<path d="M57.41 504.43 L57.65 504.4 L57.88 504.37 L58.11 504.34 L58.35 504.31 L58.58 504.27 L58.81 504.24 L59.05 504.2 L59.28 504.17 L59.51 504.13 L59.75 504.09 L59.98 504.05 L60.22 504.01 L60.45 503.97 L60.68 503.93 L60.92 503.89 L61.15 503.84 L61.38 503.8 L61.62 503.75 L61.85 503.7 L62.08 503.65 L62.32 503.6 L62.55 503.55 L62.78 503.5 L63.02 503.44 L63.25 503.39 L63.49 503.33 L63.72 503.27 L63.95 503.21 L64.19 503.15 L64.42 503.09 L64.65 503.02 L64.89 502.96 L65.12 502.89 L65.35 502.82 L65.59 502.75 L65.82 502.68 L66.06 502.6 L66.29 502.53 L66.52 502.45 L66.76 502.37 L66.99 502.3 L67.22 502.22 L67.46 502.14 L67.69 502.05 L67.92 501.97 L68.16 501.89 L68.39 501.81 L68.62 501.72 L68.86 501.64 L69.09 501.56 L69.33 501.47 L69.56 501.39 L69.79 501.31 L70.03 501.23 L70.26 501.15 L70.49 501.07 L70.73 500.99 L70.96 500.92 L71.19 500.84 L71.43 500.78 L71.66 500.71 L71.9 500.65 L72.13 500.59 L72.36 500.53 L72.6 500.48 L72.83 500.43 L73.06 500.39 L73.3 500.35 L73.53 500.32 L73.76 500.29 L74 500.27 L74.23 500.25 L74.46 500.24 L74.7 500.24 L74.93 500.23 L75.17 500.24 L75.4 500.25 L75.63 500.26 L75.87 500.28 L76.1 500.3 L76.33 500.33 L76.57 500.36 L76.8 500.39 L77.03 500.43 L77.27 500.48 L77.5 500.52 L77.74 500.57 L77.97 500.62 L78.2 500.67 L78.44 500.72 L78.67 500.77 L78.9 500.83 L79.14 500.89 L79.37 500.94 L79.6 501 L79.84 501.06 L80.07 501.11 L80.3 501.17 L80.54 501.22 L80.77 501.28 L81.01 501.33 L81.24 501.39 L81.47 501.44 L81.71 501.49 L81.94 501.54 L82.17 501.58 L82.41 501.63 L82.64 501.67 L82.87 501.71 L83.11 501.76 L83.34 501.79 L83.58 501.83 L83.81 501.87 L84.04 501.9 L84.28 501.93 L84.51 501.96 L84.74 501.99 L84.98 502.01 L85.21 502.04 L85.44 502.06 L85.68 502.08 L85.91 502.1 L86.14 502.11 L86.38 502.13 L86.61 502.14 L86.85 502.15 L87.08 502.16 L87.31 502.17 L87.55 502.18 L87.78 502.19 L88.01 502.19 L88.25 502.19 L88.48 502.19 L88.71 502.2 L88.95 502.2 L89.18 502.19 L89.42 502.19 L89.65 502.19 L89.88 502.19 L90.12 502.18 L90.35 502.18 L90.58 502.17 L90.82 502.16 L91.05 502.16 L91.28 502.15 L91.52 502.14 L91.75 502.14 L91.98 502.13 L92.22 502.13 L92.45 502.12 L92.69 502.11 L92.92 502.11 L93.15 502.11 L93.39 502.1 L93.62 502.1 L93.85 502.1 L94.09 502.1 L94.32 502.1 L94.55 502.1 L94.79 502.1 L95.02 502.1 L95.26 502.11 L95.49 502.12 L95.72 502.12 L95.96 502.13 L96.19 502.15 L96.42 502.16 L96.66 502.17 L96.89 502.19 L97.12 502.21 L97.36 502.23 L97.59 502.25 L97.82 502.27 L98.06 502.3 L98.29 502.32 L98.53 502.35 L98.76 502.38 L98.99 502.41 L99.23 502.44 L99.46 502.47 L99.69 502.51 L99.93 502.54 L100.16 502.58 L100.39 502.61 L100.63 502.65 L100.86 502.69 L101.1 502.73 L101.33 502.77 L101.56 502.81 L101.8 502.85 L102.03 502.89 L102.26 502.94 L102.5 502.98 L102.73 503.02 L102.96 503.06 L103.2 503.11 L103.43 503.15 L103.66 503.19 L103.9 503.23 L104.13 503.28 L104.37 503.32 L104.6 503.36 L104.83 503.4 L105.07 503.44 L105.3 503.49 L105.53 503.53 L105.77 503.57 L106 503.61 L106.23 503.65 L106.47 503.69 L106.7 503.72 L106.94 503.76 L107.17 503.8 L107.4 503.84 L107.64 503.87 L107.87 503.91 L108.1 503.94 L108.34 503.98 L108.57 504.01 L108.8 504.05 L109.04 504.08 L109.27 504.11 L109.5 504.14 L109.74 504.18 L109.97 504.21 L110.21 504.24 L110.44 504.27 L110.67 504.29 L110.91 504.32 L111.14 504.35 L111.37 504.38 L111.61 504.41 L111.84 504.43 L112.07 504.46 L112.31 504.48 L112.54 504.51 L112.78 504.53 L113.01 504.56 L113.24 504.58 L113.48 504.6 L113.71 504.62 L113.94 504.65 L114.18 504.67 L114.41 504.69 L114.64 504.71 L114.88 504.73 L115.11 504.75 L115.34 504.77 L115.58 504.79 L115.81 504.81 L116.05 504.82 L116.28 504.84 L116.51 504.86 L116.75 504.88 L116.98 504.89 L117.21 504.91 L117.45 504.93 L117.68 504.94 L117.91 504.96 L118.15 504.97 L118.38 504.99 L118.62 505 L118.85 505.02 L119.08 505.03 L119.32 505.04 L119.55 505.06 L119.78 505.07 L120.02 505.08 L120.25 505.1 L120.48 505.11 L120.72 505.12 L120.95 505.13 L121.18 505.14 L121.42 505.16 L121.65 505.17 L121.89 505.18 L122.12 505.19 L122.35 505.2 L122.59 505.21 L122.82 505.22 L123.05 505.23 L123.29 505.24 L123.52 505.25 L123.75 505.26 L123.99 505.27 L124.22 505.28 L124.46 505.29 L124.69 505.3 L124.92 505.3 L125.16 505.31 L125.39 505.32 L125.62 505.33 L125.86 505.34 L126.09 505.35 L126.32 505.35 L126.56 505.36 L126.79 505.37 L127.02 505.38 L127.26 505.38 L127.49 505.39 L127.73 505.4 L127.96 505.4 L128.19 505.41 L128.43 505.42 L128.66 505.42 L128.89 505.43 L129.13 505.44 L129.36 505.44 L129.59 505.45 L129.83 505.46 L130.06 505.46 L130.3 505.47 L130.53 505.47 L130.76 505.48 L131 505.48 L131.23 505.49 L131.46 505.5 L131.7 505.5 L131.93 505.51 L132.16 505.51 L132.4 505.52 L132.63 505.52 L132.86 505.53 L133.1 505.53 L133.33 505.54 L133.57 505.54 L133.8 505.55 L134.03 505.55 L134.27 505.55 L134.5 505.56 L134.73 505.56 L134.97 505.57 L135.2 505.57 L135.43 505.58 L135.67 505.58 L135.9 505.58 L136.14 505.59 L136.37 505.59 L136.6 505.6 L136.84 505.6 L137.07 505.6 L137.3 505.61 L137.54 505.61 L137.77 505.61 L138 505.62 L138.24 505.62 L138.47 505.63 L138.7 505.63 L138.94 505.63 L139.17 505.64 L139.41 505.64 L139.64 505.64 L139.87 505.65 L140.11 505.65 L140.34 505.65 L140.57 505.65 L140.81 505.66 L141.04 505.66 L141.27 505.66 L141.51 505.67 L141.74 505.67 L141.98 505.67 L142.21 505.68 L142.44 505.68 L142.68 505.68 L142.91 505.68 L143.14 505.69 L143.38 505.69 L143.61 505.69 L143.84 505.69 L144.08 505.7 L144.31 505.7 L144.54 505.7 L144.78 505.7 L145.01 505.71 L145.25 505.71 L145.48 505.71 L145.71 505.71 L145.95 505.72 L146.18 505.72 L146.41 505.72 L146.65 505.72 L146.88 505.72 L147.11 505.73 L147.35 505.73 L147.58 505.73 L147.82 505.73 L148.05 505.74 L148.28 505.74 L148.52 505.74 L148.75 505.74 L148.98 505.74 L149.22 505.75 L149.45 505.75 L149.68 505.75 L149.92 505.75 L150.15 505.75 L150.38 505.75 L150.62 505.76 L150.85 505.76 L151.09 505.76 L151.32 505.76 L151.55 505.76 L151.79 505.77 L152.02 505.77 L152.25 505.77 L152.49 505.77 L152.72 505.77 L152.95 505.77 L153.19 505.78 L153.42 505.78 L153.66 505.78 L153.89 505.78 L154.12 505.78 L154.36 505.78 L154.59 505.78 L154.82 505.79 L155.06 505.79 L155.29 505.79 L155.52 505.79 L155.76 505.79 L155.99 505.79 L156.22 505.79 L156.46 505.8 L156.69 505.8 L156.93 505.8 L157.16 505.8 L157.39 505.8 L157.63 505.8 L157.86 505.8 L158.09 505.81 L158.33 505.81 L158.56 505.81 L158.79 505.81 L159.03 505.81 L159.26 505.81 L159.5 505.81 L159.73 505.81 L159.96 505.82 L160.2 505.82 L160.43 505.82 L160.66 505.82 L160.9 505.82 L161.13 505.82 L161.36 505.82 L161.6 505.82 L161.83 505.82 L162.06 505.83 L162.3 505.83 L162.53 505.83 L162.77 505.83 L163 505.83 L163.23 505.83 L163.47 505.83 L163.7 505.83 L163.93 505.83 L164.17 505.84 L164.4 505.84 L164.63 505.84 L164.87 505.84 L165.1 505.84 L165.34 505.84 L165.57 505.84 L165.8 505.84 L166.04 505.84 L166.27 505.84 L166.5 505.84 L166.74 505.85 L166.97 505.85 L167.2 505.85 L167.44 505.85 L167.67 505.85 L167.9 505.85 L168.14 505.85 L168.37 505.85 L168.61 505.85 L168.84 505.85 L169.07 505.85 L169.31 505.86 L169.54 505.86 L169.77 505.86 L170.01 505.86 L170.24 505.86 L170.47 505.86 L170.71 505.86 L170.94 505.86 L171.18 505.86 L171.41 505.86 L171.64 505.86 L171.88 505.86 L172.11 505.86 L172.34 505.87 L172.58 505.87 L172.81 505.87 L173.04 505.87 L173.28 505.87 L173.51 505.87 L173.74 505.87 L173.98 505.87 L174.21 505.87 L174.45 505.87 L174.68 505.87 L174.91 505.87 L175.15 505.87 L175.38 505.87 L175.61 505.88 L175.85 505.88 L176.08 505.88 L176.31 505.88 L176.55 505.88 L176.78 505.88 L177.02 505.88 L177.25 505.88" fill="none" stroke="#e84848" stroke-width="0.7" stroke-linejoin="round"/>
<path d="M65.59 498.47 L65.82 498.47 L66.06 498.46 L66.29 498.45 L66.52 498.45 L66.76 498.44 L66.99 498.43 L67.22 498.42 L67.46 498.42 L67.69 498.41 L67.92 498.4 L68.16 498.39 L68.39 498.38 L68.62 498.37 L68.86 498.37 L69.09 498.36 L69.33 498.35 L69.56 498.34 L69.79 498.33 L70.03 498.32 L70.26 498.31 L70.49 498.3 L70.73 498.29 L70.96 498.28 L71.19 498.27 L71.43 498.25 L71.66 498.24 L71.9 498.23 L72.13 498.22 L72.36 498.21 L72.6 498.19 L72.83 498.18 L73.06 498.17 L73.3 498.16 L73.53 498.14 L73.76 498.13 L74 498.11 L74.23 498.1 L74.46 498.09 L74.7 498.07 L74.93 498.06 L75.17 498.04 L75.4 498.02 L75.63 498.01 L75.87 497.99 L76.1 497.98 L76.33 497.96 L76.57 497.94 L76.8 497.93 L77.03 497.91 L77.27 497.89 L77.5 497.88 L77.74 497.86 L77.97 497.84 L78.2 497.82 L78.44 497.81 L78.67 497.79 L78.9 497.77 L79.14 497.76 L79.37 497.74 L79.6 497.72 L79.84 497.71 L80.07 497.69 L80.3 497.67 L80.54 497.66 L80.77 497.64 L81.01 497.63 L81.24 497.61 L81.47 497.6 L81.71 497.58 L81.94 497.57 L82.17 497.56 L82.41 497.55 L82.64 497.54 L82.87 497.52 L83.11 497.52 L83.34 497.51 L83.58 497.5 L83.81 497.49 L84.04 497.49 L84.28 497.48 L84.51 497.48 L84.74 497.47 L84.98 497.47 L85.21 497.47 L85.44 497.47 L85.68 497.47 L85.91 497.47 L86.14 497.47 L86.38 497.47 L86.61 497.48 L86.85 497.48 L87.08 497.49 L87.31 497.49 L87.55 497.5 L87.78 497.51 L88.01 497.51 L88.25 497.52 L88.48 497.53 L88.71 497.54 L88.95 497.55 L89.18 497.56 L89.42 497.57 L89.65 497.58 L89.88 497.59 L90.12 497.6 L90.35 497.62 L90.58 497.63 L90.82 497.64 L91.05 497.65 L91.28 497.66 L91.52 497.67 L91.75 497.68 L91.98 497.7 L92.22 497.71 L92.45 497.72 L92.69 497.73 L92.92 497.74 L93.15 497.75 L93.39 497.76 L93.62 497.77 L93.85 497.78 L94.09 497.79 L94.32 497.8 L94.55 497.81 L94.79 497.82 L95.02 497.83 L95.26 497.84 L95.49 497.84 L95.72 497.85 L95.96 497.86 L96.19 497.87 L96.42 497.87 L96.66 497.88 L96.89 497.89 L97.12 497.89 L97.36 497.9 L97.59 497.9 L97.82 497.91 L98.06 497.91 L98.29 497.92 L98.53 497.92 L98.76 497.92 L98.99 497.93 L99.23 497.93 L99.46 497.93 L99.69 497.93 L99.93 497.94 L100.16 497.94 L100.39 497.94 L100.63 497.94 L100.86 497.94 L101.1 497.94 L101.33 497.94 L101.56 497.94 L101.8 497.94 L102.03 497.94 L102.26 497.94 L102.5 497.94 L102.73 497.94 L102.96 497.94 L103.2 497.94 L103.43 497.93 L103.66 497.93 L103.9 497.93 L104.13 497.93 L104.37 497.92 L104.6 497.92 L104.83 497.92 L105.07 497.92 L105.3 497.91 L105.53 497.91 L105.77 497.91 L106 497.9 L106.23 497.9 L106.47 497.89 L106.7 497.89 L106.94 497.88 L107.17 497.88 L107.4 497.88 L107.64 497.87 L107.87 497.87 L108.1 497.86 L108.34 497.86 L108.57 497.85 L108.8 497.85 L109.04 497.84 L109.27 497.84 L109.5 497.83 L109.74 497.83 L109.97 497.82 L110.21 497.82 L110.44 497.82 L110.67 497.81 L110.91 497.81 L111.14 497.8 L111.37 497.8 L111.61 497.79 L111.84 497.79 L112.07 497.79 L112.31 497.78 L112.54 497.78 L112.78 497.78 L113.01 497.77 L113.24 497.77 L113.48 497.77 L113.71 497.76 L113.94 497.76 L114.18 497.76 L114.41 497.76 L114.64 497.76 L114.88 497.76 L115.11 497.76 L115.34 497.76 L115.58 497.75 L115.81 497.75 L116.05 497.76 L116.28 497.76 L116.51 497.76 L116.75 497.76 L116.98 497.76 L117.21 497.76 L117.45 497.76 L117.68 497.77 L117.91 497.77 L118.15 497.77 L118.38 497.78 L118.62 497.78 L118.85 497.78 L119.08 497.79 L119.32 497.79 L119.55 497.8 L119.78 497.8 L120.02 497.81 L120.25 497.82 L120.48 497.82 L120.72 497.83 L120.95 497.84 L121.18 497.84 L121.42 497.85 L121.65 497.86 L121.89 497.86 L122.12 497.87 L122.35 497.88 L122.59 497.89 L122.82 497.9 L123.05 497.9 L123.29 497.91 L123.52 497.92 L123.75 497.93 L123.99 497.94 L124.22 497.95 L124.46 497.96 L124.69 497.97 L124.92 497.98 L125.16 497.99 L125.39 498 L125.62 498 L125.86 498.01 L126.09 498.02 L126.32 498.03 L126.56 498.04 L126.79 498.05 L127.02 498.06 L127.26 498.07 L127.49 498.08 L127.73 498.09 L127.96 498.1 L128.19 498.11 L128.43 498.12 L128.66 498.13 L128.89 498.14 L129.13 498.15 L129.36 498.16 L129.59 498.16 L129.83 498.17 L130.06 498.18 L130.3 498.19 L130.53 498.2 L130.76 498.21 L131 498.22 L131.23 498.23 L131.46 498.24 L131.7 498.24 L131.93 498.25 L132.16 498.26 L132.4 498.27 L132.63 498.28 L132.86 498.28 L133.1 498.29 L133.33 498.3 L133.57 498.31 L133.8 498.31 L134.03 498.32 L134.27 498.33 L134.5 498.34 L134.73 498.34 L134.97 498.35 L135.2 498.36 L135.43 498.37 L135.67 498.37 L135.9 498.38 L136.14 498.39 L136.37 498.39 L136.6 498.4 L136.84 498.4 L137.07 498.41 L137.3 498.42 L137.54 498.42 L137.77 498.43 L138 498.43 L138.24 498.44 L138.47 498.45 L138.7 498.45 L138.94 498.46 L139.17 498.46 L139.41 498.47 L139.64 498.47 L139.87 498.48 L140.11 498.48 L140.34 498.49 L140.57 498.49 L140.81 498.5 L141.04 498.5 L141.27 498.51 L141.51 498.51 L141.74 498.52 L141.98 498.52 L142.21 498.53 L142.44 498.53 L142.68 498.54 L142.91 498.54 L143.14 498.54 L143.38 498.55 L143.61 498.55 L143.84 498.56 L144.08 498.56 L144.31 498.56 L144.54 498.57 L144.78 498.57 L145.01 498.58 L145.25 498.58 L145.48 498.58 L145.71 498.59 L145.95 498.59 L146.18 498.59 L146.41 498.6 L146.65 498.6 L146.88 498.6 L147.11 498.61 L147.35 498.61 L147.58 498.61 L147.82 498.62 L148.05 498.62 L148.28 498.62 L148.52 498.63 L148.75 498.63 L148.98 498.63 L149.22 498.63 L149.45 498.64 L149.68 498.64 L149.92 498.64 L150.15 498.64 L150.38 498.65 L150.62 498.65 L150.85 498.65 L151.09 498.66 L151.32 498.66 L151.55 498.66 L151.79 498.66 L152.02 498.66 L152.25 498.67 L152.49 498.67 L152.72 498.67 L152.95 498.67 L153.19 498.68 L153.42 498.68 L153.66 498.68 L153.89 498.68 L154.12 498.68 L154.36 498.69 L154.59 498.69 L154.82 498.69 L155.06 498.69 L155.29 498.69 L155.52 498.7 L155.76 498.7 L155.99 498.7 L156.22 498.7 L156.46 498.7 L156.69 498.71 L156.93 498.71 L157.16 498.71 L157.39 498.71 L157.63 498.71 L157.86 498.71 L158.09 498.72 L158.33 498.72 L158.56 498.72 L158.79 498.72 L159.03 498.72 L159.26 498.72 L159.5 498.73 L159.73 498.73 L159.96 498.73 L160.2 498.73 L160.43 498.73 L160.66 498.73 L160.9 498.74 L161.13 498.74 L161.36 498.74 L161.6 498.74 L161.83 498.74 L162.06 498.74 L162.3 498.74 L162.53 498.74 L162.77 498.75 L163 498.75 L163.23 498.75 L163.47 498.75 L163.7 498.75 L163.93 498.75 L164.17 498.75 L164.4 498.75 L164.63 498.76 L164.87 498.76 L165.1 498.76 L165.34 498.76 L165.57 498.76 L165.8 498.76 L166.04 498.76 L166.27 498.76 L166.5 498.76 L166.74 498.77 L166.97 498.77 L167.2 498.77 L167.44 498.77 L167.67 498.77 L167.9 498.77 L168.14 498.77 L168.37 498.77 L168.61 498.77 L168.84 498.77 L169.07 498.78 L169.31 498.78 L169.54 498.78 L169.77 498.78 L170.01 498.78 L170.24 498.78 L170.47 498.78 L170.71 498.78 L170.94 498.78 L171.18 498.78 L171.41 498.78 L171.64 498.79 L171.88 498.79 L172.11 498.79 L172.34 498.79 L172.58 498.79 L172.81 498.79 L173.04 498.79 L173.28 498.79 L173.51 498.79 L173.74 498.79 L173.98 498.79 L174.21 498.79 L174.45 498.79 L174.68 498.8 L174.91 498.8 L175.15 498.8 L175.38 498.8 L175.61 498.8 L175.85 498.8 L176.08 498.8 L176.31 498.8 L176.55 498.8 L176.78 498.8 L177.02 498.8 L177.25 498.8" fill="none" stroke="#50d8e0" stroke-width="0.7" stroke-linejoin="round"/>
<path d="M65.59 494.73 L65.82 494.73 L66.06 494.72 L66.29 494.72 L66.52 494.72 L66.76 494.71 L66.99 494.71 L67.22 494.7 L67.46 494.7 L67.69 494.7 L67.92 494.69 L68.16 494.69 L68.39 494.68 L68.62 494.68 L68.86 494.67 L69.09 494.67 L69.33 494.66 L69.56 494.66 L69.79 494.65 L70.03 494.65 L70.26 494.64 L70.49 494.64 L70.73 494.63 L70.96 494.63 L71.19 494.62 L71.43 494.62 L71.66 494.61 L71.9 494.6 L72.13 494.6 L72.36 494.59 L72.6 494.58 L72.83 494.58 L73.06 494.57 L73.3 494.56 L73.53 494.55 L73.76 494.55 L74 494.54 L74.23 494.53 L74.46 494.52 L74.7 494.51 L74.93 494.5 L75.17 494.49 L75.4 494.48 L75.63 494.47 L75.87 494.46 L76.1 494.45 L76.33 494.44 L76.57 494.43 L76.8 494.42 L77.03 494.41 L77.27 494.4 L77.5 494.38 L77.74 494.37 L77.97 494.36 L78.2 494.34 L78.44 494.33 L78.67 494.31 L78.9 494.3 L79.14 494.28 L79.37 494.26 L79.6 494.25 L79.84 494.23 L80.07 494.21 L80.3 494.19 L80.54 494.17 L80.77 494.15 L81.01 494.13 L81.24 494.1 L81.47 494.08 L81.71 494.06 L81.94 494.03 L82.17 494 L82.41 493.98 L82.64 493.95 L82.87 493.92 L83.11 493.89 L83.34 493.85 L83.58 493.82 L83.81 493.79 L84.04 493.75 L84.28 493.71 L84.51 493.67 L84.74 493.63 L84.98 493.59 L85.21 493.54 L85.44 493.49 L85.68 493.44 L85.91 493.39 L86.14 493.34 L86.38 493.28 L86.61 493.23 L86.85 493.17 L87.08 493.11 L87.31 493.04 L87.55 492.98 L87.78 492.91 L88.01 492.84 L88.25 492.76 L88.48 492.69 L88.71 492.61 L88.95 492.53 L89.18 492.45 L89.42 492.37 L89.65 492.29 L89.88 492.2 L90.12 492.12 L90.35 492.04 L90.58 491.96 L90.82 491.88 L91.05 491.8 L91.28 491.72 L91.52 491.65 L91.75 491.58 L91.98 491.52 L92.22 491.47 L92.45 491.42 L92.69 491.38 L92.92 491.34 L93.15 491.32 L93.39 491.3 L93.62 491.29 L93.85 491.29 L94.09 491.3 L94.32 491.32 L94.55 491.35 L94.79 491.38 L95.02 491.42 L95.26 491.47 L95.49 491.53 L95.72 491.58 L95.96 491.65 L96.19 491.72 L96.42 491.79 L96.66 491.86 L96.89 491.93 L97.12 492.01 L97.36 492.08 L97.59 492.16 L97.82 492.23 L98.06 492.31 L98.29 492.38 L98.53 492.45 L98.76 492.52 L98.99 492.59 L99.23 492.65 L99.46 492.71 L99.69 492.77 L99.93 492.83 L100.16 492.89 L100.39 492.94 L100.63 492.99 L100.86 493.04 L101.1 493.09 L101.33 493.13 L101.56 493.17 L101.8 493.21 L102.03 493.25 L102.26 493.29 L102.5 493.32 L102.73 493.35 L102.96 493.38 L103.2 493.41 L103.43 493.44 L103.66 493.47 L103.9 493.49 L104.13 493.51 L104.37 493.53 L104.6 493.55 L104.83 493.57 L105.07 493.59 L105.3 493.6 L105.53 493.62 L105.77 493.63 L106 493.64 L106.23 493.65 L106.47 493.66 L106.7 493.67 L106.94 493.68 L107.17 493.69 L107.4 493.69 L107.64 493.7 L107.87 493.71 L108.1 493.71 L108.34 493.71 L108.57 493.71 L108.8 493.72 L109.04 493.72 L109.27 493.72 L109.5 493.72 L109.74 493.72 L109.97 493.71 L110.21 493.71 L110.44 493.71 L110.67 493.71 L110.91 493.7 L111.14 493.7 L111.37 493.69 L111.61 493.69 L111.84 493.68 L112.07 493.67 L112.31 493.67 L112.54 493.66 L112.78 493.65 L113.01 493.64 L113.24 493.63 L113.48 493.62 L113.71 493.61 L113.94 493.6 L114.18 493.59 L114.41 493.58 L114.64 493.57 L114.88 493.56 L115.11 493.54 L115.34 493.53 L115.58 493.52 L115.81 493.51 L116.05 493.49 L116.28 493.48 L116.51 493.47 L116.75 493.45 L116.98 493.44 L117.21 493.42 L117.45 493.41 L117.68 493.39 L117.91 493.38 L118.15 493.36 L118.38 493.35 L118.62 493.34 L118.85 493.32 L119.08 493.31 L119.32 493.29 L119.55 493.28 L119.78 493.26 L120.02 493.25 L120.25 493.24 L120.48 493.22 L120.72 493.21 L120.95 493.2 L121.18 493.18 L121.42 493.17 L121.65 493.16 L121.89 493.15 L122.12 493.14 L122.35 493.13 L122.59 493.12 L122.82 493.11 L123.05 493.1 L123.29 493.1 L123.52 493.09 L123.75 493.08 L123.99 493.08 L124.22 493.08 L124.46 493.07 L124.69 493.07 L124.92 493.07 L125.16 493.07 L125.39 493.07 L125.62 493.07 L125.86 493.07 L126.09 493.07 L126.32 493.08 L126.56 493.08 L126.79 493.09 L127.02 493.09 L127.26 493.1 L127.49 493.11 L127.73 493.12 L127.96 493.13 L128.19 493.14 L128.43 493.15 L128.66 493.16 L128.89 493.17 L129.13 493.18 L129.36 493.2 L129.59 493.21 L129.83 493.23 L130.06 493.24 L130.3 493.26 L130.53 493.27 L130.76 493.29 L131 493.31 L131.23 493.33 L131.46 493.34 L131.7 493.36 L131.93 493.38 L132.16 493.4 L132.4 493.42 L132.63 493.44 L132.86 493.46 L133.1 493.48 L133.33 493.5 L133.57 493.52 L133.8 493.54 L134.03 493.56 L134.27 493.57 L134.5 493.59 L134.73 493.61 L134.97 493.63 L135.2 493.65 L135.43 493.67 L135.67 493.69 L135.9 493.71 L136.14 493.73 L136.37 493.75 L136.6 493.77 L136.84 493.79 L137.07 493.8 L137.3 493.82 L137.54 493.84 L137.77 493.86 L138 493.87 L138.24 493.89 L138.47 493.91 L138.7 493.93 L138.94 493.94 L139.17 493.96 L139.41 493.97 L139.64 493.99 L139.87 494.01 L140.11 494.02 L140.34 494.04 L140.57 494.05 L140.81 494.07 L141.04 494.08 L141.27 494.1 L141.51 494.11 L141.74 494.12 L141.98 494.14 L142.21 494.15 L142.44 494.16 L142.68 494.18 L142.91 494.19 L143.14 494.2 L143.38 494.21 L143.61 494.22 L143.84 494.24 L144.08 494.25 L144.31 494.26 L144.54 494.27 L144.78 494.28 L145.01 494.29 L145.25 494.3 L145.48 494.31 L145.71 494.32 L145.95 494.33 L146.18 494.34 L146.41 494.35 L146.65 494.36 L146.88 494.37 L147.11 494.38 L147.35 494.39 L147.58 494.4 L147.82 494.41 L148.05 494.41 L148.28 494.42 L148.52 494.43 L148.75 494.44 L148.98 494.45 L149.22 494.45 L149.45 494.46 L149.68 494.47 L149.92 494.48 L150.15 494.48 L150.38 494.49 L150.62 494.5 L150.85 494.5 L151.09 494.51 L151.32 494.52 L151.55 494.52 L151.79 494.53 L152.02 494.53 L152.25 494.54 L152.49 494.55 L152.72 494.55 L152.95 494.56 L153.19 494.56 L153.42 494.57 L153.66 494.57 L153.89 494.58 L154.12 494.59 L154.36 494.59 L154.59 494.6 L154.82 494.6 L155.06 494.61 L155.29 494.61 L155.52 494.62 L155.76 494.62 L155.99 494.62 L156.22 494.63 L156.46 494.63 L156.69 494.64 L156.93 494.64 L157.16 494.65 L157.39 494.65 L157.63 494.65 L157.86 494.66 L158.09 494.66 L158.33 494.67 L158.56 494.67 L158.79 494.67 L159.03 494.68 L159.26 494.68 L159.5 494.68 L159.73 494.69 L159.96 494.69 L160.2 494.69 L160.43 494.7 L160.66 494.7 L160.9 494.7 L161.13 494.71 L161.36 494.71 L161.6 494.71 L161.83 494.72 L162.06 494.72 L162.3 494.72 L162.53 494.73 L162.77 494.73 L163 494.73 L163.23 494.73 L163.47 494.74 L163.7 494.74 L163.93 494.74 L164.17 494.74 L164.4 494.75 L164.63 494.75 L164.87 494.75 L165.1 494.76 L165.34 494.76 L165.57 494.76 L165.8 494.76 L166.04 494.76 L166.27 494.77 L166.5 494.77 L166.74 494.77 L166.97 494.77 L167.2 494.78 L167.44 494.78 L167.67 494.78 L167.9 494.78 L168.14 494.78 L168.37 494.79 L168.61 494.79 L168.84 494.79 L169.07 494.79 L169.31 494.79 L169.54 494.8 L169.77 494.8 L170.01 494.8 L170.24 494.8 L170.47 494.8 L170.71 494.8 L170.94 494.81 L171.18 494.81 L171.41 494.81 L171.64 494.81 L171.88 494.81 L172.11 494.82 L172.34 494.82 L172.58 494.82 L172.81 494.82 L173.04 494.82 L173.28 494.82 L173.51 494.82 L173.74 494.83 L173.98 494.83 L174.21 494.83 L174.45 494.83 L174.68 494.83 L174.91 494.83 L175.15 494.83 L175.38 494.84 L175.61 494.84 L175.85 494.84 L176.08 494.84 L176.31 494.84 L176.55 494.84 L176.78 494.84 L177.02 494.84 L177.25 494.85" fill="none" stroke="#5a6ae8" stroke-width="0.7" stroke-linejoin="round"/>
<path d="M65.59 490.33 L65.82 490.33 L66.06 490.33 L66.29 490.33 L66.52 490.32 L66.76 490.32 L66.99 490.32 L67.22 490.32 L67.46 490.31 L67.69 490.31 L67.92 490.31 L68.16 490.31 L68.39 490.3 L68.62 490.3 L68.86 490.3 L69.09 490.3 L69.33 490.29 L69.56 490.29 L69.79 490.29 L70.03 490.29 L70.26 490.28 L70.49 490.28 L70.73 490.28 L70.96 490.27 L71.19 490.27 L71.43 490.27 L71.66 490.27 L71.9 490.26 L72.13 490.26 L72.36 490.26 L72.6 490.25 L72.83 490.25 L73.06 490.25 L73.3 490.24 L73.53 490.24 L73.76 490.24 L74 490.23 L74.23 490.23 L74.46 490.22 L74.7 490.22 L74.93 490.22 L75.17 490.21 L75.4 490.21 L75.63 490.21 L75.87 490.2 L76.1 490.2 L76.33 490.19 L76.57 490.19 L76.8 490.19 L77.03 490.18 L77.27 490.18 L77.5 490.17 L77.74 490.17 L77.97 490.16 L78.2 490.16 L78.44 490.15 L78.67 490.15 L78.9 490.14 L79.14 490.14 L79.37 490.13 L79.6 490.13 L79.84 490.12 L80.07 490.12 L80.3 490.11 L80.54 490.11 L80.77 490.1 L81.01 490.1 L81.24 490.09 L81.47 490.09 L81.71 490.08 L81.94 490.07 L82.17 490.07 L82.41 490.06 L82.64 490.06 L82.87 490.05 L83.11 490.04 L83.34 490.04 L83.58 490.03 L83.81 490.02 L84.04 490.02 L84.28 490.01 L84.51 490 L84.74 490 L84.98 489.99 L85.21 489.98 L85.44 489.97 L85.68 489.97 L85.91 489.96 L86.14 489.95 L86.38 489.94 L86.61 489.93 L86.85 489.93 L87.08 489.92 L87.31 489.91 L87.55 489.9 L87.78 489.89 L88.01 489.88 L88.25 489.87 L88.48 489.86 L88.71 489.85 L88.95 489.85 L89.18 489.84 L89.42 489.83 L89.65 489.82 L89.88 489.8 L90.12 489.79 L90.35 489.78 L90.58 489.77 L90.82 489.76 L91.05 489.75 L91.28 489.74 L91.52 489.73 L91.75 489.72 L91.98 489.7 L92.22 489.69 L92.45 489.68 L92.69 489.67 L92.92 489.65 L93.15 489.64 L93.39 489.63 L93.62 489.61 L93.85 489.6 L94.09 489.58 L94.32 489.57 L94.55 489.56 L94.79 489.54 L95.02 489.52 L95.26 489.51 L95.49 489.49 L95.72 489.48 L95.96 489.46 L96.19 489.44 L96.42 489.43 L96.66 489.41 L96.89 489.39 L97.12 489.38 L97.36 489.36 L97.59 489.34 L97.82 489.32 L98.06 489.3 L98.29 489.28 L98.53 489.26 L98.76 489.24 L98.99 489.22 L99.23 489.2 L99.46 489.18 L99.69 489.16 L99.93 489.13 L100.16 489.11 L100.39 489.09 L100.63 489.07 L100.86 489.04 L101.1 489.02 L101.33 488.99 L101.56 488.97 L101.8 488.94 L102.03 488.92 L102.26 488.89 L102.5 488.86 L102.73 488.84 L102.96 488.81 L103.2 488.78 L103.43 488.75 L103.66 488.72 L103.9 488.69 L104.13 488.66 L104.37 488.63 L104.6 488.6 L104.83 488.56 L105.07 488.53 L105.3 488.5 L105.53 488.46 L105.77 488.43 L106 488.39 L106.23 488.35 L106.47 488.32 L106.7 488.28 L106.94 488.24 L107.17 488.2 L107.4 488.16 L107.64 488.11 L107.87 488.07 L108.1 488.03 L108.34 487.98 L108.57 487.94 L108.8 487.89 L109.04 487.84 L109.27 487.79 L109.5 487.74 L109.74 487.69 L109.97 487.64 L110.21 487.59 L110.44 487.53 L110.67 487.48 L110.91 487.43 L111.14 487.37 L111.37 487.31 L111.61 487.26 L111.84 487.2 L112.07 487.15 L112.31 487.09 L112.54 487.04 L112.78 486.99 L113.01 486.94 L113.24 486.89 L113.48 486.84 L113.71 486.79 L113.94 486.75 L114.18 486.71 L114.41 486.68 L114.64 486.65 L114.88 486.62 L115.11 486.6 L115.34 486.58 L115.58 486.56 L115.81 486.55 L116.05 486.55 L116.28 486.55 L116.51 486.56 L116.75 486.57 L116.98 486.58 L117.21 486.6 L117.45 486.62 L117.68 486.64 L117.91 486.67 L118.15 486.7 L118.38 486.73 L118.62 486.76 L118.85 486.8 L119.08 486.83 L119.32 486.87 L119.55 486.91 L119.78 486.94 L120.02 486.98 L120.25 487.01 L120.48 487.04 L120.72 487.08 L120.95 487.11 L121.18 487.14 L121.42 487.16 L121.65 487.19 L121.89 487.21 L122.12 487.23 L122.35 487.25 L122.59 487.27 L122.82 487.29 L123.05 487.3 L123.29 487.31 L123.52 487.32 L123.75 487.32 L123.99 487.33 L124.22 487.33 L124.46 487.33 L124.69 487.32 L124.92 487.32 L125.16 487.31 L125.39 487.3 L125.62 487.29 L125.86 487.27 L126.09 487.26 L126.32 487.24 L126.56 487.22 L126.79 487.19 L127.02 487.17 L127.26 487.14 L127.49 487.11 L127.73 487.08 L127.96 487.05 L128.19 487.01 L128.43 486.97 L128.66 486.94 L128.89 486.9 L129.13 486.85 L129.36 486.81 L129.59 486.77 L129.83 486.72 L130.06 486.68 L130.3 486.63 L130.53 486.58 L130.76 486.54 L131 486.49 L131.23 486.44 L131.46 486.39 L131.7 486.35 L131.93 486.3 L132.16 486.26 L132.4 486.22 L132.63 486.18 L132.86 486.14 L133.1 486.1 L133.33 486.07 L133.57 486.04 L133.8 486.01 L134.03 485.99 L134.27 485.97 L134.5 485.96 L134.73 485.95 L134.97 485.94 L135.2 485.94 L135.43 485.94 L135.67 485.95 L135.9 485.96 L136.14 485.98 L136.37 486 L136.6 486.03 L136.84 486.06 L137.07 486.1 L137.3 486.14 L137.54 486.18 L137.77 486.23 L138 486.28 L138.24 486.33 L138.47 486.39 L138.7 486.45 L138.94 486.51 L139.17 486.57 L139.41 486.64 L139.64 486.71 L139.87 486.78 L140.11 486.85 L140.34 486.92 L140.57 486.99 L140.81 487.06 L141.04 487.13 L141.27 487.2 L141.51 487.27 L141.74 487.34 L141.98 487.41 L142.21 487.48 L142.44 487.55 L142.68 487.62 L142.91 487.68 L143.14 487.75 L143.38 487.81 L143.61 487.88 L143.84 487.94 L144.08 488 L144.31 488.06 L144.54 488.12 L144.78 488.17 L145.01 488.23 L145.25 488.28 L145.48 488.33 L145.71 488.38 L145.95 488.43 L146.18 488.48 L146.41 488.53 L146.65 488.58 L146.88 488.62 L147.11 488.67 L147.35 488.71 L147.58 488.75 L147.82 488.79 L148.05 488.83 L148.28 488.87 L148.52 488.9 L148.75 488.94 L148.98 488.97 L149.22 489.01 L149.45 489.04 L149.68 489.07 L149.92 489.1 L150.15 489.14 L150.38 489.16 L150.62 489.19 L150.85 489.22 L151.09 489.25 L151.32 489.27 L151.55 489.3 L151.79 489.33 L152.02 489.35 L152.25 489.37 L152.49 489.4 L152.72 489.42 L152.95 489.44 L153.19 489.46 L153.42 489.48 L153.66 489.5 L153.89 489.52 L154.12 489.54 L154.36 489.56 L154.59 489.58 L154.82 489.6 L155.06 489.61 L155.29 489.63 L155.52 489.65 L155.76 489.66 L155.99 489.68 L156.22 489.69 L156.46 489.71 L156.69 489.72 L156.93 489.74 L157.16 489.75 L157.39 489.76 L157.63 489.78 L157.86 489.79 L158.09 489.8 L158.33 489.82 L158.56 489.83 L158.79 489.84 L159.03 489.85 L159.26 489.86 L159.5 489.87 L159.73 489.88 L159.96 489.89 L160.2 489.9 L160.43 489.91 L160.66 489.92 L160.9 489.93 L161.13 489.94 L161.36 489.95 L161.6 489.96 L161.83 489.97 L162.06 489.98 L162.3 489.99 L162.53 489.99 L162.77 490 L163 490.01 L163.23 490.02 L163.47 490.03 L163.7 490.03 L163.93 490.04 L164.17 490.05 L164.4 490.06 L164.63 490.06 L164.87 490.07 L165.1 490.08 L165.34 490.08 L165.57 490.09 L165.8 490.09 L166.04 490.1 L166.27 490.11 L166.5 490.11 L166.74 490.12 L166.97 490.12 L167.2 490.13 L167.44 490.14 L167.67 490.14 L167.9 490.15 L168.14 490.15 L168.37 490.16 L168.61 490.16 L168.84 490.17 L169.07 490.17 L169.31 490.18 L169.54 490.18 L169.77 490.19 L170.01 490.19 L170.24 490.19 L170.47 490.2 L170.71 490.2 L170.94 490.21 L171.18 490.21 L171.41 490.22 L171.64 490.22 L171.88 490.22 L172.11 490.23 L172.34 490.23 L172.58 490.24 L172.81 490.24 L173.04 490.24 L173.28 490.25 L173.51 490.25 L173.74 490.25 L173.98 490.26 L174.21 490.26 L174.45 490.26 L174.68 490.27 L174.91 490.27 L175.15 490.27 L175.38 490.28 L175.61 490.28 L175.85 490.28 L176.08 490.29 L176.31 490.29 L176.55 490.29 L176.78 490.3 L177.02 490.3 L177.25 490.3" fill="none" stroke="#f0b860" stroke-width="0.7" stroke-linejoin="round"/>
<path d="M65.59 486.01 L65.82 486.01 L66.06 486.01 L66.29 486.01 L66.52 486 L66.76 486 L66.99 486 L67.22 486 L67.46 485.99 L67.69 485.99 L67.92 485.99 L68.16 485.99 L68.39 485.98 L68.62 485.98 L68.86 485.98 L69.09 485.98 L69.33 485.97 L69.56 485.97 L69.79 485.97 L70.03 485.97 L70.26 485.96 L70.49 485.96 L70.73 485.96 L70.96 485.95 L71.19 485.95 L71.43 485.95 L71.66 485.95 L71.9 485.94 L72.13 485.94 L72.36 485.94 L72.6 485.93 L72.83 485.93 L73.06 485.93 L73.3 485.92 L73.53 485.92 L73.76 485.92 L74 485.91 L74.23 485.91 L74.46 485.91 L74.7 485.9 L74.93 485.9 L75.17 485.9 L75.4 485.89 L75.63 485.89 L75.87 485.88 L76.1 485.88 L76.33 485.88 L76.57 485.87 L76.8 485.87 L77.03 485.87 L77.27 485.86 L77.5 485.86 L77.74 485.85 L77.97 485.85 L78.2 485.84 L78.44 485.84 L78.67 485.84 L78.9 485.83 L79.14 485.83 L79.37 485.82 L79.6 485.82 L79.84 485.81 L80.07 485.81 L80.3 485.8 L80.54 485.8 L80.77 485.79 L81.01 485.79 L81.24 485.78 L81.47 485.78 L81.71 485.77 L81.94 485.77 L82.17 485.76 L82.41 485.76 L82.64 485.75 L82.87 485.75 L83.11 485.74 L83.34 485.73 L83.58 485.73 L83.81 485.72 L84.04 485.72 L84.28 485.71 L84.51 485.7 L84.74 485.7 L84.98 485.69 L85.21 485.68 L85.44 485.68 L85.68 485.67 L85.91 485.66 L86.14 485.66 L86.38 485.65 L86.61 485.64 L86.85 485.64 L87.08 485.63 L87.31 485.62 L87.55 485.61 L87.78 485.61 L88.01 485.6 L88.25 485.59 L88.48 485.58 L88.71 485.57 L88.95 485.57 L89.18 485.56 L89.42 485.55 L89.65 485.54 L89.88 485.53 L90.12 485.52 L90.35 485.51 L90.58 485.5 L90.82 485.49 L91.05 485.48 L91.28 485.47 L91.52 485.46 L91.75 485.45 L91.98 485.44 L92.22 485.43 L92.45 485.42 L92.69 485.41 L92.92 485.4 L93.15 485.39 L93.39 485.38 L93.62 485.37 L93.85 485.36 L94.09 485.34 L94.32 485.33 L94.55 485.32 L94.79 485.31 L95.02 485.3 L95.26 485.28 L95.49 485.27 L95.72 485.26 L95.96 485.24 L96.19 485.23 L96.42 485.22 L96.66 485.2 L96.89 485.19 L97.12 485.17 L97.36 485.16 L97.59 485.14 L97.82 485.13 L98.06 485.11 L98.29 485.1 L98.53 485.08 L98.76 485.07 L98.99 485.05 L99.23 485.03 L99.46 485.02 L99.69 485 L99.93 484.98 L100.16 484.96 L100.39 484.95 L100.63 484.93 L100.86 484.91 L101.1 484.89 L101.33 484.87 L101.56 484.85 L101.8 484.83 L102.03 484.81 L102.26 484.79 L102.5 484.77 L102.73 484.75 L102.96 484.73 L103.2 484.71 L103.43 484.69 L103.66 484.67 L103.9 484.65 L104.13 484.62 L104.37 484.6 L104.6 484.58 L104.83 484.56 L105.07 484.53 L105.3 484.51 L105.53 484.49 L105.77 484.46 L106 484.44 L106.23 484.41 L106.47 484.39 L106.7 484.36 L106.94 484.34 L107.17 484.31 L107.4 484.29 L107.64 484.26 L107.87 484.24 L108.1 484.21 L108.34 484.18 L108.57 484.16 L108.8 484.13 L109.04 484.1 L109.27 484.07 L109.5 484.05 L109.74 484.02 L109.97 483.99 L110.21 483.96 L110.44 483.93 L110.67 483.9 L110.91 483.88 L111.14 483.85 L111.37 483.82 L111.61 483.79 L111.84 483.76 L112.07 483.73 L112.31 483.69 L112.54 483.66 L112.78 483.63 L113.01 483.6 L113.24 483.56 L113.48 483.53 L113.71 483.49 L113.94 483.46 L114.18 483.42 L114.41 483.38 L114.64 483.34 L114.88 483.3 L115.11 483.26 L115.34 483.22 L115.58 483.17 L115.81 483.12 L116.05 483.07 L116.28 483.02 L116.51 482.96 L116.75 482.9 L116.98 482.84 L117.21 482.77 L117.45 482.69 L117.68 482.61 L117.91 482.52 L118.15 482.43 L118.38 482.32 L118.62 482.21 L118.85 482.09 L119.08 481.96 L119.32 481.82 L119.55 481.66 L119.78 481.5 L120.02 481.32 L120.25 481.14 L120.48 480.95 L120.72 480.77 L120.95 480.58 L121.18 480.41 L121.42 480.25 L121.65 480.13 L121.89 480.03 L122.12 479.98 L122.35 479.98 L122.59 480.01 L122.82 480.09 L123.05 480.2 L123.29 480.34 L123.52 480.49 L123.75 480.66 L123.99 480.83 L124.22 481 L124.46 481.16 L124.69 481.32 L124.92 481.46 L125.16 481.59 L125.39 481.71 L125.62 481.82 L125.86 481.91 L126.09 482 L126.32 482.07 L126.56 482.14 L126.79 482.19 L127.02 482.24 L127.26 482.28 L127.49 482.31 L127.73 482.33 L127.96 482.35 L128.19 482.37 L128.43 482.37 L128.66 482.38 L128.89 482.37 L129.13 482.37 L129.36 482.35 L129.59 482.34 L129.83 482.32 L130.06 482.29 L130.3 482.26 L130.53 482.23 L130.76 482.19 L131 482.15 L131.23 482.1 L131.46 482.05 L131.7 482 L131.93 481.94 L132.16 481.88 L132.4 481.81 L132.63 481.74 L132.86 481.67 L133.1 481.59 L133.33 481.5 L133.57 481.42 L133.8 481.33 L134.03 481.23 L134.27 481.13 L134.5 481.03 L134.73 480.93 L134.97 480.82 L135.2 480.71 L135.43 480.59 L135.67 480.47 L135.9 480.35 L136.14 480.23 L136.37 480.11 L136.6 479.99 L136.84 479.86 L137.07 479.74 L137.3 479.62 L137.54 479.5 L137.77 479.38 L138 479.27 L138.24 479.16 L138.47 479.05 L138.7 478.96 L138.94 478.87 L139.17 478.78 L139.41 478.71 L139.64 478.65 L139.87 478.6 L140.11 478.56 L140.34 478.53 L140.57 478.52 L140.81 478.52 L141.04 478.53 L141.27 478.55 L141.51 478.59 L141.74 478.64 L141.98 478.7 L142.21 478.77 L142.44 478.85 L142.68 478.95 L142.91 479.05 L143.14 479.16 L143.38 479.28 L143.61 479.41 L143.84 479.54 L144.08 479.68 L144.31 479.82 L144.54 479.96 L144.78 480.11 L145.01 480.25 L145.25 480.4 L145.48 480.55 L145.71 480.7 L145.95 480.84 L146.18 480.99 L146.41 481.13 L146.65 481.27 L146.88 481.41 L147.11 481.54 L147.35 481.67 L147.58 481.8 L147.82 481.93 L148.05 482.05 L148.28 482.17 L148.52 482.29 L148.75 482.4 L148.98 482.51 L149.22 482.61 L149.45 482.71 L149.68 482.81 L149.92 482.91 L150.15 483 L150.38 483.09 L150.62 483.18 L150.85 483.26 L151.09 483.34 L151.32 483.42 L151.55 483.49 L151.79 483.56 L152.02 483.63 L152.25 483.7 L152.49 483.77 L152.72 483.83 L152.95 483.89 L153.19 483.95 L153.42 484.01 L153.66 484.06 L153.89 484.12 L154.12 484.17 L154.36 484.22 L154.59 484.26 L154.82 484.31 L155.06 484.36 L155.29 484.4 L155.52 484.44 L155.76 484.48 L155.99 484.52 L156.22 484.56 L156.46 484.6 L156.69 484.63 L156.93 484.67 L157.16 484.7 L157.39 484.73 L157.63 484.76 L157.86 484.8 L158.09 484.82 L158.33 484.85 L158.56 484.88 L158.79 484.91 L159.03 484.94 L159.26 484.96 L159.5 484.99 L159.73 485.01 L159.96 485.03 L160.2 485.06 L160.43 485.08 L160.66 485.1 L160.9 485.12 L161.13 485.14 L161.36 485.16 L161.6 485.18 L161.83 485.2 L162.06 485.22 L162.3 485.24 L162.53 485.25 L162.77 485.27 L163 485.29 L163.23 485.3 L163.47 485.32 L163.7 485.34 L163.93 485.35 L164.17 485.37 L164.4 485.38 L164.63 485.39 L164.87 485.41 L165.1 485.42 L165.34 485.43 L165.57 485.45 L165.8 485.46 L166.04 485.47 L166.27 485.48 L166.5 485.5 L166.74 485.51 L166.97 485.52 L167.2 485.53 L167.44 485.54 L167.67 485.55 L167.9 485.56 L168.14 485.57 L168.37 485.58 L168.61 485.59 L168.84 485.6 L169.07 485.61 L169.31 485.62 L169.54 485.63 L169.77 485.64 L170.01 485.64 L170.24 485.65 L170.47 485.66 L170.71 485.67 L170.94 485.68 L171.18 485.68 L171.41 485.69 L171.64 485.7 L171.88 485.71 L172.11 485.71 L172.34 485.72 L172.58 485.73 L172.81 485.73 L173.04 485.74 L173.28 485.75 L173.51 485.75 L173.74 485.76 L173.98 485.77 L174.21 485.77 L174.45 485.78 L174.68 485.78 L174.91 485.79 L175.15 485.79 L175.38 485.8 L175.61 485.81 L175.85 485.81 L176.08 485.82 L176.31 485.82 L176.55 485.83 L176.78 485.83 L177.02 485.84 L177.25 485.84" fill="none" stroke="#886050" stroke-width="0.7" stroke-linejoin="round"/>
<path d="M65.59 481.65 L65.82 481.65 L66.06 481.65 L66.29 481.65 L66.52 481.65 L66.76 481.64 L66.99 481.64 L67.22 481.64 L67.46 481.64 L67.69 481.64 L67.92 481.63 L68.16 481.63 L68.39 481.63 L68.62 481.63 L68.86 481.63 L69.09 481.62 L69.33 481.62 L69.56 481.62 L69.79 481.62 L70.03 481.62 L70.26 481.61 L70.49 481.61 L70.73 481.61 L70.96 481.61 L71.19 481.61 L71.43 481.6 L71.66 481.6 L71.9 481.6 L72.13 481.6 L72.36 481.59 L72.6 481.59 L72.83 481.59 L73.06 481.59 L73.3 481.58 L73.53 481.58 L73.76 481.58 L74 481.58 L74.23 481.57 L74.46 481.57 L74.7 481.57 L74.93 481.57 L75.17 481.56 L75.4 481.56 L75.63 481.56 L75.87 481.55 L76.1 481.55 L76.33 481.55 L76.57 481.55 L76.8 481.54 L77.03 481.54 L77.27 481.54 L77.5 481.53 L77.74 481.53 L77.97 481.53 L78.2 481.52 L78.44 481.52 L78.67 481.52 L78.9 481.51 L79.14 481.51 L79.37 481.51 L79.6 481.5 L79.84 481.5 L80.07 481.5 L80.3 481.49 L80.54 481.49 L80.77 481.49 L81.01 481.48 L81.24 481.48 L81.47 481.48 L81.71 481.47 L81.94 481.47 L82.17 481.46 L82.41 481.46 L82.64 481.46 L82.87 481.45 L83.11 481.45 L83.34 481.44 L83.58 481.44 L83.81 481.43 L84.04 481.43 L84.28 481.43 L84.51 481.42 L84.74 481.42 L84.98 481.41 L85.21 481.41 L85.44 481.4 L85.68 481.4 L85.91 481.39 L86.14 481.39 L86.38 481.38 L86.61 481.38 L86.85 481.37 L87.08 481.37 L87.31 481.36 L87.55 481.36 L87.78 481.35 L88.01 481.34 L88.25 481.34 L88.48 481.33 L88.71 481.33 L88.95 481.32 L89.18 481.32 L89.42 481.31 L89.65 481.3 L89.88 481.3 L90.12 481.29 L90.35 481.28 L90.58 481.28 L90.82 481.27 L91.05 481.26 L91.28 481.26 L91.52 481.25 L91.75 481.24 L91.98 481.24 L92.22 481.23 L92.45 481.22 L92.69 481.21 L92.92 481.21 L93.15 481.2 L93.39 481.19 L93.62 481.18 L93.85 481.17 L94.09 481.17 L94.32 481.16 L94.55 481.15 L94.79 481.14 L95.02 481.13 L95.26 481.12 L95.49 481.11 L95.72 481.1 L95.96 481.09 L96.19 481.09 L96.42 481.08 L96.66 481.07 L96.89 481.06 L97.12 481.05 L97.36 481.04 L97.59 481.03 L97.82 481.01 L98.06 481 L98.29 480.99 L98.53 480.98 L98.76 480.97 L98.99 480.96 L99.23 480.95 L99.46 480.94 L99.69 480.92 L99.93 480.91 L100.16 480.9 L100.39 480.89 L100.63 480.87 L100.86 480.86 L101.1 480.85 L101.33 480.83 L101.56 480.82 L101.8 480.81 L102.03 480.79 L102.26 480.78 L102.5 480.76 L102.73 480.75 L102.96 480.73 L103.2 480.72 L103.43 480.7 L103.66 480.69 L103.9 480.67 L104.13 480.65 L104.37 480.64 L104.6 480.62 L104.83 480.6 L105.07 480.58 L105.3 480.57 L105.53 480.55 L105.77 480.53 L106 480.51 L106.23 480.49 L106.47 480.47 L106.7 480.45 L106.94 480.43 L107.17 480.41 L107.4 480.39 L107.64 480.37 L107.87 480.35 L108.1 480.33 L108.34 480.31 L108.57 480.29 L108.8 480.27 L109.04 480.24 L109.27 480.22 L109.5 480.2 L109.74 480.17 L109.97 480.15 L110.21 480.13 L110.44 480.1 L110.67 480.08 L110.91 480.05 L111.14 480.03 L111.37 480 L111.61 479.98 L111.84 479.95 L112.07 479.92 L112.31 479.9 L112.54 479.87 L112.78 479.84 L113.01 479.81 L113.24 479.78 L113.48 479.76 L113.71 479.73 L113.94 479.7 L114.18 479.67 L114.41 479.64 L114.64 479.61 L114.88 479.58 L115.11 479.54 L115.34 479.51 L115.58 479.48 L115.81 479.45 L116.05 479.42 L116.28 479.38 L116.51 479.35 L116.75 479.31 L116.98 479.28 L117.21 479.24 L117.45 479.21 L117.68 479.17 L117.91 479.13 L118.15 479.09 L118.38 479.05 L118.62 479.01 L118.85 478.97 L119.08 478.92 L119.32 478.88 L119.55 478.83 L119.78 478.78 L120.02 478.73 L120.25 478.68 L120.48 478.63 L120.72 478.57 L120.95 478.51 L121.18 478.45 L121.42 478.38 L121.65 478.31 L121.89 478.23 L122.12 478.15 L122.35 478.06 L122.59 477.97 L122.82 477.87 L123.05 477.76 L123.29 477.64 L123.52 477.51 L123.75 477.37 L123.99 477.21 L124.22 477.05 L124.46 476.87 L124.69 476.68 L124.92 476.47 L125.16 476.25 L125.39 476.02 L125.62 475.78 L125.86 475.53 L126.09 475.28 L126.32 475.05 L126.56 474.83 L126.79 474.65 L127.02 474.5 L127.26 474.4 L127.49 474.36 L127.73 474.37 L127.96 474.44 L128.19 474.56 L128.43 474.72 L128.66 474.9 L128.89 475.11 L129.13 475.32 L129.36 475.53 L129.59 475.74 L129.83 475.94 L130.06 476.12 L130.3 476.3 L130.53 476.45 L130.76 476.59 L131 476.71 L131.23 476.82 L131.46 476.92 L131.7 477 L131.93 477.07 L132.16 477.13 L132.4 477.18 L132.63 477.22 L132.86 477.25 L133.1 477.27 L133.33 477.28 L133.57 477.28 L133.8 477.28 L134.03 477.27 L134.27 477.26 L134.5 477.23 L134.73 477.21 L134.97 477.17 L135.2 477.13 L135.43 477.08 L135.67 477.03 L135.9 476.97 L136.14 476.91 L136.37 476.84 L136.6 476.76 L136.84 476.68 L137.07 476.59 L137.3 476.5 L137.54 476.4 L137.77 476.3 L138 476.19 L138.24 476.07 L138.47 475.95 L138.7 475.82 L138.94 475.69 L139.17 475.55 L139.41 475.41 L139.64 475.26 L139.87 475.11 L140.11 474.95 L140.34 474.79 L140.57 474.63 L140.81 474.47 L141.04 474.31 L141.27 474.14 L141.51 473.98 L141.74 473.82 L141.98 473.66 L142.21 473.5 L142.44 473.35 L142.68 473.21 L142.91 473.08 L143.14 472.96 L143.38 472.85 L143.61 472.75 L143.84 472.67 L144.08 472.6 L144.31 472.55 L144.54 472.52 L144.78 472.51 L145.01 472.51 L145.25 472.53 L145.48 472.57 L145.71 472.63 L145.95 472.71 L146.18 472.8 L146.41 472.91 L146.65 473.03 L146.88 473.17 L147.11 473.32 L147.35 473.48 L147.58 473.65 L147.82 473.82 L148.05 474 L148.28 474.19 L148.52 474.38 L148.75 474.57 L148.98 474.77 L149.22 474.96 L149.45 475.15 L149.68 475.34 L149.92 475.53 L150.15 475.72 L150.38 475.9 L150.62 476.08 L150.85 476.25 L151.09 476.42 L151.32 476.59 L151.55 476.75 L151.79 476.91 L152.02 477.06 L152.25 477.2 L152.49 477.35 L152.72 477.48 L152.95 477.62 L153.19 477.74 L153.42 477.87 L153.66 477.99 L153.89 478.1 L154.12 478.21 L154.36 478.32 L154.59 478.42 L154.82 478.52 L155.06 478.61 L155.29 478.7 L155.52 478.79 L155.76 478.87 L155.99 478.96 L156.22 479.03 L156.46 479.11 L156.69 479.18 L156.93 479.25 L157.16 479.32 L157.39 479.39 L157.63 479.45 L157.86 479.51 L158.09 479.57 L158.33 479.62 L158.56 479.68 L158.79 479.73 L159.03 479.78 L159.26 479.83 L159.5 479.88 L159.73 479.92 L159.96 479.97 L160.2 480.01 L160.43 480.05 L160.66 480.09 L160.9 480.13 L161.13 480.17 L161.36 480.21 L161.6 480.24 L161.83 480.27 L162.06 480.31 L162.3 480.34 L162.53 480.37 L162.77 480.4 L163 480.43 L163.23 480.46 L163.47 480.49 L163.7 480.51 L163.93 480.54 L164.17 480.56 L164.4 480.59 L164.63 480.61 L164.87 480.64 L165.1 480.66 L165.34 480.68 L165.57 480.7 L165.8 480.72 L166.04 480.74 L166.27 480.76 L166.5 480.78 L166.74 480.8 L166.97 480.82 L167.2 480.84 L167.44 480.85 L167.67 480.87 L167.9 480.89 L168.14 480.9 L168.37 480.92 L168.61 480.93 L168.84 480.95 L169.07 480.96 L169.31 480.98 L169.54 480.99 L169.77 481 L170.01 481.02 L170.24 481.03 L170.47 481.04 L170.71 481.05 L170.94 481.07 L171.18 481.08 L171.41 481.09 L171.64 481.1 L171.88 481.11 L172.11 481.12 L172.34 481.13 L172.58 481.14 L172.81 481.15 L173.04 481.16 L173.28 481.17 L173.51 481.18 L173.74 481.19 L173.98 481.2 L174.21 481.21 L174.45 481.22 L174.68 481.23 L174.91 481.24 L175.15 481.25 L175.38 481.25 L175.61 481.26 L175.85 481.27 L176.08 481.28 L176.31 481.28 L176.55 481.29 L176.78 481.3 L177.02 481.31 L177.25 481.31" fill="none" stroke="#606068" stroke-width="0.7" stroke-linejoin="round"/>
<path d="M65.59 476.47 L65.82 476.46 L66.06 476.46 L66.29 476.46 L66.52 476.46 L66.76 476.46 L66.99 476.46 L67.22 476.45 L67.46 476.45 L67.69 476.45 L67.92 476.45 L68.16 476.45 L68.39 476.45 L68.62 476.44 L68.86 476.44 L69.09 476.44 L69.33 476.44 L69.56 476.44 L69.79 476.44 L70.03 476.43 L70.26 476.43 L70.49 476.43 L70.73 476.43 L70.96 476.43 L71.19 476.42 L71.43 476.42 L71.66 476.42 L71.9 476.42 L72.13 476.42 L72.36 476.41 L72.6 476.41 L72.83 476.41 L73.06 476.41 L73.3 476.41 L73.53 476.4 L73.76 476.4 L74 476.4 L74.23 476.4 L74.46 476.39 L74.7 476.39 L74.93 476.39 L75.17 476.39 L75.4 476.38 L75.63 476.38 L75.87 476.38 L76.1 476.38 L76.33 476.37 L76.57 476.37 L76.8 476.37 L77.03 476.37 L77.27 476.36 L77.5 476.36 L77.74 476.36 L77.97 476.36 L78.2 476.35 L78.44 476.35 L78.67 476.35 L78.9 476.35 L79.14 476.34 L79.37 476.34 L79.6 476.34 L79.84 476.33 L80.07 476.33 L80.3 476.33 L80.54 476.32 L80.77 476.32 L81.01 476.32 L81.24 476.32 L81.47 476.31 L81.71 476.31 L81.94 476.31 L82.17 476.3 L82.41 476.3 L82.64 476.3 L82.87 476.29 L83.11 476.29 L83.34 476.28 L83.58 476.28 L83.81 476.28 L84.04 476.27 L84.28 476.27 L84.51 476.27 L84.74 476.26 L84.98 476.26 L85.21 476.25 L85.44 476.25 L85.68 476.25 L85.91 476.24 L86.14 476.24 L86.38 476.23 L86.61 476.23 L86.85 476.23 L87.08 476.22 L87.31 476.22 L87.55 476.21 L87.78 476.21 L88.01 476.2 L88.25 476.2 L88.48 476.19 L88.71 476.19 L88.95 476.18 L89.18 476.18 L89.42 476.17 L89.65 476.17 L89.88 476.16 L90.12 476.16 L90.35 476.15 L90.58 476.15 L90.82 476.14 L91.05 476.14 L91.28 476.13 L91.52 476.13 L91.75 476.12 L91.98 476.11 L92.22 476.11 L92.45 476.1 L92.69 476.1 L92.92 476.09 L93.15 476.08 L93.39 476.08 L93.62 476.07 L93.85 476.06 L94.09 476.06 L94.32 476.05 L94.55 476.04 L94.79 476.04 L95.02 476.03 L95.26 476.02 L95.49 476.02 L95.72 476.01 L95.96 476 L96.19 475.99 L96.42 475.99 L96.66 475.98 L96.89 475.97 L97.12 475.96 L97.36 475.95 L97.59 475.95 L97.82 475.94 L98.06 475.93 L98.29 475.92 L98.53 475.91 L98.76 475.9 L98.99 475.89 L99.23 475.88 L99.46 475.87 L99.69 475.87 L99.93 475.86 L100.16 475.85 L100.39 475.84 L100.63 475.83 L100.86 475.82 L101.1 475.81 L101.33 475.79 L101.56 475.78 L101.8 475.77 L102.03 475.76 L102.26 475.75 L102.5 475.74 L102.73 475.73 L102.96 475.72 L103.2 475.7 L103.43 475.69 L103.66 475.68 L103.9 475.67 L104.13 475.65 L104.37 475.64 L104.6 475.63 L104.83 475.61 L105.07 475.6 L105.3 475.59 L105.53 475.57 L105.77 475.56 L106 475.54 L106.23 475.53 L106.47 475.51 L106.7 475.5 L106.94 475.48 L107.17 475.47 L107.4 475.45 L107.64 475.44 L107.87 475.42 L108.1 475.4 L108.34 475.39 L108.57 475.37 L108.8 475.35 L109.04 475.33 L109.27 475.31 L109.5 475.3 L109.74 475.28 L109.97 475.26 L110.21 475.24 L110.44 475.22 L110.67 475.2 L110.91 475.18 L111.14 475.16 L111.37 475.14 L111.61 475.12 L111.84 475.1 L112.07 475.08 L112.31 475.05 L112.54 475.03 L112.78 475.01 L113.01 474.99 L113.24 474.96 L113.48 474.94 L113.71 474.92 L113.94 474.89 L114.18 474.87 L114.41 474.84 L114.64 474.82 L114.88 474.79 L115.11 474.77 L115.34 474.74 L115.58 474.71 L115.81 474.69 L116.05 474.66 L116.28 474.63 L116.51 474.61 L116.75 474.58 L116.98 474.55 L117.21 474.52 L117.45 474.49 L117.68 474.47 L117.91 474.44 L118.15 474.41 L118.38 474.38 L118.62 474.35 L118.85 474.32 L119.08 474.29 L119.32 474.26 L119.55 474.23 L119.78 474.2 L120.02 474.17 L120.25 474.14 L120.48 474.11 L120.72 474.07 L120.95 474.04 L121.18 474.01 L121.42 473.98 L121.65 473.95 L121.89 473.92 L122.12 473.89 L122.35 473.86 L122.59 473.82 L122.82 473.79 L123.05 473.76 L123.29 473.73 L123.52 473.7 L123.75 473.67 L123.99 473.64 L124.22 473.61 L124.46 473.57 L124.69 473.54 L124.92 473.51 L125.16 473.48 L125.39 473.45 L125.62 473.42 L125.86 473.39 L126.09 473.36 L126.32 473.33 L126.56 473.3 L126.79 473.26 L127.02 473.23 L127.26 473.2 L127.49 473.17 L127.73 473.14 L127.96 473.11 L128.19 473.07 L128.43 473.04 L128.66 473.01 L128.89 472.97 L129.13 472.94 L129.36 472.9 L129.59 472.87 L129.83 472.83 L130.06 472.79 L130.3 472.75 L130.53 472.71 L130.76 472.67 L131 472.62 L131.23 472.57 L131.46 472.52 L131.7 472.47 L131.93 472.42 L132.16 472.36 L132.4 472.3 L132.63 472.23 L132.86 472.16 L133.1 472.09 L133.33 472.01 L133.57 471.92 L133.8 471.83 L134.03 471.73 L134.27 471.62 L134.5 471.51 L134.73 471.39 L134.97 471.26 L135.2 471.12 L135.43 470.96 L135.67 470.8 L135.9 470.63 L136.14 470.45 L136.37 470.25 L136.6 470.05 L136.84 469.84 L137.07 469.62 L137.3 469.4 L137.54 469.18 L137.77 468.96 L138 468.75 L138.24 468.55 L138.47 468.37 L138.7 468.22 L138.94 468.09 L139.17 468 L139.41 467.93 L139.64 467.9 L139.87 467.89 L140.11 467.91 L140.34 467.94 L140.57 467.99 L140.81 468.04 L141.04 468.1 L141.27 468.15 L141.51 468.2 L141.74 468.24 L141.98 468.26 L142.21 468.28 L142.44 468.28 L142.68 468.27 L142.91 468.25 L143.14 468.21 L143.38 468.17 L143.61 468.11 L143.84 468.05 L144.08 467.98 L144.31 467.91 L144.54 467.83 L144.78 467.76 L145.01 467.68 L145.25 467.61 L145.48 467.54 L145.71 467.48 L145.95 467.43 L146.18 467.39 L146.41 467.36 L146.65 467.35 L146.88 467.35 L147.11 467.37 L147.35 467.41 L147.58 467.46 L147.82 467.54 L148.05 467.63 L148.28 467.73 L148.52 467.85 L148.75 467.99 L148.98 468.14 L149.22 468.3 L149.45 468.47 L149.68 468.65 L149.92 468.84 L150.15 469.03 L150.38 469.23 L150.62 469.43 L150.85 469.63 L151.09 469.83 L151.32 470.03 L151.55 470.23 L151.79 470.43 L152.02 470.62 L152.25 470.81 L152.49 470.99 L152.72 471.17 L152.95 471.34 L153.19 471.51 L153.42 471.68 L153.66 471.84 L153.89 471.99 L154.12 472.14 L154.36 472.28 L154.59 472.42 L154.82 472.55 L155.06 472.68 L155.29 472.8 L155.52 472.92 L155.76 473.03 L155.99 473.14 L156.22 473.24 L156.46 473.34 L156.69 473.44 L156.93 473.53 L157.16 473.62 L157.39 473.7 L157.63 473.78 L157.86 473.86 L158.09 473.94 L158.33 474.01 L158.56 474.08 L158.79 474.15 L159.03 474.21 L159.26 474.28 L159.5 474.34 L159.73 474.39 L159.96 474.45 L160.2 474.5 L160.43 474.55 L160.66 474.6 L160.9 474.65 L161.13 474.7 L161.36 474.74 L161.6 474.79 L161.83 474.83 L162.06 474.87 L162.3 474.91 L162.53 474.95 L162.77 474.98 L163 475.02 L163.23 475.05 L163.47 475.09 L163.7 475.12 L163.93 475.15 L164.17 475.18 L164.4 475.21 L164.63 475.24 L164.87 475.26 L165.1 475.29 L165.34 475.32 L165.57 475.34 L165.8 475.37 L166.04 475.39 L166.27 475.41 L166.5 475.44 L166.74 475.46 L166.97 475.48 L167.2 475.5 L167.44 475.52 L167.67 475.54 L167.9 475.56 L168.14 475.58 L168.37 475.6 L168.61 475.61 L168.84 475.63 L169.07 475.65 L169.31 475.66 L169.54 475.68 L169.77 475.7 L170.01 475.71 L170.24 475.73 L170.47 475.74 L170.71 475.75 L170.94 475.77 L171.18 475.78 L171.41 475.79 L171.64 475.81 L171.88 475.82 L172.11 475.83 L172.34 475.84 L172.58 475.86 L172.81 475.87 L173.04 475.88 L173.28 475.89 L173.51 475.9 L173.74 475.91 L173.98 475.92 L174.21 475.93 L174.45 475.94 L174.68 475.95 L174.91 475.96 L175.15 475.97 L175.38 475.98 L175.61 475.99 L175.85 476 L176.08 476.01 L176.31 476.02 L176.55 476.02 L176.78 476.03 L177.02 476.04 L177.25 476.05" fill="none" stroke="#40b090" stroke-width="0.7" stroke-linejoin="round"/>
<path d="M65.59 472.08 L65.82 472.08 L66.06 472.08 L66.29 472.08 L66.52 472.08 L66.76 472.08 L66.99 472.07 L67.22 472.07 L67.46 472.07 L67.69 472.07 L67.92 472.07 L68.16 472.07 L68.39 472.07 L68.62 472.06 L68.86 472.06 L69.09 472.06 L69.33 472.06 L69.56 472.06 L69.79 472.06 L70.03 472.05 L70.26 472.05 L70.49 472.05 L70.73 472.05 L70.96 472.05 L71.19 472.05 L71.43 472.04 L71.66 472.04 L71.9 472.04 L72.13 472.04 L72.36 472.04 L72.6 472.04 L72.83 472.03 L73.06 472.03 L73.3 472.03 L73.53 472.03 L73.76 472.03 L74 472.02 L74.23 472.02 L74.46 472.02 L74.7 472.02 L74.93 472.02 L75.17 472.01 L75.4 472.01 L75.63 472.01 L75.87 472.01 L76.1 472.01 L76.33 472 L76.57 472 L76.8 472 L77.03 472 L77.27 472 L77.5 471.99 L77.74 471.99 L77.97 471.99 L78.2 471.99 L78.44 471.98 L78.67 471.98 L78.9 471.98 L79.14 471.98 L79.37 471.97 L79.6 471.97 L79.84 471.97 L80.07 471.97 L80.3 471.96 L80.54 471.96 L80.77 471.96 L81.01 471.96 L81.24 471.95 L81.47 471.95 L81.71 471.95 L81.94 471.95 L82.17 471.94 L82.41 471.94 L82.64 471.94 L82.87 471.93 L83.11 471.93 L83.34 471.93 L83.58 471.92 L83.81 471.92 L84.04 471.92 L84.28 471.92 L84.51 471.91 L84.74 471.91 L84.98 471.91 L85.21 471.9 L85.44 471.9 L85.68 471.9 L85.91 471.89 L86.14 471.89 L86.38 471.89 L86.61 471.88 L86.85 471.88 L87.08 471.88 L87.31 471.87 L87.55 471.87 L87.78 471.86 L88.01 471.86 L88.25 471.86 L88.48 471.85 L88.71 471.85 L88.95 471.84 L89.18 471.84 L89.42 471.84 L89.65 471.83 L89.88 471.83 L90.12 471.82 L90.35 471.82 L90.58 471.82 L90.82 471.81 L91.05 471.81 L91.28 471.8 L91.52 471.8 L91.75 471.79 L91.98 471.79 L92.22 471.78 L92.45 471.78 L92.69 471.77 L92.92 471.77 L93.15 471.76 L93.39 471.76 L93.62 471.75 L93.85 471.75 L94.09 471.74 L94.32 471.74 L94.55 471.73 L94.79 471.73 L95.02 471.72 L95.26 471.72 L95.49 471.71 L95.72 471.7 L95.96 471.7 L96.19 471.69 L96.42 471.69 L96.66 471.68 L96.89 471.67 L97.12 471.67 L97.36 471.66 L97.59 471.65 L97.82 471.65 L98.06 471.64 L98.29 471.63 L98.53 471.63 L98.76 471.62 L98.99 471.61 L99.23 471.61 L99.46 471.6 L99.69 471.59 L99.93 471.58 L100.16 471.58 L100.39 471.57 L100.63 471.56 L100.86 471.55 L101.1 471.54 L101.33 471.53 L101.56 471.53 L101.8 471.52 L102.03 471.51 L102.26 471.5 L102.5 471.49 L102.73 471.48 L102.96 471.47 L103.2 471.46 L103.43 471.45 L103.66 471.44 L103.9 471.44 L104.13 471.43 L104.37 471.42 L104.6 471.4 L104.83 471.39 L105.07 471.38 L105.3 471.37 L105.53 471.36 L105.77 471.35 L106 471.34 L106.23 471.33 L106.47 471.32 L106.7 471.31 L106.94 471.29 L107.17 471.28 L107.4 471.27 L107.64 471.26 L107.87 471.24 L108.1 471.23 L108.34 471.22 L108.57 471.2 L108.8 471.19 L109.04 471.18 L109.27 471.16 L109.5 471.15 L109.74 471.13 L109.97 471.12 L110.21 471.1 L110.44 471.09 L110.67 471.07 L110.91 471.06 L111.14 471.04 L111.37 471.02 L111.61 471.01 L111.84 470.99 L112.07 470.97 L112.31 470.96 L112.54 470.94 L112.78 470.92 L113.01 470.9 L113.24 470.88 L113.48 470.87 L113.71 470.85 L113.94 470.83 L114.18 470.81 L114.41 470.79 L114.64 470.77 L114.88 470.75 L115.11 470.72 L115.34 470.7 L115.58 470.68 L115.81 470.66 L116.05 470.64 L116.28 470.61 L116.51 470.59 L116.75 470.57 L116.98 470.54 L117.21 470.52 L117.45 470.5 L117.68 470.47 L117.91 470.45 L118.15 470.42 L118.38 470.39 L118.62 470.37 L118.85 470.34 L119.08 470.31 L119.32 470.29 L119.55 470.26 L119.78 470.23 L120.02 470.2 L120.25 470.17 L120.48 470.14 L120.72 470.11 L120.95 470.08 L121.18 470.05 L121.42 470.02 L121.65 469.99 L121.89 469.96 L122.12 469.93 L122.35 469.89 L122.59 469.86 L122.82 469.83 L123.05 469.79 L123.29 469.76 L123.52 469.73 L123.75 469.69 L123.99 469.66 L124.22 469.62 L124.46 469.59 L124.69 469.55 L124.92 469.51 L125.16 469.48 L125.39 469.44 L125.62 469.4 L125.86 469.37 L126.09 469.33 L126.32 469.29 L126.56 469.25 L126.79 469.21 L127.02 469.18 L127.26 469.14 L127.49 469.1 L127.73 469.06 L127.96 469.02 L128.19 468.98 L128.43 468.94 L128.66 468.9 L128.89 468.86 L129.13 468.82 L129.36 468.77 L129.59 468.73 L129.83 468.69 L130.06 468.65 L130.3 468.61 L130.53 468.56 L130.76 468.52 L131 468.47 L131.23 468.43 L131.46 468.38 L131.7 468.33 L131.93 468.29 L132.16 468.24 L132.4 468.19 L132.63 468.14 L132.86 468.08 L133.1 468.03 L133.33 467.97 L133.57 467.91 L133.8 467.85 L134.03 467.78 L134.27 467.71 L134.5 467.64 L134.73 467.56 L134.97 467.48 L135.2 467.4 L135.43 467.3 L135.67 467.2 L135.9 467.1 L136.14 466.98 L136.37 466.86 L136.6 466.72 L136.84 466.58 L137.07 466.42 L137.3 466.25 L137.54 466.06 L137.77 465.85 L138 465.63 L138.24 465.39 L138.47 465.14 L138.7 464.87 L138.94 464.58 L139.17 464.29 L139.41 463.99 L139.64 463.7 L139.87 463.42 L140.11 463.16 L140.34 462.94 L140.57 462.77 L140.81 462.65 L141.04 462.59 L141.27 462.59 L141.51 462.64 L141.74 462.74 L141.98 462.87 L142.21 463.02 L142.44 463.19 L142.68 463.35 L142.91 463.51 L143.14 463.65 L143.38 463.78 L143.61 463.88 L143.84 463.96 L144.08 464.02 L144.31 464.06 L144.54 464.07 L144.78 464.07 L145.01 464.04 L145.25 464 L145.48 463.94 L145.71 463.87 L145.95 463.79 L146.18 463.69 L146.41 463.6 L146.65 463.49 L146.88 463.39 L147.11 463.29 L147.35 463.19 L147.58 463.11 L147.82 463.03 L148.05 462.97 L148.28 462.93 L148.52 462.91 L148.75 462.91 L148.98 462.94 L149.22 462.99 L149.45 463.07 L149.68 463.17 L149.92 463.3 L150.15 463.45 L150.38 463.61 L150.62 463.8 L150.85 464 L151.09 464.21 L151.32 464.43 L151.55 464.66 L151.79 464.89 L152.02 465.13 L152.25 465.36 L152.49 465.59 L152.72 465.82 L152.95 466.05 L153.19 466.27 L153.42 466.48 L153.66 466.69 L153.89 466.89 L154.12 467.08 L154.36 467.26 L154.59 467.44 L154.82 467.61 L155.06 467.77 L155.29 467.92 L155.52 468.07 L155.76 468.21 L155.99 468.35 L156.22 468.48 L156.46 468.6 L156.69 468.71 L156.93 468.83 L157.16 468.93 L157.39 469.03 L157.63 469.13 L157.86 469.22 L158.09 469.31 L158.33 469.4 L158.56 469.48 L158.79 469.55 L159.03 469.63 L159.26 469.7 L159.5 469.77 L159.73 469.83 L159.96 469.89 L160.2 469.95 L160.43 470.01 L160.66 470.07 L160.9 470.12 L161.13 470.17 L161.36 470.22 L161.6 470.27 L161.83 470.31 L162.06 470.36 L162.3 470.4 L162.53 470.44 L162.77 470.48 L163 470.52 L163.23 470.55 L163.47 470.59 L163.7 470.62 L163.93 470.66 L164.17 470.69 L164.4 470.72 L164.63 470.75 L164.87 470.78 L165.1 470.81 L165.34 470.83 L165.57 470.86 L165.8 470.89 L166.04 470.91 L166.27 470.94 L166.5 470.96 L166.74 470.98 L166.97 471 L167.2 471.03 L167.44 471.05 L167.67 471.07 L167.9 471.09 L168.14 471.11 L168.37 471.13 L168.61 471.14 L168.84 471.16 L169.07 471.18 L169.31 471.2 L169.54 471.21 L169.77 471.23 L170.01 471.25 L170.24 471.26 L170.47 471.28 L170.71 471.29 L170.94 471.31 L171.18 471.32 L171.41 471.33 L171.64 471.35 L171.88 471.36 L172.11 471.37 L172.34 471.39 L172.58 471.4 L172.81 471.41 L173.04 471.42 L173.28 471.44 L173.51 471.45 L173.74 471.46 L173.98 471.47 L174.21 471.48 L174.45 471.49 L174.68 471.5 L174.91 471.51 L175.15 471.52 L175.38 471.53 L175.61 471.54 L175.85 471.55 L176.08 471.56 L176.31 471.57 L176.55 471.58 L176.78 471.58 L177.02 471.59 L177.25 471.6" fill="none" stroke="#555555" stroke-width="0.7" stroke-linejoin="round"/>
<path d="M65.59 468.77 L65.82 468.77 L66.06 468.77 L66.29 468.77 L66.52 468.76 L66.76 468.76 L66.99 468.76 L67.22 468.76 L67.46 468.76 L67.69 468.76 L67.92 468.76 L68.16 468.75 L68.39 468.75 L68.62 468.75 L68.86 468.75 L69.09 468.75 L69.33 468.75 L69.56 468.74 L69.79 468.74 L70.03 468.74 L70.26 468.74 L70.49 468.74 L70.73 468.74 L70.96 468.73 L71.19 468.73 L71.43 468.73 L71.66 468.73 L71.9 468.73 L72.13 468.72 L72.36 468.72 L72.6 468.72 L72.83 468.72 L73.06 468.72 L73.3 468.72 L73.53 468.71 L73.76 468.71 L74 468.71 L74.23 468.71 L74.46 468.71 L74.7 468.7 L74.93 468.7 L75.17 468.7 L75.4 468.7 L75.63 468.69 L75.87 468.69 L76.1 468.69 L76.33 468.69 L76.57 468.69 L76.8 468.68 L77.03 468.68 L77.27 468.68 L77.5 468.68 L77.74 468.67 L77.97 468.67 L78.2 468.67 L78.44 468.67 L78.67 468.66 L78.9 468.66 L79.14 468.66 L79.37 468.66 L79.6 468.65 L79.84 468.65 L80.07 468.65 L80.3 468.65 L80.54 468.64 L80.77 468.64 L81.01 468.64 L81.24 468.63 L81.47 468.63 L81.71 468.63 L81.94 468.63 L82.17 468.62 L82.41 468.62 L82.64 468.62 L82.87 468.61 L83.11 468.61 L83.34 468.61 L83.58 468.6 L83.81 468.6 L84.04 468.6 L84.28 468.59 L84.51 468.59 L84.74 468.59 L84.98 468.58 L85.21 468.58 L85.44 468.58 L85.68 468.57 L85.91 468.57 L86.14 468.57 L86.38 468.56 L86.61 468.56 L86.85 468.56 L87.08 468.55 L87.31 468.55 L87.55 468.54 L87.78 468.54 L88.01 468.54 L88.25 468.53 L88.48 468.53 L88.71 468.52 L88.95 468.52 L89.18 468.52 L89.42 468.51 L89.65 468.51 L89.88 468.5 L90.12 468.5 L90.35 468.49 L90.58 468.49 L90.82 468.48 L91.05 468.48 L91.28 468.48 L91.52 468.47 L91.75 468.47 L91.98 468.46 L92.22 468.46 L92.45 468.45 L92.69 468.45 L92.92 468.44 L93.15 468.43 L93.39 468.43 L93.62 468.42 L93.85 468.42 L94.09 468.41 L94.32 468.41 L94.55 468.4 L94.79 468.4 L95.02 468.39 L95.26 468.38 L95.49 468.38 L95.72 468.37 L95.96 468.37 L96.19 468.36 L96.42 468.35 L96.66 468.35 L96.89 468.34 L97.12 468.33 L97.36 468.33 L97.59 468.32 L97.82 468.31 L98.06 468.31 L98.29 468.3 L98.53 468.29 L98.76 468.28 L98.99 468.28 L99.23 468.27 L99.46 468.26 L99.69 468.25 L99.93 468.24 L100.16 468.24 L100.39 468.23 L100.63 468.22 L100.86 468.21 L101.1 468.2 L101.33 468.19 L101.56 468.19 L101.8 468.18 L102.03 468.17 L102.26 468.16 L102.5 468.15 L102.73 468.14 L102.96 468.13 L103.2 468.12 L103.43 468.11 L103.66 468.1 L103.9 468.09 L104.13 468.08 L104.37 468.07 L104.6 468.06 L104.83 468.05 L105.07 468.04 L105.3 468.02 L105.53 468.01 L105.77 468 L106 467.99 L106.23 467.98 L106.47 467.96 L106.7 467.95 L106.94 467.94 L107.17 467.93 L107.4 467.91 L107.64 467.9 L107.87 467.89 L108.1 467.87 L108.34 467.86 L108.57 467.85 L108.8 467.83 L109.04 467.82 L109.27 467.8 L109.5 467.79 L109.74 467.77 L109.97 467.76 L110.21 467.74 L110.44 467.72 L110.67 467.71 L110.91 467.69 L111.14 467.67 L111.37 467.66 L111.61 467.64 L111.84 467.62 L112.07 467.6 L112.31 467.58 L112.54 467.57 L112.78 467.55 L113.01 467.53 L113.24 467.51 L113.48 467.49 L113.71 467.47 L113.94 467.45 L114.18 467.43 L114.41 467.4 L114.64 467.38 L114.88 467.36 L115.11 467.34 L115.34 467.32 L115.58 467.29 L115.81 467.27 L116.05 467.25 L116.28 467.22 L116.51 467.2 L116.75 467.17 L116.98 467.15 L117.21 467.12 L117.45 467.09 L117.68 467.07 L117.91 467.04 L118.15 467.01 L118.38 466.98 L118.62 466.96 L118.85 466.93 L119.08 466.9 L119.32 466.87 L119.55 466.84 L119.78 466.81 L120.02 466.78 L120.25 466.75 L120.48 466.71 L120.72 466.68 L120.95 466.65 L121.18 466.62 L121.42 466.58 L121.65 466.55 L121.89 466.52 L122.12 466.48 L122.35 466.44 L122.59 466.41 L122.82 466.37 L123.05 466.34 L123.29 466.3 L123.52 466.26 L123.75 466.22 L123.99 466.19 L124.22 466.15 L124.46 466.11 L124.69 466.07 L124.92 466.03 L125.16 465.99 L125.39 465.95 L125.62 465.91 L125.86 465.86 L126.09 465.82 L126.32 465.78 L126.56 465.74 L126.79 465.69 L127.02 465.65 L127.26 465.61 L127.49 465.56 L127.73 465.52 L127.96 465.47 L128.19 465.42 L128.43 465.38 L128.66 465.33 L128.89 465.28 L129.13 465.24 L129.36 465.19 L129.59 465.14 L129.83 465.09 L130.06 465.04 L130.3 464.99 L130.53 464.94 L130.76 464.89 L131 464.83 L131.23 464.78 L131.46 464.73 L131.7 464.67 L131.93 464.61 L132.16 464.56 L132.4 464.5 L132.63 464.43 L132.86 464.37 L133.1 464.31 L133.33 464.24 L133.57 464.17 L133.8 464.1 L134.03 464.02 L134.27 463.94 L134.5 463.86 L134.73 463.78 L134.97 463.69 L135.2 463.59 L135.43 463.49 L135.67 463.39 L135.9 463.27 L136.14 463.15 L136.37 463.02 L136.6 462.89 L136.84 462.74 L137.07 462.58 L137.3 462.41 L137.54 462.22 L137.77 462.01 L138 461.79 L138.24 461.55 L138.47 461.28 L138.7 460.99 L138.94 460.67 L139.17 460.31 L139.41 459.92 L139.64 459.5 L139.87 459.03 L140.11 458.52 L140.34 457.98 L140.57 457.41 L140.81 456.82 L141.04 456.24 L141.27 455.68 L141.51 455.19 L141.74 454.78 L141.98 454.49 L142.21 454.34 L142.44 454.33 L142.68 454.44 L142.91 454.64 L143.14 454.91 L143.38 455.22 L143.61 455.54 L143.84 455.85 L144.08 456.15 L144.31 456.42 L144.54 456.67 L144.78 456.89 L145.01 457.09 L145.25 457.27 L145.48 457.42 L145.71 457.56 L145.95 457.68 L146.18 457.79 L146.41 457.88 L146.65 457.96 L146.88 458.03 L147.11 458.08 L147.35 458.13 L147.58 458.15 L147.82 458.17 L148.05 458.17 L148.28 458.17 L148.52 458.15 L148.75 458.13 L148.98 458.11 L149.22 458.1 L149.45 458.08 L149.68 458.09 L149.92 458.1 L150.15 458.14 L150.38 458.21 L150.62 458.3 L150.85 458.43 L151.09 458.59 L151.32 458.79 L151.55 459.01 L151.79 459.26 L152.02 459.54 L152.25 459.83 L152.49 460.14 L152.72 460.45 L152.95 460.77 L153.19 461.09 L153.42 461.4 L153.66 461.71 L153.89 462.01 L154.12 462.3 L154.36 462.58 L154.59 462.84 L154.82 463.1 L155.06 463.34 L155.29 463.57 L155.52 463.78 L155.76 463.99 L155.99 464.18 L156.22 464.36 L156.46 464.54 L156.69 464.7 L156.93 464.85 L157.16 465 L157.39 465.14 L157.63 465.27 L157.86 465.39 L158.09 465.51 L158.33 465.62 L158.56 465.72 L158.79 465.82 L159.03 465.92 L159.26 466.01 L159.5 466.09 L159.73 466.17 L159.96 466.25 L160.2 466.33 L160.43 466.4 L160.66 466.46 L160.9 466.53 L161.13 466.59 L161.36 466.65 L161.6 466.71 L161.83 466.76 L162.06 466.81 L162.3 466.86 L162.53 466.91 L162.77 466.96 L163 467 L163.23 467.05 L163.47 467.09 L163.7 467.13 L163.93 467.17 L164.17 467.2 L164.4 467.24 L164.63 467.28 L164.87 467.31 L165.1 467.34 L165.34 467.37 L165.57 467.4 L165.8 467.43 L166.04 467.46 L166.27 467.49 L166.5 467.52 L166.74 467.54 L166.97 467.57 L167.2 467.59 L167.44 467.62 L167.67 467.64 L167.9 467.66 L168.14 467.69 L168.37 467.71 L168.61 467.73 L168.84 467.75 L169.07 467.77 L169.31 467.79 L169.54 467.81 L169.77 467.83 L170.01 467.84 L170.24 467.86 L170.47 467.88 L170.71 467.89 L170.94 467.91 L171.18 467.93 L171.41 467.94 L171.64 467.96 L171.88 467.97 L172.11 467.99 L172.34 468 L172.58 468.01 L172.81 468.03 L173.04 468.04 L173.28 468.05 L173.51 468.07 L173.74 468.08 L173.98 468.09 L174.21 468.1 L174.45 468.12 L174.68 468.13 L174.91 468.14 L175.15 468.15 L175.38 468.16 L175.61 468.17 L175.85 468.18 L176.08 468.19 L176.31 468.2 L176.55 468.21 L176.78 468.22 L177.02 468.23 L177.25 468.24" fill="none" stroke="#9a7a40" stroke-width="0.7" stroke-linejoin="round"/>
<path d="M65.59 465.33 L65.82 465.33 L66.06 465.33 L66.29 465.33 L66.52 465.33 L66.76 465.32 L66.99 465.32 L67.22 465.32 L67.46 465.32 L67.69 465.32 L67.92 465.31 L68.16 465.31 L68.39 465.31 L68.62 465.31 L68.86 465.31 L69.09 465.3 L69.33 465.3 L69.56 465.3 L69.79 465.3 L70.03 465.3 L70.26 465.29 L70.49 465.29 L70.73 465.29 L70.96 465.29 L71.19 465.29 L71.43 465.28 L71.66 465.28 L71.9 465.28 L72.13 465.28 L72.36 465.27 L72.6 465.27 L72.83 465.27 L73.06 465.27 L73.3 465.27 L73.53 465.26 L73.76 465.26 L74 465.26 L74.23 465.26 L74.46 465.25 L74.7 465.25 L74.93 465.25 L75.17 465.25 L75.4 465.24 L75.63 465.24 L75.87 465.24 L76.1 465.23 L76.33 465.23 L76.57 465.23 L76.8 465.23 L77.03 465.22 L77.27 465.22 L77.5 465.22 L77.74 465.21 L77.97 465.21 L78.2 465.21 L78.44 465.21 L78.67 465.2 L78.9 465.2 L79.14 465.2 L79.37 465.19 L79.6 465.19 L79.84 465.19 L80.07 465.18 L80.3 465.18 L80.54 465.18 L80.77 465.17 L81.01 465.17 L81.24 465.17 L81.47 465.16 L81.71 465.16 L81.94 465.16 L82.17 465.15 L82.41 465.15 L82.64 465.14 L82.87 465.14 L83.11 465.14 L83.34 465.13 L83.58 465.13 L83.81 465.13 L84.04 465.12 L84.28 465.12 L84.51 465.11 L84.74 465.11 L84.98 465.1 L85.21 465.1 L85.44 465.1 L85.68 465.09 L85.91 465.09 L86.14 465.08 L86.38 465.08 L86.61 465.07 L86.85 465.07 L87.08 465.06 L87.31 465.06 L87.55 465.05 L87.78 465.05 L88.01 465.04 L88.25 465.04 L88.48 465.03 L88.71 465.03 L88.95 465.02 L89.18 465.02 L89.42 465.01 L89.65 465.01 L89.88 465 L90.12 465 L90.35 464.99 L90.58 464.98 L90.82 464.98 L91.05 464.97 L91.28 464.97 L91.52 464.96 L91.75 464.95 L91.98 464.95 L92.22 464.94 L92.45 464.93 L92.69 464.93 L92.92 464.92 L93.15 464.91 L93.39 464.91 L93.62 464.9 L93.85 464.89 L94.09 464.88 L94.32 464.88 L94.55 464.87 L94.79 464.86 L95.02 464.85 L95.26 464.85 L95.49 464.84 L95.72 464.83 L95.96 464.82 L96.19 464.81 L96.42 464.8 L96.66 464.79 L96.89 464.79 L97.12 464.78 L97.36 464.77 L97.59 464.76 L97.82 464.75 L98.06 464.74 L98.29 464.73 L98.53 464.72 L98.76 464.71 L98.99 464.7 L99.23 464.69 L99.46 464.68 L99.69 464.67 L99.93 464.66 L100.16 464.64 L100.39 464.63 L100.63 464.62 L100.86 464.61 L101.1 464.6 L101.33 464.58 L101.56 464.57 L101.8 464.56 L102.03 464.54 L102.26 464.53 L102.5 464.52 L102.73 464.5 L102.96 464.49 L103.2 464.47 L103.43 464.46 L103.66 464.44 L103.9 464.43 L104.13 464.41 L104.37 464.4 L104.6 464.38 L104.83 464.36 L105.07 464.34 L105.3 464.33 L105.53 464.31 L105.77 464.29 L106 464.27 L106.23 464.25 L106.47 464.23 L106.7 464.21 L106.94 464.19 L107.17 464.17 L107.4 464.15 L107.64 464.12 L107.87 464.1 L108.1 464.08 L108.34 464.05 L108.57 464.03 L108.8 464 L109.04 463.97 L109.27 463.94 L109.5 463.92 L109.74 463.89 L109.97 463.86 L110.21 463.83 L110.44 463.79 L110.67 463.76 L110.91 463.73 L111.14 463.69 L111.37 463.65 L111.61 463.61 L111.84 463.57 L112.07 463.53 L112.31 463.49 L112.54 463.45 L112.78 463.4 L113.01 463.35 L113.24 463.3 L113.48 463.25 L113.71 463.2 L113.94 463.14 L114.18 463.08 L114.41 463.02 L114.64 462.96 L114.88 462.89 L115.11 462.82 L115.34 462.75 L115.58 462.68 L115.81 462.6 L116.05 462.51 L116.28 462.43 L116.51 462.34 L116.75 462.25 L116.98 462.15 L117.21 462.05 L117.45 461.95 L117.68 461.84 L117.91 461.73 L118.15 461.62 L118.38 461.51 L118.62 461.4 L118.85 461.29 L119.08 461.18 L119.32 461.07 L119.55 460.97 L119.78 460.88 L120.02 460.79 L120.25 460.71 L120.48 460.64 L120.72 460.58 L120.95 460.53 L121.18 460.5 L121.42 460.47 L121.65 460.46 L121.89 460.46 L122.12 460.47 L122.35 460.49 L122.59 460.51 L122.82 460.54 L123.05 460.58 L123.29 460.62 L123.52 460.66 L123.75 460.7 L123.99 460.74 L124.22 460.78 L124.46 460.81 L124.69 460.85 L124.92 460.88 L125.16 460.91 L125.39 460.94 L125.62 460.96 L125.86 460.98 L126.09 461 L126.32 461.01 L126.56 461.02 L126.79 461.02 L127.02 461.03 L127.26 461.03 L127.49 461.02 L127.73 461.02 L127.96 461.01 L128.19 461 L128.43 460.99 L128.66 460.97 L128.89 460.96 L129.13 460.94 L129.36 460.92 L129.59 460.9 L129.83 460.87 L130.06 460.85 L130.3 460.82 L130.53 460.79 L130.76 460.76 L131 460.73 L131.23 460.69 L131.46 460.66 L131.7 460.62 L131.93 460.59 L132.16 460.55 L132.4 460.51 L132.63 460.46 L132.86 460.42 L133.1 460.37 L133.33 460.32 L133.57 460.27 L133.8 460.22 L134.03 460.16 L134.27 460.1 L134.5 460.04 L134.73 459.97 L134.97 459.9 L135.2 459.83 L135.43 459.75 L135.67 459.66 L135.9 459.57 L136.14 459.47 L136.37 459.36 L136.6 459.25 L136.84 459.13 L137.07 458.99 L137.3 458.84 L137.54 458.68 L137.77 458.51 L138 458.31 L138.24 458.1 L138.47 457.86 L138.7 457.59 L138.94 457.3 L139.17 456.96 L139.41 456.59 L139.64 456.17 L139.87 455.69 L140.11 455.14 L140.34 454.51 L140.57 453.79 L140.81 452.97 L141.04 452.03 L141.27 450.96 L141.51 449.76 L141.74 448.44 L141.98 447.06 L142.21 445.68 L142.44 444.42 L142.68 443.45 L142.91 442.9 L143.14 442.83 L143.38 443.24 L143.61 444.01 L143.84 444.99 L144.08 446.06 L144.31 447.12 L144.54 448.1 L144.78 449 L145.01 449.79 L145.25 450.49 L145.48 451.11 L145.71 451.67 L145.95 452.16 L146.18 452.61 L146.41 453.01 L146.65 453.38 L146.88 453.71 L147.11 454.01 L147.35 454.27 L147.58 454.5 L147.82 454.7 L148.05 454.86 L148.28 454.99 L148.52 455.09 L148.75 455.15 L148.98 455.18 L149.22 455.17 L149.45 455.13 L149.68 455.07 L149.92 454.97 L150.15 454.86 L150.38 454.73 L150.62 454.61 L150.85 454.49 L151.09 454.39 L151.32 454.32 L151.55 454.3 L151.79 454.34 L152.02 454.44 L152.25 454.61 L152.49 454.84 L152.72 455.13 L152.95 455.47 L153.19 455.85 L153.42 456.26 L153.66 456.67 L153.89 457.09 L154.12 457.51 L154.36 457.92 L154.59 458.31 L154.82 458.68 L155.06 459.03 L155.29 459.36 L155.52 459.67 L155.76 459.95 L155.99 460.22 L156.22 460.47 L156.46 460.7 L156.69 460.92 L156.93 461.11 L157.16 461.3 L157.39 461.47 L157.63 461.63 L157.86 461.78 L158.09 461.92 L158.33 462.05 L158.56 462.18 L158.79 462.29 L159.03 462.4 L159.26 462.5 L159.5 462.6 L159.73 462.69 L159.96 462.77 L160.2 462.86 L160.43 462.93 L160.66 463.01 L160.9 463.08 L161.13 463.14 L161.36 463.2 L161.6 463.26 L161.83 463.32 L162.06 463.38 L162.3 463.43 L162.53 463.48 L162.77 463.53 L163 463.57 L163.23 463.62 L163.47 463.66 L163.7 463.7 L163.93 463.74 L164.17 463.78 L164.4 463.81 L164.63 463.85 L164.87 463.88 L165.1 463.92 L165.34 463.95 L165.57 463.98 L165.8 464.01 L166.04 464.04 L166.27 464.06 L166.5 464.09 L166.74 464.12 L166.97 464.14 L167.2 464.17 L167.44 464.19 L167.67 464.21 L167.9 464.24 L168.14 464.26 L168.37 464.28 L168.61 464.3 L168.84 464.32 L169.07 464.34 L169.31 464.36 L169.54 464.38 L169.77 464.4 L170.01 464.41 L170.24 464.43 L170.47 464.45 L170.71 464.47 L170.94 464.48 L171.18 464.5 L171.41 464.51 L171.64 464.53 L171.88 464.54 L172.11 464.56 L172.34 464.57 L172.58 464.58 L172.81 464.6 L173.04 464.61 L173.28 464.62 L173.51 464.64 L173.74 464.65 L173.98 464.66 L174.21 464.67 L174.45 464.68 L174.68 464.7 L174.91 464.71 L175.15 464.72 L175.38 464.73 L175.61 464.74 L175.85 464.75 L176.08 464.76 L176.31 464.77 L176.55 464.78 L176.78 464.79 L177.02 464.8 L177.25 464.81" fill="none" stroke="#a050e0" stroke-width="0.7" stroke-linejoin="round"/>
<path d="M65.59 463.39 L65.82 463.38 L66.06 463.38 L66.29 463.38 L66.52 463.38 L66.76 463.37 L66.99 463.37 L67.22 463.37 L67.46 463.37 L67.69 463.37 L67.92 463.36 L68.16 463.36 L68.39 463.36 L68.62 463.36 L68.86 463.35 L69.09 463.35 L69.33 463.35 L69.56 463.35 L69.79 463.35 L70.03 463.34 L70.26 463.34 L70.49 463.34 L70.73 463.34 L70.96 463.33 L71.19 463.33 L71.43 463.33 L71.66 463.32 L71.9 463.32 L72.13 463.32 L72.36 463.32 L72.6 463.31 L72.83 463.31 L73.06 463.31 L73.3 463.31 L73.53 463.3 L73.76 463.3 L74 463.3 L74.23 463.29 L74.46 463.29 L74.7 463.29 L74.93 463.29 L75.17 463.28 L75.4 463.28 L75.63 463.28 L75.87 463.27 L76.1 463.27 L76.33 463.27 L76.57 463.26 L76.8 463.26 L77.03 463.26 L77.27 463.25 L77.5 463.25 L77.74 463.25 L77.97 463.24 L78.2 463.24 L78.44 463.24 L78.67 463.23 L78.9 463.23 L79.14 463.22 L79.37 463.22 L79.6 463.22 L79.84 463.21 L80.07 463.21 L80.3 463.2 L80.54 463.2 L80.77 463.2 L81.01 463.19 L81.24 463.19 L81.47 463.18 L81.71 463.18 L81.94 463.18 L82.17 463.17 L82.41 463.17 L82.64 463.16 L82.87 463.16 L83.11 463.15 L83.34 463.15 L83.58 463.14 L83.81 463.14 L84.04 463.13 L84.28 463.13 L84.51 463.12 L84.74 463.12 L84.98 463.11 L85.21 463.11 L85.44 463.1 L85.68 463.1 L85.91 463.09 L86.14 463.09 L86.38 463.08 L86.61 463.08 L86.85 463.07 L87.08 463.06 L87.31 463.06 L87.55 463.05 L87.78 463.05 L88.01 463.04 L88.25 463.03 L88.48 463.03 L88.71 463.02 L88.95 463.02 L89.18 463.01 L89.42 463 L89.65 463 L89.88 462.99 L90.12 462.98 L90.35 462.98 L90.58 462.97 L90.82 462.96 L91.05 462.95 L91.28 462.95 L91.52 462.94 L91.75 462.93 L91.98 462.92 L92.22 462.92 L92.45 462.91 L92.69 462.9 L92.92 462.89 L93.15 462.88 L93.39 462.87 L93.62 462.87 L93.85 462.86 L94.09 462.85 L94.32 462.84 L94.55 462.83 L94.79 462.82 L95.02 462.81 L95.26 462.8 L95.49 462.79 L95.72 462.78 L95.96 462.77 L96.19 462.76 L96.42 462.75 L96.66 462.74 L96.89 462.73 L97.12 462.72 L97.36 462.71 L97.59 462.69 L97.82 462.68 L98.06 462.67 L98.29 462.66 L98.53 462.65 L98.76 462.63 L98.99 462.62 L99.23 462.61 L99.46 462.59 L99.69 462.58 L99.93 462.57 L100.16 462.55 L100.39 462.54 L100.63 462.52 L100.86 462.51 L101.1 462.49 L101.33 462.48 L101.56 462.46 L101.8 462.45 L102.03 462.43 L102.26 462.41 L102.5 462.39 L102.73 462.38 L102.96 462.36 L103.2 462.34 L103.43 462.32 L103.66 462.3 L103.9 462.28 L104.13 462.26 L104.37 462.24 L104.6 462.22 L104.83 462.2 L105.07 462.18 L105.3 462.15 L105.53 462.13 L105.77 462.11 L106 462.08 L106.23 462.06 L106.47 462.03 L106.7 462 L106.94 461.97 L107.17 461.95 L107.4 461.92 L107.64 461.89 L107.87 461.86 L108.1 461.82 L108.34 461.79 L108.57 461.76 L108.8 461.72 L109.04 461.69 L109.27 461.65 L109.5 461.61 L109.74 461.57 L109.97 461.53 L110.21 461.49 L110.44 461.44 L110.67 461.4 L110.91 461.35 L111.14 461.3 L111.37 461.25 L111.61 461.19 L111.84 461.14 L112.07 461.08 L112.31 461.02 L112.54 460.95 L112.78 460.89 L113.01 460.82 L113.24 460.74 L113.48 460.66 L113.71 460.58 L113.94 460.5 L114.18 460.41 L114.41 460.31 L114.64 460.21 L114.88 460.1 L115.11 459.99 L115.34 459.87 L115.58 459.74 L115.81 459.61 L116.05 459.46 L116.28 459.31 L116.51 459.15 L116.75 458.98 L116.98 458.79 L117.21 458.6 L117.45 458.39 L117.68 458.17 L117.91 457.94 L118.15 457.7 L118.38 457.45 L118.62 457.19 L118.85 456.92 L119.08 456.65 L119.32 456.37 L119.55 456.1 L119.78 455.83 L120.02 455.58 L120.25 455.34 L120.48 455.13 L120.72 454.96 L120.95 454.82 L121.18 454.72 L121.42 454.67 L121.65 454.66 L121.89 454.7 L122.12 454.77 L122.35 454.88 L122.59 455.02 L122.82 455.18 L123.05 455.36 L123.29 455.55 L123.52 455.74 L123.75 455.94 L123.99 456.13 L124.22 456.31 L124.46 456.48 L124.69 456.65 L124.92 456.8 L125.16 456.94 L125.39 457.07 L125.62 457.19 L125.86 457.3 L126.09 457.4 L126.32 457.48 L126.56 457.56 L126.79 457.63 L127.02 457.68 L127.26 457.73 L127.49 457.78 L127.73 457.81 L127.96 457.84 L128.19 457.87 L128.43 457.89 L128.66 457.9 L128.89 457.91 L129.13 457.91 L129.36 457.91 L129.59 457.91 L129.83 457.9 L130.06 457.89 L130.3 457.88 L130.53 457.86 L130.76 457.85 L131 457.82 L131.23 457.8 L131.46 457.77 L131.7 457.74 L131.93 457.71 L132.16 457.68 L132.4 457.64 L132.63 457.6 L132.86 457.56 L133.1 457.52 L133.33 457.47 L133.57 457.42 L133.8 457.37 L134.03 457.31 L134.27 457.25 L134.5 457.19 L134.73 457.12 L134.97 457.05 L135.2 456.98 L135.43 456.9 L135.67 456.81 L135.9 456.72 L136.14 456.62 L136.37 456.52 L136.6 456.4 L136.84 456.28 L137.07 456.15 L137.3 456 L137.54 455.85 L137.77 455.68 L138 455.49 L138.24 455.29 L138.47 455.07 L138.7 454.83 L138.94 454.56 L139.17 454.26 L139.41 453.94 L139.64 453.57 L139.87 453.16 L140.11 452.7 L140.34 452.19 L140.57 451.6 L140.81 450.93 L141.04 450.16 L141.27 449.26 L141.51 448.23 L141.74 447.02 L141.98 445.6 L142.21 443.93 L142.44 441.99 L142.68 439.78 L142.91 437.34 L143.14 434.83 L143.38 432.53 L143.61 430.83 L143.84 430.09 L144.08 430.47 L144.31 431.83 L144.54 433.8 L144.78 436.01 L145.01 438.16 L145.25 440.13 L145.48 441.85 L145.71 443.34 L145.95 444.62 L146.18 445.71 L146.41 446.67 L146.65 447.5 L146.88 448.22 L147.11 448.87 L147.35 449.43 L147.58 449.93 L147.82 450.37 L148.05 450.76 L148.28 451.09 L148.52 451.37 L148.75 451.59 L148.98 451.77 L149.22 451.9 L149.45 451.98 L149.68 452.02 L149.92 452 L150.15 451.94 L150.38 451.84 L150.62 451.71 L150.85 451.55 L151.09 451.36 L151.32 451.18 L151.55 451.01 L151.79 450.87 L152.02 450.78 L152.25 450.76 L152.49 450.82 L152.72 450.98 L152.95 451.22 L153.19 451.56 L153.42 451.97 L153.66 452.43 L153.89 452.93 L154.12 453.45 L154.36 453.97 L154.59 454.49 L154.82 454.99 L155.06 455.46 L155.29 455.91 L155.52 456.33 L155.76 456.72 L155.99 457.08 L156.22 457.42 L156.46 457.72 L156.69 458.01 L156.93 458.27 L157.16 458.51 L157.39 458.74 L157.63 458.95 L157.86 459.14 L158.09 459.32 L158.33 459.48 L158.56 459.64 L158.79 459.78 L159.03 459.92 L159.26 460.04 L159.5 460.16 L159.73 460.27 L159.96 460.38 L160.2 460.48 L160.43 460.57 L160.66 460.66 L160.9 460.74 L161.13 460.82 L161.36 460.9 L161.6 460.97 L161.83 461.04 L162.06 461.1 L162.3 461.16 L162.53 461.22 L162.77 461.28 L163 461.34 L163.23 461.39 L163.47 461.44 L163.7 461.49 L163.93 461.53 L164.17 461.58 L164.4 461.62 L164.63 461.66 L164.87 461.7 L165.1 461.74 L165.34 461.78 L165.57 461.81 L165.8 461.85 L166.04 461.88 L166.27 461.91 L166.5 461.95 L166.74 461.98 L166.97 462.01 L167.2 462.03 L167.44 462.06 L167.67 462.09 L167.9 462.12 L168.14 462.14 L168.37 462.17 L168.61 462.19 L168.84 462.21 L169.07 462.24 L169.31 462.26 L169.54 462.28 L169.77 462.3 L170.01 462.32 L170.24 462.34 L170.47 462.36 L170.71 462.38 L170.94 462.4 L171.18 462.42 L171.41 462.44 L171.64 462.45 L171.88 462.47 L172.11 462.49 L172.34 462.5 L172.58 462.52 L172.81 462.54 L173.04 462.55 L173.28 462.57 L173.51 462.58 L173.74 462.6 L173.98 462.61 L174.21 462.62 L174.45 462.64 L174.68 462.65 L174.91 462.66 L175.15 462.68 L175.38 462.69 L175.61 462.7 L175.85 462.71 L176.08 462.72 L176.31 462.74 L176.55 462.75 L176.78 462.76 L177.02 462.77 L177.25 462.78" fill="none" stroke="#707890" stroke-width="0.7" stroke-linejoin="round"/>
<path d="M65.59 459.29 L65.82 459.28 L66.06 459.28 L66.29 459.27 L66.52 459.26 L66.76 459.25 L66.99 459.24 L67.22 459.24 L67.46 459.23 L67.69 459.22 L67.92 459.21 L68.16 459.2 L68.39 459.2 L68.62 459.19 L68.86 459.18 L69.09 459.17 L69.33 459.16 L69.56 459.15 L69.79 459.14 L70.03 459.14 L70.26 459.13 L70.49 459.12 L70.73 459.11 L70.96 459.1 L71.19 459.09 L71.43 459.08 L71.66 459.07 L71.9 459.06 L72.13 459.05 L72.36 459.04 L72.6 459.03 L72.83 459.02 L73.06 459.01 L73.3 459 L73.53 458.99 L73.76 458.97 L74 458.96 L74.23 458.95 L74.46 458.94 L74.7 458.93 L74.93 458.92 L75.17 458.91 L75.4 458.89 L75.63 458.88 L75.87 458.87 L76.1 458.86 L76.33 458.84 L76.57 458.83 L76.8 458.82 L77.03 458.8 L77.27 458.79 L77.5 458.78 L77.74 458.76 L77.97 458.75 L78.2 458.74 L78.44 458.72 L78.67 458.71 L78.9 458.69 L79.14 458.68 L79.37 458.66 L79.6 458.65 L79.84 458.63 L80.07 458.61 L80.3 458.6 L80.54 458.58 L80.77 458.57 L81.01 458.55 L81.24 458.53 L81.47 458.51 L81.71 458.5 L81.94 458.48 L82.17 458.46 L82.41 458.44 L82.64 458.42 L82.87 458.41 L83.11 458.39 L83.34 458.37 L83.58 458.35 L83.81 458.33 L84.04 458.31 L84.28 458.29 L84.51 458.27 L84.74 458.24 L84.98 458.22 L85.21 458.2 L85.44 458.18 L85.68 458.16 L85.91 458.13 L86.14 458.11 L86.38 458.09 L86.61 458.06 L86.85 458.04 L87.08 458.02 L87.31 457.99 L87.55 457.97 L87.78 457.94 L88.01 457.91 L88.25 457.89 L88.48 457.86 L88.71 457.83 L88.95 457.81 L89.18 457.78 L89.42 457.75 L89.65 457.72 L89.88 457.69 L90.12 457.66 L90.35 457.63 L90.58 457.6 L90.82 457.57 L91.05 457.54 L91.28 457.5 L91.52 457.47 L91.75 457.44 L91.98 457.4 L92.22 457.37 L92.45 457.33 L92.69 457.3 L92.92 457.26 L93.15 457.22 L93.39 457.18 L93.62 457.15 L93.85 457.11 L94.09 457.07 L94.32 457.03 L94.55 456.98 L94.79 456.94 L95.02 456.9 L95.26 456.86 L95.49 456.81 L95.72 456.77 L95.96 456.72 L96.19 456.67 L96.42 456.62 L96.66 456.57 L96.89 456.52 L97.12 456.47 L97.36 456.41 L97.59 456.36 L97.82 456.3 L98.06 456.24 L98.29 456.19 L98.53 456.12 L98.76 456.06 L98.99 455.99 L99.23 455.93 L99.46 455.86 L99.69 455.78 L99.93 455.71 L100.16 455.63 L100.39 455.55 L100.63 455.46 L100.86 455.37 L101.1 455.28 L101.33 455.18 L101.56 455.08 L101.8 454.97 L102.03 454.85 L102.26 454.73 L102.5 454.6 L102.73 454.46 L102.96 454.32 L103.2 454.16 L103.43 453.99 L103.66 453.8 L103.9 453.61 L104.13 453.4 L104.37 453.17 L104.6 452.94 L104.83 452.68 L105.07 452.41 L105.3 452.13 L105.53 451.84 L105.77 451.54 L106 451.25 L106.23 450.97 L106.47 450.7 L106.7 450.47 L106.94 450.28 L107.17 450.13 L107.4 450.04 L107.64 450.01 L107.87 450.02 L108.1 450.08 L108.34 450.18 L108.57 450.3 L108.8 450.43 L109.04 450.56 L109.27 450.69 L109.5 450.8 L109.74 450.9 L109.97 450.99 L110.21 451.05 L110.44 451.09 L110.67 451.1 L110.91 451.1 L111.14 451.07 L111.37 451.02 L111.61 450.94 L111.84 450.84 L112.07 450.73 L112.31 450.59 L112.54 450.42 L112.78 450.24 L113.01 450.04 L113.24 449.82 L113.48 449.58 L113.71 449.33 L113.94 449.06 L114.18 448.8 L114.41 448.53 L114.64 448.26 L114.88 448.01 L115.11 447.77 L115.34 447.56 L115.58 447.38 L115.81 447.22 L116.05 447.1 L116.28 447 L116.51 446.92 L116.75 446.86 L116.98 446.81 L117.21 446.75 L117.45 446.69 L117.68 446.61 L117.91 446.5 L118.15 446.35 L118.38 446.17 L118.62 445.94 L118.85 445.65 L119.08 445.32 L119.32 444.93 L119.55 444.5 L119.78 444.01 L120.02 443.48 L120.25 442.93 L120.48 442.37 L120.72 441.81 L120.95 441.3 L121.18 440.86 L121.42 440.52 L121.65 440.3 L121.89 440.24 L122.12 440.33 L122.35 440.58 L122.59 440.97 L122.82 441.48 L123.05 442.08 L123.29 442.74 L123.52 443.43 L123.75 444.12 L123.99 444.81 L124.22 445.46 L124.46 446.08 L124.69 446.66 L124.92 447.2 L125.16 447.69 L125.39 448.14 L125.62 448.55 L125.86 448.92 L126.09 449.25 L126.32 449.56 L126.56 449.83 L126.79 450.08 L127.02 450.3 L127.26 450.5 L127.49 450.68 L127.73 450.85 L127.96 451 L128.19 451.13 L128.43 451.25 L128.66 451.36 L128.89 451.46 L129.13 451.54 L129.36 451.62 L129.59 451.69 L129.83 451.76 L130.06 451.81 L130.3 451.86 L130.53 451.91 L130.76 451.95 L131 451.98 L131.23 452.01 L131.46 452.04 L131.7 452.06 L131.93 452.08 L132.16 452.1 L132.4 452.11 L132.63 452.12 L132.86 452.12 L133.1 452.12 L133.33 452.12 L133.57 452.12 L133.8 452.11 L134.03 452.1 L134.27 452.08 L134.5 452.06 L134.73 452.04 L134.97 452.02 L135.2 451.99 L135.43 451.95 L135.67 451.91 L135.9 451.87 L136.14 451.82 L136.37 451.76 L136.6 451.69 L136.84 451.62 L137.07 451.54 L137.3 451.45 L137.54 451.35 L137.77 451.23 L138 451.11 L138.24 450.97 L138.47 450.81 L138.7 450.63 L138.94 450.43 L139.17 450.21 L139.41 449.96 L139.64 449.68 L139.87 449.37 L140.11 449.01 L140.34 448.61 L140.57 448.16 L140.81 447.64 L141.04 447.05 L141.27 446.36 L141.51 445.58 L141.74 444.65 L141.98 443.57 L142.21 442.26 L142.44 440.68 L142.68 438.72 L142.91 436.24 L143.14 433.07 L143.38 428.95 L143.61 423.7 L143.84 417.4 L144.08 410.96 L144.31 406.58 L144.54 406.6 L144.78 411.01 L145.01 417.48 L145.25 423.81 L145.48 429.09 L145.71 433.23 L145.95 436.43 L146.18 438.92 L146.41 440.9 L146.65 442.49 L146.88 443.8 L147.11 444.88 L147.35 445.78 L147.58 446.55 L147.82 447.19 L148.05 447.74 L148.28 448.19 L148.52 448.57 L148.75 448.87 L148.98 449.1 L149.22 449.26 L149.45 449.37 L149.68 449.41 L149.92 449.38 L150.15 449.29 L150.38 449.13 L150.62 448.9 L150.85 448.6 L151.09 448.23 L151.32 447.8 L151.55 447.3 L151.79 446.77 L152.02 446.21 L152.25 445.68 L152.49 445.21 L152.72 444.86 L152.95 444.67 L153.19 444.68 L153.42 444.9 L153.66 445.32 L153.89 445.91 L154.12 446.62 L154.36 447.39 L154.59 448.19 L154.82 448.99 L155.06 449.74 L155.29 450.45 L155.52 451.1 L155.76 451.7 L155.99 452.24 L156.22 452.72 L156.46 453.16 L156.69 453.55 L156.93 453.91 L157.16 454.23 L157.39 454.52 L157.63 454.78 L157.86 455.02 L158.09 455.23 L158.33 455.43 L158.56 455.62 L158.79 455.78 L159.03 455.94 L159.26 456.08 L159.5 456.21 L159.73 456.34 L159.96 456.45 L160.2 456.56 L160.43 456.66 L160.66 456.76 L160.9 456.85 L161.13 456.93 L161.36 457.01 L161.6 457.09 L161.83 457.16 L162.06 457.23 L162.3 457.29 L162.53 457.36 L162.77 457.42 L163 457.47 L163.23 457.53 L163.47 457.58 L163.7 457.63 L163.93 457.68 L164.17 457.72 L164.4 457.77 L164.63 457.81 L164.87 457.85 L165.1 457.89 L165.34 457.93 L165.57 457.97 L165.8 458 L166.04 458.04 L166.27 458.07 L166.5 458.1 L166.74 458.14 L166.97 458.17 L167.2 458.2 L167.44 458.23 L167.67 458.25 L167.9 458.28 L168.14 458.31 L168.37 458.34 L168.61 458.36 L168.84 458.39 L169.07 458.41 L169.31 458.43 L169.54 458.46 L169.77 458.48 L170.01 458.5 L170.24 458.52 L170.47 458.54 L170.71 458.56 L170.94 458.59 L171.18 458.6 L171.41 458.62 L171.64 458.64 L171.88 458.66 L172.11 458.68 L172.34 458.7 L172.58 458.71 L172.81 458.73 L173.04 458.75 L173.28 458.77 L173.51 458.78 L173.74 458.8 L173.98 458.81 L174.21 458.83 L174.45 458.84 L174.68 458.86 L174.91 458.87 L175.15 458.89 L175.38 458.9 L175.61 458.91 L175.85 458.93 L176.08 458.94 L176.31 458.95 L176.55 458.97 L176.78 458.98 L177.02 458.99 L177.25 459" fill="none" stroke="#58b070" stroke-width="0.7" stroke-linejoin="round"/>
<path d="M65.59 455.7 L65.82 455.69 L66.06 455.69 L66.29 455.68 L66.52 455.67 L66.76 455.66 L66.99 455.65 L67.22 455.65 L67.46 455.64 L67.69 455.63 L67.92 455.62 L68.16 455.61 L68.39 455.6 L68.62 455.59 L68.86 455.58 L69.09 455.57 L69.33 455.56 L69.56 455.55 L69.79 455.54 L70.03 455.53 L70.26 455.52 L70.49 455.51 L70.73 455.5 L70.96 455.49 L71.19 455.48 L71.43 455.47 L71.66 455.46 L71.9 455.45 L72.13 455.44 L72.36 455.43 L72.6 455.42 L72.83 455.41 L73.06 455.39 L73.3 455.38 L73.53 455.37 L73.76 455.36 L74 455.35 L74.23 455.33 L74.46 455.32 L74.7 455.31 L74.93 455.3 L75.17 455.28 L75.4 455.27 L75.63 455.26 L75.87 455.24 L76.1 455.23 L76.33 455.21 L76.57 455.2 L76.8 455.19 L77.03 455.17 L77.27 455.16 L77.5 455.14 L77.74 455.13 L77.97 455.11 L78.2 455.1 L78.44 455.08 L78.67 455.06 L78.9 455.05 L79.14 455.03 L79.37 455.01 L79.6 455 L79.84 454.98 L80.07 454.96 L80.3 454.95 L80.54 454.93 L80.77 454.91 L81.01 454.89 L81.24 454.87 L81.47 454.85 L81.71 454.83 L81.94 454.82 L82.17 454.8 L82.41 454.78 L82.64 454.76 L82.87 454.73 L83.11 454.71 L83.34 454.69 L83.58 454.67 L83.81 454.65 L84.04 454.63 L84.28 454.6 L84.51 454.58 L84.74 454.56 L84.98 454.53 L85.21 454.51 L85.44 454.49 L85.68 454.46 L85.91 454.44 L86.14 454.41 L86.38 454.39 L86.61 454.36 L86.85 454.33 L87.08 454.31 L87.31 454.28 L87.55 454.25 L87.78 454.22 L88.01 454.19 L88.25 454.16 L88.48 454.13 L88.71 454.1 L88.95 454.07 L89.18 454.04 L89.42 454.01 L89.65 453.98 L89.88 453.95 L90.12 453.91 L90.35 453.88 L90.58 453.85 L90.82 453.81 L91.05 453.78 L91.28 453.74 L91.52 453.7 L91.75 453.67 L91.98 453.63 L92.22 453.59 L92.45 453.55 L92.69 453.51 L92.92 453.47 L93.15 453.43 L93.39 453.39 L93.62 453.34 L93.85 453.3 L94.09 453.25 L94.32 453.21 L94.55 453.16 L94.79 453.11 L95.02 453.07 L95.26 453.02 L95.49 452.97 L95.72 452.91 L95.96 452.86 L96.19 452.81 L96.42 452.75 L96.66 452.7 L96.89 452.64 L97.12 452.58 L97.36 452.52 L97.59 452.46 L97.82 452.39 L98.06 452.33 L98.29 452.26 L98.53 452.19 L98.76 452.11 L98.99 452.04 L99.23 451.96 L99.46 451.88 L99.69 451.8 L99.93 451.71 L100.16 451.62 L100.39 451.52 L100.63 451.42 L100.86 451.32 L101.1 451.21 L101.33 451.09 L101.56 450.97 L101.8 450.84 L102.03 450.71 L102.26 450.56 L102.5 450.41 L102.73 450.24 L102.96 450.07 L103.2 449.88 L103.43 449.67 L103.66 449.46 L103.9 449.22 L104.13 448.97 L104.37 448.7 L104.6 448.41 L104.83 448.1 L105.07 447.78 L105.3 447.44 L105.53 447.09 L105.77 446.73 L106 446.37 L106.23 446.03 L106.47 445.71 L106.7 445.43 L106.94 445.2 L107.17 445.03 L107.4 444.92 L107.64 444.88 L107.87 444.9 L108.1 444.98 L108.34 445.1 L108.57 445.24 L108.8 445.4 L109.04 445.57 L109.27 445.73 L109.5 445.87 L109.74 445.99 L109.97 446.1 L110.21 446.17 L110.44 446.22 L110.67 446.24 L110.91 446.23 L111.14 446.19 L111.37 446.13 L111.61 446.03 L111.84 445.91 L112.07 445.76 L112.31 445.59 L112.54 445.39 L112.78 445.16 L113.01 444.91 L113.24 444.63 L113.48 444.33 L113.71 444.02 L113.94 443.69 L114.18 443.36 L114.41 443.03 L114.64 442.71 L114.88 442.4 L115.11 442.12 L115.34 441.86 L115.58 441.65 L115.81 441.48 L116.05 441.34 L116.28 441.25 L116.51 441.18 L116.75 441.14 L116.98 441.11 L117.21 441.08 L117.45 441.03 L117.68 440.97 L117.91 440.86 L118.15 440.72 L118.38 440.52 L118.62 440.25 L118.85 439.92 L119.08 439.51 L119.32 439.03 L119.55 438.46 L119.78 437.82 L120.02 437.1 L120.25 436.33 L120.48 435.52 L120.72 434.71 L120.95 433.93 L121.18 433.25 L121.42 432.71 L121.65 432.36 L121.89 432.25 L122.12 432.38 L122.35 432.76 L122.59 433.36 L122.82 434.13 L123.05 435.02 L123.29 435.97 L123.52 436.96 L123.75 437.93 L123.99 438.86 L124.22 439.74 L124.46 440.55 L124.69 441.3 L124.92 441.98 L125.16 442.59 L125.39 443.14 L125.62 443.63 L125.86 444.08 L126.09 444.47 L126.32 444.83 L126.56 445.15 L126.79 445.43 L127.02 445.68 L127.26 445.91 L127.49 446.11 L127.73 446.3 L127.96 446.46 L128.19 446.6 L128.43 446.73 L128.66 446.85 L128.89 446.95 L129.13 447.05 L129.36 447.13 L129.59 447.2 L129.83 447.26 L130.06 447.32 L130.3 447.37 L130.53 447.41 L130.76 447.45 L131 447.48 L131.23 447.51 L131.46 447.53 L131.7 447.54 L131.93 447.56 L132.16 447.56 L132.4 447.57 L132.63 447.57 L132.86 447.56 L133.1 447.55 L133.33 447.54 L133.57 447.52 L133.8 447.5 L134.03 447.48 L134.27 447.45 L134.5 447.41 L134.73 447.37 L134.97 447.32 L135.2 447.27 L135.43 447.22 L135.67 447.15 L135.9 447.08 L136.14 447 L136.37 446.91 L136.6 446.81 L136.84 446.7 L137.07 446.58 L137.3 446.45 L137.54 446.3 L137.77 446.13 L138 445.95 L138.24 445.75 L138.47 445.52 L138.7 445.27 L138.94 444.98 L139.17 444.67 L139.41 444.32 L139.64 443.92 L139.87 443.48 L140.11 442.98 L140.34 442.41 L140.57 441.77 L140.81 441.04 L141.04 440.21 L141.27 439.25 L141.51 438.14 L141.74 436.84 L141.98 435.31 L142.21 433.48 L142.44 431.25 L142.68 428.49 L142.91 424.98 L143.14 420.42 L143.38 414.33 L143.61 406.03 L143.84 394.65 L144.08 379.53 L144.31 361.65 L144.54 346.38 L144.78 342.69 L145.01 353.49 L145.25 371.34 L145.48 388.41 L145.71 401.84 L145.95 411.73 L146.18 418.94 L146.41 424.28 L146.65 428.32 L146.88 431.44 L147.11 433.91 L147.35 435.89 L147.58 437.51 L147.82 438.84 L148.05 439.95 L148.28 440.88 L148.52 441.65 L148.75 442.3 L148.98 442.82 L149.22 443.25 L149.45 443.58 L149.68 443.81 L149.92 443.96 L150.15 444.02 L150.38 443.99 L150.62 443.87 L150.85 443.65 L151.09 443.33 L151.32 442.9 L151.55 442.36 L151.79 441.71 L152.02 440.96 L152.25 440.15 L152.49 439.31 L152.72 438.52 L152.95 437.86 L153.19 437.44 L153.42 437.32 L153.66 437.56 L153.89 438.13 L154.12 438.98 L154.36 440.02 L154.59 441.15 L154.82 442.3 L155.06 443.41 L155.29 444.44 L155.52 445.39 L155.76 446.24 L155.99 446.99 L156.22 447.66 L156.46 448.26 L156.69 448.79 L156.93 449.25 L157.16 449.67 L157.39 450.04 L157.63 450.37 L157.86 450.67 L158.09 450.94 L158.33 451.19 L158.56 451.41 L158.79 451.62 L159.03 451.8 L159.26 451.98 L159.5 452.14 L159.73 452.28 L159.96 452.42 L160.2 452.55 L160.43 452.67 L160.66 452.78 L160.9 452.88 L161.13 452.98 L161.36 453.07 L161.6 453.16 L161.83 453.25 L162.06 453.33 L162.3 453.4 L162.53 453.47 L162.77 453.54 L163 453.61 L163.23 453.67 L163.47 453.73 L163.7 453.79 L163.93 453.84 L164.17 453.89 L164.4 453.94 L164.63 453.99 L164.87 454.04 L165.1 454.09 L165.34 454.13 L165.57 454.17 L165.8 454.21 L166.04 454.25 L166.27 454.29 L166.5 454.33 L166.74 454.37 L166.97 454.4 L167.2 454.44 L167.44 454.47 L167.67 454.5 L167.9 454.53 L168.14 454.57 L168.37 454.59 L168.61 454.62 L168.84 454.65 L169.07 454.68 L169.31 454.71 L169.54 454.73 L169.77 454.76 L170.01 454.78 L170.24 454.81 L170.47 454.83 L170.71 454.86 L170.94 454.88 L171.18 454.9 L171.41 454.92 L171.64 454.95 L171.88 454.97 L172.11 454.99 L172.34 455.01 L172.58 455.03 L172.81 455.05 L173.04 455.07 L173.28 455.08 L173.51 455.1 L173.74 455.12 L173.98 455.14 L174.21 455.16 L174.45 455.17 L174.68 455.19 L174.91 455.21 L175.15 455.22 L175.38 455.24 L175.61 455.25 L175.85 455.27 L176.08 455.28 L176.31 455.3 L176.55 455.31 L176.78 455.33 L177.02 455.34 L177.25 455.35" fill="none" stroke="#e86a5a" stroke-width="0.7" stroke-linejoin="round"/>
<path d="M65.59 454.14 L65.82 454.13 L66.06 454.12 L66.29 454.11 L66.52 454.1 L66.76 454.09 L66.99 454.08 L67.22 454.08 L67.46 454.07 L67.69 454.06 L67.92 454.05 L68.16 454.04 L68.39 454.03 L68.62 454.02 L68.86 454.01 L69.09 454 L69.33 453.99 L69.56 453.98 L69.79 453.97 L70.03 453.96 L70.26 453.95 L70.49 453.93 L70.73 453.92 L70.96 453.91 L71.19 453.9 L71.43 453.89 L71.66 453.88 L71.9 453.87 L72.13 453.85 L72.36 453.84 L72.6 453.83 L72.83 453.82 L73.06 453.81 L73.3 453.79 L73.53 453.78 L73.76 453.77 L74 453.75 L74.23 453.74 L74.46 453.73 L74.7 453.71 L74.93 453.7 L75.17 453.69 L75.4 453.67 L75.63 453.66 L75.87 453.64 L76.1 453.63 L76.33 453.61 L76.57 453.6 L76.8 453.58 L77.03 453.57 L77.27 453.55 L77.5 453.53 L77.74 453.52 L77.97 453.5 L78.2 453.48 L78.44 453.47 L78.67 453.45 L78.9 453.43 L79.14 453.41 L79.37 453.4 L79.6 453.38 L79.84 453.36 L80.07 453.34 L80.3 453.32 L80.54 453.3 L80.77 453.28 L81.01 453.26 L81.24 453.24 L81.47 453.22 L81.71 453.2 L81.94 453.18 L82.17 453.16 L82.41 453.14 L82.64 453.12 L82.87 453.09 L83.11 453.07 L83.34 453.05 L83.58 453.03 L83.81 453 L84.04 452.98 L84.28 452.95 L84.51 452.93 L84.74 452.9 L84.98 452.88 L85.21 452.85 L85.44 452.83 L85.68 452.8 L85.91 452.77 L86.14 452.74 L86.38 452.72 L86.61 452.69 L86.85 452.66 L87.08 452.63 L87.31 452.6 L87.55 452.57 L87.78 452.54 L88.01 452.51 L88.25 452.48 L88.48 452.44 L88.71 452.41 L88.95 452.38 L89.18 452.34 L89.42 452.31 L89.65 452.28 L89.88 452.24 L90.12 452.2 L90.35 452.17 L90.58 452.13 L90.82 452.09 L91.05 452.05 L91.28 452.01 L91.52 451.97 L91.75 451.93 L91.98 451.89 L92.22 451.85 L92.45 451.81 L92.69 451.76 L92.92 451.72 L93.15 451.67 L93.39 451.63 L93.62 451.58 L93.85 451.53 L94.09 451.48 L94.32 451.43 L94.55 451.38 L94.79 451.33 L95.02 451.28 L95.26 451.23 L95.49 451.17 L95.72 451.11 L95.96 451.06 L96.19 451 L96.42 450.93 L96.66 450.87 L96.89 450.81 L97.12 450.74 L97.36 450.68 L97.59 450.61 L97.82 450.53 L98.06 450.46 L98.29 450.39 L98.53 450.31 L98.76 450.23 L98.99 450.14 L99.23 450.06 L99.46 449.97 L99.69 449.87 L99.93 449.77 L100.16 449.67 L100.39 449.56 L100.63 449.45 L100.86 449.33 L101.1 449.21 L101.33 449.08 L101.56 448.94 L101.8 448.8 L102.03 448.64 L102.26 448.47 L102.5 448.3 L102.73 448.11 L102.96 447.91 L103.2 447.69 L103.43 447.46 L103.66 447.21 L103.9 446.93 L104.13 446.64 L104.37 446.33 L104.6 446 L104.83 445.64 L105.07 445.26 L105.3 444.87 L105.53 444.46 L105.77 444.05 L106 443.63 L106.23 443.24 L106.47 442.87 L106.7 442.55 L106.94 442.28 L107.17 442.09 L107.4 441.97 L107.64 441.94 L107.87 441.97 L108.1 442.07 L108.34 442.22 L108.57 442.4 L108.8 442.61 L109.04 442.81 L109.27 443.01 L109.5 443.2 L109.74 443.36 L109.97 443.49 L110.21 443.6 L110.44 443.67 L110.67 443.71 L110.91 443.72 L111.14 443.7 L111.37 443.65 L111.61 443.56 L111.84 443.44 L112.07 443.29 L112.31 443.11 L112.54 442.9 L112.78 442.66 L113.01 442.4 L113.24 442.1 L113.48 441.79 L113.71 441.45 L113.94 441.11 L114.18 440.75 L114.41 440.39 L114.64 440.04 L114.88 439.71 L115.11 439.4 L115.34 439.13 L115.58 438.89 L115.81 438.7 L116.05 438.55 L116.28 438.44 L116.51 438.36 L116.75 438.3 L116.98 438.25 L117.21 438.2 L117.45 438.14 L117.68 438.05 L117.91 437.92 L118.15 437.73 L118.38 437.48 L118.62 437.17 L118.85 436.77 L119.08 436.29 L119.32 435.72 L119.55 435.06 L119.78 434.31 L120.02 433.47 L120.25 432.58 L120.48 431.64 L120.72 430.7 L120.95 429.81 L121.18 429.02 L121.42 428.39 L121.65 427.99 L121.89 427.86 L122.12 428.01 L122.35 428.45 L122.59 429.13 L122.82 430.02 L123.05 431.05 L123.29 432.15 L123.52 433.29 L123.75 434.41 L123.99 435.49 L124.22 436.5 L124.46 437.44 L124.69 438.3 L124.92 439.09 L125.16 439.8 L125.39 440.44 L125.62 441.01 L125.86 441.53 L126.09 441.99 L126.32 442.4 L126.56 442.77 L126.79 443.11 L127.02 443.41 L127.26 443.67 L127.49 443.91 L127.73 444.13 L127.96 444.32 L128.19 444.5 L128.43 444.65 L128.66 444.79 L128.89 444.92 L129.13 445.03 L129.36 445.13 L129.59 445.22 L129.83 445.3 L130.06 445.38 L130.3 445.44 L130.53 445.5 L130.76 445.54 L131 445.59 L131.23 445.62 L131.46 445.66 L131.7 445.68 L131.93 445.7 L132.16 445.72 L132.4 445.73 L132.63 445.74 L132.86 445.74 L133.1 445.74 L133.33 445.73 L133.57 445.72 L133.8 445.7 L134.03 445.68 L134.27 445.66 L134.5 445.63 L134.73 445.59 L134.97 445.55 L135.2 445.5 L135.43 445.45 L135.67 445.39 L135.9 445.32 L136.14 445.24 L136.37 445.16 L136.6 445.06 L136.84 444.95 L137.07 444.83 L137.3 444.7 L137.54 444.55 L137.77 444.38 L138 444.2 L138.24 443.99 L138.47 443.76 L138.7 443.5 L138.94 443.22 L139.17 442.9 L139.41 442.54 L139.64 442.13 L139.87 441.68 L140.11 441.16 L140.34 440.58 L140.57 439.91 L140.81 439.15 L141.04 438.27 L141.27 437.25 L141.51 436.06 L141.74 434.65 L141.98 432.95 L142.21 430.87 L142.44 428.27 L142.68 424.91 L142.91 420.45 L143.14 414.32 L143.38 405.62 L143.61 393 L143.84 375.08 L144.08 352.66 L144.31 334.24 L144.54 334.27 L144.78 352.73 L145.01 375.19 L145.25 393.17 L145.48 405.83 L145.71 414.57 L145.95 420.74 L146.18 425.23 L146.41 428.62 L146.65 431.25 L146.88 433.35 L147.11 435.05 L147.35 436.47 L147.58 437.65 L147.82 438.65 L148.05 439.49 L148.28 440.2 L148.52 440.8 L148.75 441.3 L148.98 441.71 L149.22 442.03 L149.45 442.27 L149.68 442.42 L149.92 442.5 L150.15 442.49 L150.38 442.39 L150.62 442.21 L150.85 441.92 L151.09 441.53 L151.32 441.03 L151.55 440.41 L151.79 439.69 L152.02 438.86 L152.25 437.96 L152.49 437.04 L152.72 436.17 L152.95 435.45 L153.19 434.97 L153.42 434.83 L153.66 435.07 L153.89 435.67 L154.12 436.57 L154.36 437.67 L154.59 438.87 L154.82 440.09 L155.06 441.26 L155.29 442.36 L155.52 443.36 L155.76 444.26 L155.99 445.06 L156.22 445.77 L156.46 446.4 L156.69 446.96 L156.93 447.46 L157.16 447.9 L157.39 448.29 L157.63 448.64 L157.86 448.95 L158.09 449.24 L158.33 449.5 L158.56 449.73 L158.79 449.95 L159.03 450.14 L159.26 450.32 L159.5 450.49 L159.73 450.64 L159.96 450.79 L160.2 450.92 L160.43 451.04 L160.66 451.16 L160.9 451.27 L161.13 451.37 L161.36 451.47 L161.6 451.56 L161.83 451.65 L162.06 451.73 L162.3 451.81 L162.53 451.88 L162.77 451.95 L163 452.02 L163.23 452.08 L163.47 452.14 L163.7 452.2 L163.93 452.26 L164.17 452.31 L164.4 452.37 L164.63 452.42 L164.87 452.47 L165.1 452.51 L165.34 452.56 L165.57 452.6 L165.8 452.65 L166.04 452.69 L166.27 452.73 L166.5 452.77 L166.74 452.8 L166.97 452.84 L167.2 452.87 L167.44 452.91 L167.67 452.94 L167.9 452.97 L168.14 453.01 L168.37 453.04 L168.61 453.07 L168.84 453.1 L169.07 453.12 L169.31 453.15 L169.54 453.18 L169.77 453.21 L170.01 453.23 L170.24 453.26 L170.47 453.28 L170.71 453.31 L170.94 453.33 L171.18 453.35 L171.41 453.37 L171.64 453.4 L171.88 453.42 L172.11 453.44 L172.34 453.46 L172.58 453.48 L172.81 453.5 L173.04 453.52 L173.28 453.54 L173.51 453.56 L173.74 453.58 L173.98 453.59 L174.21 453.61 L174.45 453.63 L174.68 453.65 L174.91 453.66 L175.15 453.68 L175.38 453.7 L175.61 453.71 L175.85 453.73 L176.08 453.74 L176.31 453.76 L176.55 453.77 L176.78 453.79 L177.02 453.8 L177.25 453.81" fill="none" stroke="#5a4a44" stroke-width="0.7" stroke-linejoin="round"/>
</g>
<line x1="46.9" y1="508.8" x2="46.9" y2="506.6" stroke="#999" stroke-width="0.55" />
<line x1="52.74" y1="508.8" x2="52.74" y2="507.5" stroke="#999" stroke-width="0.55" />
<line x1="58.58" y1="508.8" x2="58.58" y2="507.5" stroke="#999" stroke-width="0.55" />
<line x1="64.42" y1="508.8" x2="64.42" y2="507.5" stroke="#999" stroke-width="0.55" />
<line x1="70.26" y1="508.8" x2="70.26" y2="507.5" stroke="#999" stroke-width="0.55" />
<line x1="76.1" y1="508.8" x2="76.1" y2="506.6" stroke="#999" stroke-width="0.55" />
<line x1="81.94" y1="508.8" x2="81.94" y2="507.5" stroke="#999" stroke-width="0.55" />
<line x1="87.78" y1="508.8" x2="87.78" y2="507.5" stroke="#999" stroke-width="0.55" />
<line x1="93.62" y1="508.8" x2="93.62" y2="507.5" stroke="#999" stroke-width="0.55" />
<line x1="99.46" y1="508.8" x2="99.46" y2="507.5" stroke="#999" stroke-width="0.55" />
<line x1="105.3" y1="508.8" x2="105.3" y2="506.6" stroke="#999" stroke-width="0.55" />
<line x1="111.14" y1="508.8" x2="111.14" y2="507.5" stroke="#999" stroke-width="0.55" />
<line x1="116.98" y1="508.8" x2="116.98" y2="507.5" stroke="#999" stroke-width="0.55" />
<line x1="122.82" y1="508.8" x2="122.82" y2="507.5" stroke="#999" stroke-width="0.55" />
<line x1="128.66" y1="508.8" x2="128.66" y2="507.5" stroke="#999" stroke-width="0.55" />
<line x1="134.5" y1="508.8" x2="134.5" y2="506.6" stroke="#999" stroke-width="0.55" />
<line x1="140.34" y1="508.8" x2="140.34" y2="507.5" stroke="#999" stroke-width="0.55" />
<line x1="146.18" y1="508.8" x2="146.18" y2="507.5" stroke="#999" stroke-width="0.55" />
<line x1="152.02" y1="508.8" x2="152.02" y2="507.5" stroke="#999" stroke-width="0.55" />
<line x1="157.86" y1="508.8" x2="157.86" y2="507.5" stroke="#999" stroke-width="0.55" />
<line x1="163.7" y1="508.8" x2="163.7" y2="506.6" stroke="#999" stroke-width="0.55" />
<line x1="169.54" y1="508.8" x2="169.54" y2="507.5" stroke="#999" stroke-width="0.55" />
<line x1="175.38" y1="508.8" x2="175.38" y2="507.5" stroke="#999" stroke-width="0.55" />
<text x="46.5" y="523.7" font-size="9.6" text-anchor="middle" fill="#222" font-family="Liberation Sans, sans-serif" textLength="17" lengthAdjust="spacingAndGlyphs" stroke="#222" stroke-width="0.18">1.15</text>
<text x="75.7" y="523.7" font-size="9.6" text-anchor="middle" fill="#222" font-family="Liberation Sans, sans-serif" textLength="17" lengthAdjust="spacingAndGlyphs" stroke="#222" stroke-width="0.18">1.20</text>
<text x="104.9" y="523.7" font-size="9.6" text-anchor="middle" fill="#222" font-family="Liberation Sans, sans-serif" textLength="17" lengthAdjust="spacingAndGlyphs" stroke="#222" stroke-width="0.18">1.25</text>
<text x="134.1" y="523.7" font-size="9.6" text-anchor="middle" fill="#222" font-family="Liberation Sans, sans-serif" textLength="17" lengthAdjust="spacingAndGlyphs" stroke="#222" stroke-width="0.18">1.30</text>
<text x="163.3" y="523.7" font-size="9.6" text-anchor="middle" fill="#222" font-family="Liberation Sans, sans-serif" textLength="17" lengthAdjust="spacingAndGlyphs" stroke="#222" stroke-width="0.18">1.35</text>
<line x1="43.3" y1="353.3" x2="45.1" y2="353.3" stroke="#999" stroke-width="0.6" />
<line x1="43.3" y1="367" x2="45.1" y2="367" stroke="#999" stroke-width="0.6" />
<line x1="43.3" y1="380.7" x2="45.1" y2="380.7" stroke="#999" stroke-width="0.6" />
<line x1="43.3" y1="394.4" x2="45.1" y2="394.4" stroke="#999" stroke-width="0.6" />
<line x1="43.3" y1="408.1" x2="45.1" y2="408.1" stroke="#999" stroke-width="0.6" />
<line x1="43.3" y1="421.8" x2="45.1" y2="421.8" stroke="#999" stroke-width="0.6" />
<line x1="43.3" y1="435.5" x2="45.1" y2="435.5" stroke="#999" stroke-width="0.6" />
<line x1="43.3" y1="449.2" x2="45.1" y2="449.2" stroke="#999" stroke-width="0.6" />
<line x1="43.3" y1="462.9" x2="45.1" y2="462.9" stroke="#999" stroke-width="0.6" />
<line x1="43.3" y1="476.6" x2="45.1" y2="476.6" stroke="#999" stroke-width="0.6" />
<line x1="43.3" y1="490.3" x2="45.1" y2="490.3" stroke="#999" stroke-width="0.6" />
<line x1="43.3" y1="504" x2="45.1" y2="504" stroke="#999" stroke-width="0.6" />
<text x="107.9" y="534.6" font-size="9.4" text-anchor="middle" fill="#222" font-family="Liberation Sans, sans-serif" textLength="45" lengthAdjust="spacingAndGlyphs" stroke="#222" stroke-width="0.18">Energy [eV]</text>
<text x="0" y="0" font-size="9.8" text-anchor="middle" fill="#222" font-family="Liberation Sans, sans-serif" transform="translate(31.4 429) rotate(-90)" textLength="87.6" lengthAdjust="spacingAndGlyphs" stroke="#222" stroke-width="0.18">PL intensity [arb. units]</text>
<text x="57" y="450.2" font-size="3.9" text-anchor="start" fill="#222" font-family="Liberation Sans, sans-serif"  stroke="#222" stroke-width="0.1">7 [K]</text>
<text x="60.2" y="456.4" font-size="3.9" text-anchor="start" fill="#222" font-family="Liberation Sans, sans-serif"  stroke="#222" stroke-width="0.1">15</text>
<text x="59.4" y="467.6" font-size="3.9" text-anchor="start" fill="#8040c0" font-family="Liberation Sans, sans-serif"  stroke="#8040c0" stroke-width="0.1">50</text>
<text x="57.6" y="496.8" font-size="3.9" text-anchor="start" fill="#4050d0" font-family="Liberation Sans, sans-serif"  stroke="#4050d0" stroke-width="0.1">200</text>
<text x="50.2" y="504.2" font-size="3.9" text-anchor="start" fill="#e04040" font-family="Liberation Sans, sans-serif"  stroke="#e04040" stroke-width="0.1">300</text>
<text x="151" y="443.1" font-size="4.3" text-anchor="start" fill="#3030d0" font-family="Liberation Sans, sans-serif" font-weight="bold" stroke="#3030d0" stroke-width="0.1">X=M</text>
<text x="132.6" y="505" font-size="3.9" text-anchor="start" fill="#e04040" font-family="Liberation Sans, sans-serif"  stroke="#e04040" stroke-width="0.1">×5</text>
<text x="148.4" y="357.8" font-size="5.0" text-anchor="start" fill="#e89898" font-family="Liberation Sans, sans-serif"  stroke="#e89898" stroke-width="0.1">P</text>
<rect x="73" y="350" width="63.2" height="61.5" fill="#fff" stroke="#999" stroke-width="0.7"/>
<path d="M73.6 358.56 L74.64 358.6 L75.67 358.73 L76.71 358.92 L77.74 359.18 L78.78 359.5 L79.81 359.86 L80.85 360.27 L81.88 360.72 L82.92 361.2 L83.95 361.72 L84.99 362.27 L86.02 362.84 L87.06 363.44 L88.09 364.06 L89.13 364.71 L90.16 365.37 L91.2 366.05 L92.23 366.74 L93.27 367.46 L94.3 368.18 L95.34 368.92 L96.37 369.67 L97.41 370.43 L98.44 371.2 L99.48 371.99 L100.51 372.78 L101.55 373.58 L102.58 374.39 L103.62 375.2 L104.65 376.03 L105.69 376.86 L106.72 377.7 L107.76 378.54 L108.79 379.39 L109.83 380.24 L110.86 381.1 L111.9 381.97 L112.93 382.84 L113.97 383.71 L115 384.59 L116.04 385.47 L117.07 386.36 L118.11 387.25 L119.15 388.14 L120.18 389.04 L121.22 389.94 L122.25 390.84 L123.29 391.74 L124.32 392.65 L125.36 393.56 L126.39 394.48 L127.43 395.39 L128.46 396.31 L129.5 397.23 L130.53 398.16 L131.57 399.08 L132.6 400.01 L133.64 400.94 L134.67 401.87" fill="none" stroke="#3a4ac8" stroke-width="0.55"/>
<path d="M73.6 363.58 L74.64 363.63 L75.67 363.78 L76.71 364.01 L77.74 364.31 L78.78 364.68 L79.81 365.1 L80.85 365.57 L81.88 366.09 L82.92 366.65 L83.95 367.24 L84.99 367.87 L86.02 368.52 L87.06 369.21 L88.09 369.91 L89.13 370.64 L90.16 371.39 L91.2 372.16 L92.23 372.95 L93.27 373.75 L94.3 374.57 L95.34 375.4 L96.37 376.24 L97.41 377.1 L98.44 377.97 L99.48 378.85 L100.51 379.73 L101.55 380.63 L102.58 381.54 L103.62 382.45 L104.65 383.37 L105.69 384.3 L106.72 385.23 L107.76 386.17 L108.79 387.12 L109.83 388.07 L110.86 389.03 L111.9 389.99 L112.93 390.96 L113.97 391.93 L115 392.91 L116.04 393.89 L117.07 394.87 L118.11 395.86 L119.15 396.85 L120.18 397.85 L121.22 398.85 L122.25 399.85 L123.29 400.85 L124.32 401.86 L125.36 402.87 L126.39 403.88 L127.43 404.9 L128.46 405.91 L129.5 406.93 L130.53 407.95 L131.57 408.98 L132.6 410" fill="none" stroke="#e86040" stroke-width="0.55"/>
<circle cx="74.47" cy="358.59" r="1.15" fill="#1820c8"/>
<circle cx="74.47" cy="363.62" r="1.15" fill="#e02020"/>
<circle cx="75.33" cy="358.68" r="1.15" fill="#1820c8"/>
<circle cx="75.33" cy="363.72" r="1.15" fill="#e02020"/>
<circle cx="76.2" cy="358.82" r="1.15" fill="#1820c8"/>
<circle cx="76.2" cy="363.89" r="1.15" fill="#e02020"/>
<circle cx="77.07" cy="359.01" r="1.15" fill="#1820c8"/>
<circle cx="77.07" cy="364.11" r="1.15" fill="#e02020"/>
<circle cx="77.94" cy="359.24" r="1.15" fill="#1820c8"/>
<circle cx="77.94" cy="364.38" r="1.15" fill="#e02020"/>
<circle cx="78.8" cy="359.51" r="1.15" fill="#1820c8"/>
<circle cx="78.8" cy="364.69" r="1.15" fill="#e02020"/>
<circle cx="79.67" cy="359.81" r="1.15" fill="#1820c8"/>
<circle cx="79.67" cy="365.04" r="1.15" fill="#e02020"/>
<circle cx="80.54" cy="360.15" r="1.15" fill="#1820c8"/>
<circle cx="80.54" cy="365.43" r="1.15" fill="#e02020"/>
<circle cx="82.27" cy="360.9" r="1.15" fill="#1820c8"/>
<circle cx="82.27" cy="366.3" r="1.15" fill="#e02020"/>
<circle cx="84.01" cy="361.75" r="1.15" fill="#1820c8"/>
<circle cx="84.01" cy="367.28" r="1.15" fill="#e02020"/>
<circle cx="85.74" cy="362.69" r="1.15" fill="#1820c8"/>
<circle cx="85.74" cy="368.34" r="1.15" fill="#e02020"/>
<circle cx="87.48" cy="363.69" r="1.15" fill="#1820c8"/>
<circle cx="87.48" cy="369.49" r="1.15" fill="#e02020"/>
<circle cx="90.95" cy="365.89" r="1.15" fill="#1820c8"/>
<circle cx="90.95" cy="371.98" r="1.15" fill="#e02020"/>
<circle cx="94.42" cy="368.26" r="1.15" fill="#1820c8"/>
<circle cx="94.42" cy="374.66" r="1.15" fill="#e02020"/>
<circle cx="99.62" cy="372.1" r="1.15" fill="#1820c8"/>
<circle cx="99.62" cy="378.97" r="1.15" fill="#e02020"/>
<circle cx="104.83" cy="376.17" r="1.15" fill="#1820c8"/>
<circle cx="104.83" cy="383.53" r="1.15" fill="#e02020"/>
<circle cx="110.03" cy="380.41" r="1.15" fill="#1820c8"/>
<circle cx="110.03" cy="388.26" r="1.15" fill="#e02020"/>
<circle cx="115.24" cy="385.19" r="1.15" fill="#1820c8"/>
<circle cx="115.24" cy="393.13" r="1.15" fill="#e02020"/>
<circle cx="120.44" cy="389.27" r="1.15" fill="#1820c8"/>
<circle cx="120.44" cy="398.1" r="1.15" fill="#e02020"/>
<circle cx="125.65" cy="393.82" r="1.15" fill="#1820c8"/>
<circle cx="125.65" cy="403.16" r="1.15" fill="#e02020"/>
<line x1="73" y1="402.3" x2="74.5" y2="402.3" stroke="#999" stroke-width="0.5" />
<text x="70.5" y="404.8" font-size="7.0" text-anchor="end" fill="#333" font-family="Liberation Sans, sans-serif" textLength="11.8" lengthAdjust="spacingAndGlyphs" stroke="#333" stroke-width="0.18">1.20</text>
<line x1="73" y1="386.1" x2="74.5" y2="386.1" stroke="#999" stroke-width="0.5" />
<text x="70.5" y="388.6" font-size="7.0" text-anchor="end" fill="#333" font-family="Liberation Sans, sans-serif" textLength="11.8" lengthAdjust="spacingAndGlyphs" stroke="#333" stroke-width="0.18">1.25</text>
<line x1="73" y1="369.9" x2="74.5" y2="369.9" stroke="#999" stroke-width="0.5" />
<text x="70.5" y="372.4" font-size="7.0" text-anchor="end" fill="#333" font-family="Liberation Sans, sans-serif" textLength="11.8" lengthAdjust="spacingAndGlyphs" stroke="#333" stroke-width="0.18">1.30</text>
<line x1="73" y1="353.7" x2="74.5" y2="353.7" stroke="#999" stroke-width="0.5" />
<text x="70.5" y="356.2" font-size="7.0" text-anchor="end" fill="#333" font-family="Liberation Sans, sans-serif" textLength="11.8" lengthAdjust="spacingAndGlyphs" stroke="#333" stroke-width="0.18">1.35</text>
<line x1="73.6" y1="411.5" x2="73.6" y2="410" stroke="#999" stroke-width="0.5" />
<text x="74" y="419.8" font-size="6.8" text-anchor="middle" fill="#333" font-family="Liberation Sans, sans-serif"  stroke="#333" stroke-width="0.1">0</text>
<line x1="90.95" y1="411.5" x2="90.95" y2="410" stroke="#999" stroke-width="0.5" />
<text x="91.35" y="419.8" font-size="6.8" text-anchor="middle" fill="#333" font-family="Liberation Sans, sans-serif"  stroke="#333" stroke-width="0.1">100</text>
<line x1="108.3" y1="411.5" x2="108.3" y2="410" stroke="#999" stroke-width="0.5" />
<text x="108.7" y="419.8" font-size="6.8" text-anchor="middle" fill="#333" font-family="Liberation Sans, sans-serif"  stroke="#333" stroke-width="0.1">200</text>
<line x1="125.65" y1="411.5" x2="125.65" y2="410" stroke="#999" stroke-width="0.5" />
<text x="126.05" y="419.8" font-size="6.8" text-anchor="middle" fill="#333" font-family="Liberation Sans, sans-serif"  stroke="#333" stroke-width="0.1">300</text>
<text x="107" y="429.4" font-size="6.8" text-anchor="middle" fill="#333" font-family="Liberation Sans, sans-serif"  stroke="#333" stroke-width="0.1">T [K]</text>
<text x="0" y="0" font-size="6.3" text-anchor="middle" fill="#333" font-family="Liberation Sans, sans-serif" transform="translate(52.6 382) rotate(-90)" textLength="33.8" lengthAdjust="spacingAndGlyphs" stroke="#333" stroke-width="0.1">Energy [eV]</text>
<text x="119.6" y="381.6" font-size="3.8" text-anchor="start" fill="#3040d0" font-family="Liberation Sans, sans-serif"  stroke="#3040d0" stroke-width="0.1">X</text>
<text x="104.8" y="394.2" font-size="3.8" text-anchor="start" fill="#e04040" font-family="Liberation Sans, sans-serif"  stroke="#e04040" stroke-width="0.1">P</text>
</g>
<g id="panel-g">
<text x="200" y="352.3" font-size="11" text-anchor="start" fill="#111" font-family="Liberation Sans, sans-serif" stroke="#111" stroke-width="0.4">g</text>
<clipPath id="clipG"><rect x="233.1" y="369.3" width="162.4" height="109.9"/></clipPath>
<rect x="233.1" y="369.3" width="162.4" height="109.9" fill="#fff" stroke="#444" stroke-width="0.9"/>
<line x1="233.1" y1="459.3" x2="395.5" y2="459.3" stroke="#888" stroke-width="0.7" />
<g clip-path="url(#clipG)"><path d="M242.9 258.97 L243.67 280.13 L244.44 298.63 L245.21 314.85 L245.98 329.1 L246.74 341.68 L247.51 352.8 L248.28 362.67 L249.05 371.44 L249.82 379.25 L250.59 386.24 L251.36 392.49 L252.13 398.1 L252.89 403.15 L253.66 407.69 L254.43 411.8 L255.2 415.51 L255.97 418.87 L256.74 421.93 L257.51 424.7 L258.28 427.23 L259.05 429.54 L259.81 431.64 L260.58 433.57 L261.35 435.34 L262.12 436.96 L262.89 438.44 L263.66 439.81 L264.43 441.07 L265.2 442.23 L265.97 443.31 L266.73 444.3 L267.5 445.22 L268.27 446.07 L269.04 446.85 L269.81 447.59 L270.58 448.27 L271.35 448.9 L272.12 449.49 L272.88 450.03 L273.65 450.54 L274.42 451.02 L275.19 451.47 L275.96 451.88 L276.73 452.27 L277.5 452.64 L278.27 452.98 L279.04 453.3 L279.8 453.6 L280.57 453.89 L281.34 454.15 L282.11 454.4 L282.88 454.64 L283.65 454.86 L284.42 455.07 L285.19 455.27 L285.96 455.45 L286.72 455.63 L287.49 455.79 L288.26 455.95 L289.03 456.1 L289.8 456.24 L290.57 456.37 L291.34 456.5 L292.11 456.62 L292.87 456.73 L293.64 456.84 L294.41 456.94 L295.18 457.04 L295.95 457.13 L296.72 457.22 L297.49 457.3 L298.26 457.38 L299.03 457.45 L299.79 457.53 L300.56 457.59 L301.33 457.66 L302.1 457.72 L302.87 457.78 L303.64 457.84 L304.41 457.89 L305.18 457.94 L305.95 457.99 L306.71 458.04 L307.48 458.09 L308.25 458.13 L309.02 458.17 L309.79 458.21 L310.56 458.25 L311.33 458.28 L312.1 458.32 L312.86 458.35 L313.63 458.38 L314.4 458.41 L315.17 458.44 L315.94 458.47 L316.71 458.5 L317.48 458.52 L318.25 458.55 L319.02 458.57 L319.78 458.6 L320.55 458.62 L321.32 458.64 L322.09 458.66 L322.86 458.68 L323.63 458.7 L324.4 458.72 L325.17 458.74 L325.94 458.75 L326.7 458.77 L327.47 458.78 L328.24 458.8 L329.01 458.81 L329.78 458.83 L330.55 458.84 L331.32 458.85 L332.09 458.87 L332.85 458.88 L333.62 458.89 L334.39 458.9 L335.16 458.91 L335.93 458.92 L336.7 458.93 L337.47 458.94 L338.24 458.95 L339.01 458.96 L339.77 458.97 L340.54 458.98 L341.31 458.99 L342.08 459 L342.85 459.01 L343.62 459.01 L344.39 459.02 L345.16 459.03 L345.93 459.04 L346.69 459.04 L347.46 459.05 L348.23 459.05 L349 459.06 L349.77 459.07 L350.54 459.07 L351.31 459.08 L352.08 459.08 L352.84 459.09 L353.61 459.09 L354.38 459.1 L355.15 459.1 L355.92 459.11 L356.69 459.11 L357.46 459.12 L358.23 459.12 L359 459.13 L359.76 459.13 L360.53 459.13 L361.3 459.14 L362.07 459.14 L362.84 459.14 L363.61 459.15 L364.38 459.15 L365.15 459.15 L365.92 459.16 L366.68 459.16 L367.45 459.16 L368.22 459.17 L368.99 459.17 L369.76 459.17 L370.53 459.18 L371.3 459.18 L372.07 459.18 L372.83 459.18 L373.6 459.19 L374.37 459.19 L375.14 459.19 L375.91 459.19 L376.68 459.19 L377.45 459.2 L378.22 459.2 L378.99 459.2 L379.75 459.2 L380.52 459.21 L381.29 459.21 L382.06 459.21 L382.83 459.21 L383.6 459.21 L384.37 459.21 L385.14 459.22 L385.91 459.22 L386.67 459.22 L387.44 459.22 L388.21 459.22 L388.98 459.22 L389.75 459.23 L390.52 459.23 L391.29 459.23 L392.06 459.23 L392.82 459.23 L393.59 459.23 L394.36 459.23 L395.13 459.23 L395.9 459.24" fill="none" stroke="#666" stroke-width="0.7" stroke-dasharray="2 1.4"/></g>
<line x1="253.1" y1="390.3" x2="253.1" y2="422.6" stroke="#5a22d8" stroke-width="1.1" />
<circle cx="253.1" cy="404.6" r="1.3" fill="#2a1870"/>
<line x1="273.5" y1="445.7" x2="273.5" y2="455.4" stroke="#b838b8" stroke-width="1.2" />
<circle cx="273.5" cy="450.3" r="1.3" fill="#6a1878"/>
<line x1="293.9" y1="446.6" x2="293.9" y2="464.2" stroke="#c82858" stroke-width="1.6" />
<circle cx="293.9" cy="455.4" r="1.3" fill="#7a1030"/>
<line x1="314.3" y1="448.5" x2="314.3" y2="465.8" stroke="#f5a828" stroke-width="1.3" />
<circle cx="314.3" cy="458.8" r="1.3" fill="#b07818"/>
<line x1="355.1" y1="451.2" x2="355.1" y2="464.6" stroke="#f8e028" stroke-width="1.5" />
<circle cx="355.1" cy="459.3" r="1.3" fill="#b0a010"/>
<circle cx="253.1" cy="399.5" r="1.2" fill="#6a30e0"/>
<line x1="253.1" y1="479.2" x2="253.1" y2="481.8" stroke="#444" stroke-width="0.8" />
<text x="253.1" y="492.8" font-size="8.7" text-anchor="middle" fill="#222" font-family="Liberation Sans, sans-serif"  stroke="#222" stroke-width="0.18">2</text>
<line x1="293.9" y1="479.2" x2="293.9" y2="481.8" stroke="#444" stroke-width="0.8" />
<text x="293.9" y="492.8" font-size="8.7" text-anchor="middle" fill="#222" font-family="Liberation Sans, sans-serif"  stroke="#222" stroke-width="0.18">4</text>
<line x1="334.7" y1="479.2" x2="334.7" y2="481.8" stroke="#444" stroke-width="0.8" />
<text x="334.7" y="492.8" font-size="8.7" text-anchor="middle" fill="#222" font-family="Liberation Sans, sans-serif"  stroke="#222" stroke-width="0.18">6</text>
<line x1="375.5" y1="479.2" x2="375.5" y2="481.8" stroke="#444" stroke-width="0.8" />
<text x="375.5" y="492.8" font-size="8.7" text-anchor="middle" fill="#222" font-family="Liberation Sans, sans-serif"  stroke="#222" stroke-width="0.18">8</text>
<line x1="395.5" y1="479.2" x2="398.1" y2="479.2" stroke="#444" stroke-width="0.8" />
<text x="401.9" y="482.3" font-size="8.7" text-anchor="start" fill="#222" font-family="Liberation Sans, sans-serif"  stroke="#222" stroke-width="0.18">0</text>
<line x1="395.5" y1="451.75" x2="398.1" y2="451.75" stroke="#444" stroke-width="0.8" />
<text x="401.9" y="454.85" font-size="8.7" text-anchor="start" fill="#222" font-family="Liberation Sans, sans-serif"  stroke="#222" stroke-width="0.18">20</text>
<line x1="395.5" y1="424.3" x2="398.1" y2="424.3" stroke="#444" stroke-width="0.8" />
<text x="401.9" y="427.4" font-size="8.7" text-anchor="start" fill="#222" font-family="Liberation Sans, sans-serif"  stroke="#222" stroke-width="0.18">40</text>
<line x1="395.5" y1="396.85" x2="398.1" y2="396.85" stroke="#444" stroke-width="0.8" />
<text x="401.9" y="399.95" font-size="8.7" text-anchor="start" fill="#222" font-family="Liberation Sans, sans-serif"  stroke="#222" stroke-width="0.18">60</text>
<line x1="395.5" y1="369.4" x2="398.1" y2="369.4" stroke="#444" stroke-width="0.8" />
<text x="401.9" y="372.5" font-size="8.7" text-anchor="start" fill="#222" font-family="Liberation Sans, sans-serif"  stroke="#222" stroke-width="0.18">80</text>
<text x="314.2" y="507.2" font-size="8.6" text-anchor="middle" fill="#222" font-family="Liberation Sans, sans-serif"  stroke="#222" stroke-width="0.18">Number of layers</text>
<text x="0" y="0" font-size="8.7" text-anchor="middle" fill="#222" font-family="Liberation Sans, sans-serif" transform="translate(425.8 423.7) rotate(-90)"  stroke="#222" stroke-width="0.18">Binding energy (meV)</text>
<line x1="320.8" y1="369.3" x2="320.8" y2="416.6" stroke="#444" stroke-width="0.7" />
<line x1="320.8" y1="416.6" x2="395.5" y2="416.6" stroke="#444" stroke-width="0.7" />
<line x1="320.8" y1="416.2" x2="322.4" y2="416.2" stroke="#444" stroke-width="0.5" />
<text x="318.6" y="418.1" font-size="5.4" text-anchor="end" fill="#333" font-family="Liberation Sans, sans-serif"  stroke="#333" stroke-width="0.1">0.0</text>
<line x1="320.8" y1="403.46" x2="322.4" y2="403.46" stroke="#444" stroke-width="0.5" />
<text x="318.6" y="405.36" font-size="5.4" text-anchor="end" fill="#333" font-family="Liberation Sans, sans-serif"  stroke="#333" stroke-width="0.1">0.2</text>
<line x1="320.8" y1="390.72" x2="322.4" y2="390.72" stroke="#444" stroke-width="0.5" />
<text x="318.6" y="392.62" font-size="5.4" text-anchor="end" fill="#333" font-family="Liberation Sans, sans-serif"  stroke="#333" stroke-width="0.1">0.4</text>
<line x1="320.8" y1="377.98" x2="322.4" y2="377.98" stroke="#444" stroke-width="0.5" />
<text x="318.6" y="379.88" font-size="5.4" text-anchor="end" fill="#333" font-family="Liberation Sans, sans-serif"  stroke="#333" stroke-width="0.1">0.6</text>
<line x1="320.8" y1="416.6" x2="320.8" y2="418.2" stroke="#444" stroke-width="0.5" />
<text x="322.3" y="424.5" font-size="5.5" text-anchor="middle" fill="#333" font-family="Liberation Sans, sans-serif"  stroke="#333" stroke-width="0.1">1.55</text>
<line x1="339.3" y1="416.6" x2="339.3" y2="418.2" stroke="#444" stroke-width="0.5" />
<text x="339.3" y="424.5" font-size="5.5" text-anchor="middle" fill="#333" font-family="Liberation Sans, sans-serif"  stroke="#333" stroke-width="0.1">1.60</text>
<line x1="357.8" y1="416.6" x2="357.8" y2="418.2" stroke="#444" stroke-width="0.5" />
<text x="357.8" y="424.5" font-size="5.5" text-anchor="middle" fill="#333" font-family="Liberation Sans, sans-serif"  stroke="#333" stroke-width="0.1">1.65</text>
<line x1="376.3" y1="416.6" x2="376.3" y2="418.2" stroke="#444" stroke-width="0.5" />
<text x="376.3" y="424.5" font-size="5.5" text-anchor="middle" fill="#333" font-family="Liberation Sans, sans-serif"  stroke="#333" stroke-width="0.1">1.70</text>
<text x="358" y="432.1" font-size="5.7" text-anchor="middle" fill="#333" font-family="Liberation Sans, sans-serif"  stroke="#333" stroke-width="0.1">Energy (eV)</text>
<text x="0" y="0" font-size="5.7" text-anchor="middle" fill="#333" font-family="Liberation Sans, sans-serif" transform="translate(305.3 397.5) rotate(-90)"  stroke="#333" stroke-width="0.1">Intensity (a.u.)</text>
<g clip-path="url(#clipG)">
<line x1="352.6" y1="369.3" x2="352.6" y2="416.6" stroke="#999" stroke-width="0.5" stroke-dasharray="0.8 1"/>
<line x1="357.6" y1="372.3" x2="357.6" y2="416.6" stroke="#bbb" stroke-width="0.5" stroke-dasharray="0.8 1"/>
<path d="M352.99 373.83 L353.26 374.19 L353.53 374.69 L353.79 375.32 L354.06 376.08 L354.33 376.95 L354.6 377.93 L354.86 379.02 L355.13 380.19 L355.4 381.44 L355.67 382.76 L355.93 384.14 L356.2 385.57 L356.47 387.02 L356.74 388.51 L357 390 L357.27 391.5 L357.54 392.99 L357.81 394.46 L358.07 395.91 L358.34 397.32 L358.61 398.7 L358.88 400.02 L359.15 401.3 L359.41 402.52 L359.68 403.69 L359.95 404.79 L360.22 405.83 L360.48 406.81 L360.75 407.72 L361.02 408.57 L361.29 409.36 L361.55 410.09 L361.82 410.76 L362.09 411.37 L362.36 411.92 L362.62 412.43 L362.89 412.89 L363.16 413.3 L363.43 413.67 L363.69 414 L363.96 414.29 L364.23 414.55 L364.5 414.78 L364.76 414.98 L365.03 415.15 L365.3 415.31 L365.57 415.44 L365.84 415.56 L366.1 415.66 L366.37 415.74 L366.64 415.82 L366.91 415.88 L367.17 415.93 L367.44 415.98 L367.71 416.02 L367.98 416.05 L368.24 416.08 L368.51 416.1 L368.78 416.12 L369.05 416.13 L369.31 416.15 L369.58 416.16 L369.85 416.16 L370.12 416.17 L370.38 416.18 L370.65 416.18 L370.92 416.19 L371.19 416.19 L371.46 416.19 L371.72 416.19 L371.99 416.19 L372.26 416.2 L372.53 416.2 L372.79 416.2 L373.06 416.2 L373.33 416.2 L373.6 416.2 L373.86 416.2 L374.13 416.2 L374.4 416.2 L374.67 416.2 L374.93 416.2 L375.2 416.2 L375.47 416.2 L375.74 416.2 L376 416.2 L376.27 416.2 L376.54 416.2 L376.81 416.2 L377.07 416.2 L377.34 416.2 L377.61 416.2 L377.88 416.2 L378.15 416.2 L378.41 416.2 L378.68 416.2 L378.95 416.2 L379.22 416.2 L379.48 416.2 L379.75 416.2 L380.02 416.2 L380.29 416.2 L380.55 416.2 L380.82 416.2 L381.09 416.2 L381.36 416.2 L381.62 416.2 L381.89 416.2 L382.16 416.2 L382.43 416.2 L382.69 416.2 L382.96 416.2 L383.23 416.2 L383.5 416.2 L383.77 416.2 L384.03 416.2 L384.3 416.2 L384.57 416.2 L384.84 416.2 L385.1 416.2 L385.37 416.2 L385.64 416.2 L385.91 416.2 L386.17 416.2 L386.44 416.2 L386.71 416.2 L386.98 416.2 L387.24 416.2 L387.51 416.2 L387.78 416.2 L388.05 416.2 L388.31 416.2 L388.58 416.2 L388.85 416.2 L389.12 416.2 L389.38 416.2 L389.65 416.2 L389.92 416.2 L390.19 416.2 L390.46 416.2 L390.72 416.2 L390.99 416.2 L391.26 416.2 L391.53 416.2 L391.79 416.2 L392.06 416.2 L392.33 416.2 L392.6 416.2 L392.86 416.2 L393.13 416.2 L393.4 416.2 L393.67 416.2 L393.93 416.2 L394.2 416.2 L394.47 416.2 L394.74 416.2 L395 416.2 L395.27 416.2 L395.54 416.2" fill="none" stroke="#e87070" stroke-width="0.65" stroke-dasharray="0.8 1.3"/>
<path d="M330.05 416.2 L330.52 416.2 L330.99 416.19 L331.46 416.18 L331.93 416.16 L332.41 416.14 L332.88 416.12 L333.35 416.09 L333.82 416.05 L334.29 416.01 L334.76 415.97 L335.23 415.92 L335.7 415.86 L336.17 415.65 L336.65 415.28 L337.12 414.85 L337.59 414.43 L338.06 414.11 L338.53 413.97 L339 414.05 L339.47 414.28 L339.94 414.59 L340.42 414.94 L340.89 415.26 L341.36 415.51 L341.83 415.65 L342.3 415.78 L342.77 415.9 L343.24 416.01 L343.71 416.1 L344.18 416.16 L344.66 416.2 L345.13 416.19 L345.6 416.11 L346.07 415.97 L346.54 415.78 L347.01 415.55 L347.48 415.31 L347.95 415.05 L348.42 414.76 L348.9 414.28 L349.37 413.73 L349.84 413.26 L350.31 413.02 L350.78 413.16 L351.25 413.63 L351.72 414.31 L352.19 415.02 L352.67 415.61 L353.14 416.22 L353.61 416.85 L354.08 417.32 L354.55 417.47 L355.02 417.16 L355.49 416.51 L355.96 415.64 L356.43 414.67 L356.91 413.21 L357.38 411.26 L357.85 409.08 L358.32 406.94 L358.79 404.97 L359.26 402.92 L359.73 400.86 L360.2 398.95 L360.67 397.34 L361.15 396.04 L361.62 394.85 L362.09 393.8 L362.56 392.92 L363.03 392.25 L363.5 391.66 L363.97 391.11 L364.44 390.64 L364.92 390.28 L365.39 390.1 L365.86 390.11 L366.33 390.23 L366.8 390.43 L367.27 390.66 L367.74 390.89 L368.21 391.05 L368.68 391.19 L369.16 391.31 L369.63 391.43 L370.1 391.54 L370.57 391.64 L371.04 391.73 L371.51 391.83 L371.98 391.91 L372.45 392 L372.92 392.08 L373.4 392.16 L373.87 392.23 L374.34 392.31 L374.81 392.38 L375.28 392.46 L375.75 392.54 L376.22 392.62 L376.69 392.7 L377.17 392.78 L377.64 392.87 L378.11 392.96 L378.58 393.04 L379.05 393.13 L379.52 393.21 L379.99 393.29 L380.46 393.37 L380.93 393.45 L381.41 393.52 L381.88 393.59 L382.35 393.65 L382.82 393.71 L383.29 393.77 L383.76 393.82 L384.23 393.88 L384.7 393.93 L385.17 393.98 L385.65 394.03 L386.12 394.08 L386.59 394.13 L387.06 394.18 L387.53 394.24 L388 394.29 L388.47 394.35 L388.94 394.4 L389.42 394.46 L389.89 394.51 L390.36 394.57 L390.83 394.62 L391.3 394.68 L391.77 394.73 L392.24 394.79 L392.71 394.84 L393.18 394.9 L393.66 394.96 L394.13 395.01 L394.6 395.07 L395.07 395.12 L395.54 395.18" fill="none" stroke="#2a2a3a" stroke-width="0.9"/>
<path d="M330.05 416.2 L330.52 416.19 L330.99 416.15 L331.46 416.09 L331.93 416.01 L332.41 415.91 L332.88 415.8 L333.35 415.67 L333.82 415.53 L334.29 415.38 L334.76 415.22 L335.23 415.06 L335.7 414.89 L336.17 414.69 L336.65 414.45 L337.12 414.17 L337.59 413.86 L338.06 413.5 L338.53 413.1 L339 412.67 L339.47 412.19 L339.94 411.6 L340.42 410.89 L340.89 410.06 L341.36 409.14 L341.83 408.14 L342.3 407.06 L342.77 405.94 L343.24 404.74 L343.71 403.35 L344.18 401.79 L344.66 400.09 L345.13 398.29 L345.6 396.42 L346.07 394.52 L346.54 392.63 L347.01 390.71 L347.48 388.6 L347.95 386.38 L348.42 384.18 L348.9 382.09 L349.37 380.24 L349.84 378.69 L350.31 377.12 L350.78 375.59 L351.25 374.26 L351.72 373.3 L352.19 372.89 L352.67 373.03 L353.14 373.49 L353.61 374.14 L354.08 374.86 L354.55 375.55 L355.02 376.38 L355.49 377.38 L355.96 378.38 L356.43 379.24 L356.91 379.8 L357.38 380.01 L357.85 380.13 L358.32 380.21 L358.79 380.28 L359.26 380.39 L359.73 380.57 L360.2 381 L360.67 381.68 L361.15 382.51 L361.62 383.36 L362.09 384.14 L362.56 384.78 L363.03 385.42 L363.5 386.05 L363.97 386.66 L364.44 387.25 L364.92 387.8 L365.39 388.3 L365.86 388.74 L366.33 389.13 L366.8 389.49 L367.27 389.83 L367.74 390.14 L368.21 390.41 L368.68 390.63 L369.16 390.81 L369.63 390.96 L370.1 390.99 L370.57 391.2 L371.04 390.78 L371.51 391.83 L371.98 391.08 L372.45 391.43 L372.92 391.89 L373.4 391.58 L373.87 391.75 L374.34 391.92 L374.81 392.41 L375.28 392.97 L375.75 392.52 L376.22 392.34 L376.69 392.85 L377.17 392.66 L377.64 392.89 L378.11 393.28 L378.58 392.88 L379.05 393.16 L379.52 393.01 L379.99 393.27 L380.46 393.45 L380.93 393.21 L381.41 393.44 L381.88 393.53 L382.35 393.49 L382.82 393.42 L383.29 393.41 L383.76 393.79 L384.23 393.81 L384.7 394.49 L385.17 393.37 L385.65 394.06 L386.12 394.17 L386.59 394.47 L387.06 394.31 L387.53 394.03 L388 394.29 L388.47 394.48 L388.94 394.32 L389.42 394.65 L389.89 394.05 L390.36 395 L390.83 394.99 L391.3 394.59 L391.77 394.89 L392.24 394.8 L392.71 394.64 L393.18 394.92 L393.66 395.21 L394.13 394.92 L394.6 394.97 L395.07 395.1 L395.54 395.29" fill="none" stroke="#3a88d8" stroke-width="0.9"/>
</g>
<line x1="352.2" y1="371.6" x2="358.4" y2="371.6" stroke="#222" stroke-width="0.9" stroke-dasharray="1.3 2.2"/>
<text x="325" y="379.4" font-size="6.6" text-anchor="start" fill="#222" font-family="Liberation Sans, sans-serif"  stroke="#222" stroke-width="0.1">4L</text>
<text x="361.4" y="378.4" font-size="7.6" text-anchor="start" fill="#222" font-family="Liberation Sans, sans-serif"  stroke="#222" stroke-width="0.18">E<tspan font-size="4.4" dy="1.2">τ</tspan></text>
<text x="378.2" y="391.2" font-size="7.6" text-anchor="start" fill="#2a78d0" font-family="Liberation Sans, sans-serif"  stroke="#2a78d0" stroke-width="0.18">PLE</text>
<text x="382.8" y="412.4" font-size="7.4" text-anchor="start" fill="#cc3030" font-family="Liberation Sans, sans-serif"  stroke="#cc3030" stroke-width="0.18">X<tspan font-size="4.4" dy="1.2">A</tspan></text>
</g>
</g>
<defs><filter id="soft" x="0" y="0" width="100%" height="100%"><feGaussianBlur stdDeviation="0.42"/></filter>
<linearGradient id="gradA" gradientUnits="userSpaceOnUse" x1="34" y1="0" x2="185" y2="0"><stop offset="0" stop-color="#ee3058"/><stop offset="0.45" stop-color="#d83068"/><stop offset="0.75" stop-color="#9a3a90"/><stop offset="1" stop-color="#6a3e9c"/></linearGradient><radialGradient id="bfp" cx="50%" cy="50%" r="50%"><stop offset="0" stop-color="#ffa020"/><stop offset="0.5" stop-color="#ff981c"/><stop offset="0.8" stop-color="#ff8a18"/><stop offset="0.93" stop-color="#f86810"/><stop offset="1" stop-color="#d03808"/></radialGradient>
<linearGradient id="bfpv" x1="0" y1="0" x2="0" y2="1"><stop offset="0" stop-color="#ffc030" stop-opacity="0.85"/><stop offset="0.3" stop-color="#ffb428" stop-opacity="0.25"/><stop offset="0.5" stop-color="#ffb428" stop-opacity="0.0"/><stop offset="0.7" stop-color="#ffb428" stop-opacity="0.25"/><stop offset="1" stop-color="#ffc030" stop-opacity="0.9"/></linearGradient>
<radialGradient id="bfph" cx="50%" cy="50%" r="50%" gradientTransform="translate(0.5 0.5) scale(1 1.6) translate(-0.5 -0.5)"><stop offset="0" stop-color="#f03008" stop-opacity="0"/><stop offset="0.55" stop-color="#f03008" stop-opacity="0"/><stop offset="0.85" stop-color="#f03008" stop-opacity="0.55"/><stop offset="1" stop-color="#e02808" stop-opacity="0.9"/></radialGradient>
<filter id="blur5" x="-50%" y="-50%" width="200%" height="200%"><feGaussianBlur stdDeviation="4.5"/></filter>
<linearGradient id="cbar" x1="0" y1="0" x2="1" y2="0"><stop offset="0" stop-color="#000"/><stop offset="0.2" stop-color="#4a0000"/><stop offset="0.42" stop-color="#c01000"/><stop offset="0.6" stop-color="#f04a08"/><stop offset="0.8" stop-color="#ff9a18"/><stop offset="0.94" stop-color="#ffd828"/><stop offset="1" stop-color="#fff060"/></linearGradient>
<clipPath id="clipCirc"><circle cx="128.6" cy="226.2" r="29"/></clipPath>
<linearGradient id="semtop" x1="0" y1="0" x2="0" y2="1"><stop offset="0" stop-color="#8a8a8a"/><stop offset="0.35" stop-color="#a8a8a8"/><stop offset="0.8" stop-color="#969696"/><stop offset="1" stop-color="#7a7a7a"/></linearGradient>
<linearGradient id="semleft" x1="0" y1="0" x2="1" y2="0"><stop offset="0" stop-color="#848484"/><stop offset="0.5" stop-color="#989898"/><stop offset="1" stop-color="#b8b8b8"/></linearGradient>
<linearGradient id="darkg" x1="0" y1="0" x2="0" y2="1"><stop offset="0" stop-color="#5c5c5c"/><stop offset="0.35" stop-color="#4a4a4a"/><stop offset="1" stop-color="#444"/></linearGradient>
<linearGradient id="ptg" x1="0" y1="0" x2="0" y2="1"><stop offset="0" stop-color="#747474"/><stop offset="1" stop-color="#8c8c8c"/></linearGradient>
<clipPath id="clipSem"><rect x="223.8" y="201.2" width="144.1" height="50.3"/></clipPath>
</defs>
</svg></body></html>
